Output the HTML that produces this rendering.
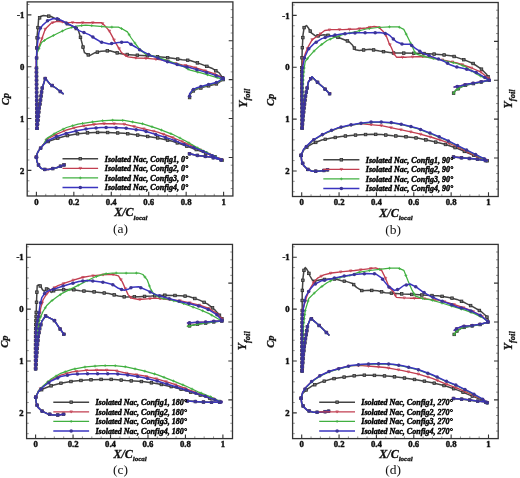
<!DOCTYPE html><html><head><meta charset="utf-8"><style>html,body{margin:0;padding:0;background:#fff}svg{display:block;filter:blur(0.35px)}</style></head><body><svg width="520" height="478" viewBox="0 0 520 478">
<style>
.tk{font-family:"Liberation Serif",serif;font-weight:bold;font-size:8.7px;fill:#111;stroke:#111;stroke-width:0.45px}
.ti{font-family:"Liberation Serif",serif;font-weight:bold;font-style:italic;fill:#111;stroke:#111;stroke-width:0.3px}
.lg{font-family:"Liberation Serif",serif;font-weight:bold;font-style:italic;font-size:8px;fill:#000;stroke:#000;stroke-width:0.42px}
.lb{font-family:"Liberation Serif",serif;font-size:13.5px;fill:#111}
</style>
<rect width="520" height="478" fill="#fff"/>
<path d="M27.2 14.85h4.2M27.2 66.7h4.2M27.2 118.55h4.2M27.2 170.4h4.2M36.4 196v-4.2M73.84 196v-4.2M111.28 196v-4.2M148.72 196v-4.2M186.16 196v-4.2M223.6 196v-4.2M232.9 40.77h-4.2M232.9 79.66h-4.2M232.9 118.55h-4.2M232.9 157.44h-4.2" stroke="#333" stroke-width="1.1" fill="none"/>
<path d="M27.2 4.48h2.2M27.2 25.22h2.2M27.2 35.59h2.2M27.2 45.96h2.2M27.2 56.33h2.2M27.2 77.07h2.2M27.2 87.44h2.2M27.2 97.81h2.2M27.2 108.18h2.2M27.2 128.92h2.2M27.2 139.29h2.2M27.2 149.66h2.2M27.2 160.03h2.2M27.2 180.77h2.2M27.2 191.14h2.2M45.76 196v-2.2M55.12 196v-2.2M64.48 196v-2.2M83.2 196v-2.2M92.56 196v-2.2M101.92 196v-2.2M120.64 196v-2.2M130 196v-2.2M139.36 196v-2.2M158.08 196v-2.2M167.44 196v-2.2M176.8 196v-2.2M195.52 196v-2.2M204.88 196v-2.2M214.24 196v-2.2M232.9 9.66h-2.2M232.9 17.44h-2.2M232.9 25.22h-2.2M232.9 33h-2.2M232.9 48.55h-2.2M232.9 56.33h-2.2M232.9 64.11h-2.2M232.9 71.89h-2.2M232.9 87.44h-2.2M232.9 95.22h-2.2M232.9 102.99h-2.2M232.9 110.77h-2.2M232.9 126.33h-2.2M232.9 134.1h-2.2M232.9 141.88h-2.2M232.9 149.66h-2.2M232.9 165.22h-2.2M232.9 172.99h-2.2M232.9 180.77h-2.2M232.9 188.55h-2.2" stroke="#888" stroke-width="0.9" fill="none"/>
<rect x="27.2" y="1.9" width="205.7" height="194.1" fill="none" stroke="#333" stroke-width="1.3"/>
<text x="24.3" y="18.05" text-anchor="end" class="tk">-1</text>
<text x="24.3" y="69.9" text-anchor="end" class="tk">0</text>
<text x="24.3" y="121.75" text-anchor="end" class="tk">1</text>
<text x="24.3" y="173.6" text-anchor="end" class="tk">2</text>
<text x="36.4" y="204.6" text-anchor="middle" class="tk">0</text>
<text x="73.84" y="204.6" text-anchor="middle" class="tk">0.2</text>
<text x="111.28" y="204.6" text-anchor="middle" class="tk">0.4</text>
<text x="148.72" y="204.6" text-anchor="middle" class="tk">0.6</text>
<text x="186.16" y="204.6" text-anchor="middle" class="tk">0.8</text>
<text x="223.6" y="204.6" text-anchor="middle" class="tk">1</text>
<text transform="translate(8.9 99.2) rotate(-90)" text-anchor="middle" class="ti" font-size="10.5">Cp</text>
<text transform="translate(246.5 98.3) rotate(-90)" text-anchor="middle" class="ti"><tspan font-size="11.5">Y</tspan><tspan font-size="8.5" dy="3.5" dx="0.3">foil</tspan></text>
<text x="130.9" y="216.3" text-anchor="middle" class="ti"><tspan font-size="12">X/C</tspan><tspan font-size="7" dy="3.4">local</tspan></text>
<text x="120.5" y="233.2" text-anchor="middle" class="lb">(a)</text>
<path d="M37 128.3L36.8 110L36.6 90L36.5 71.3L36.7 50.2L37.2 34.8L38 27.1L38.6 19.4L40.5 16.5L43.4 15.5L47.2 15.9L51.1 16.5L56.8 19.4L64.5 22.3L72.2 26.1L78 29.6L79.5 34.1L81 39.1L82.5 45.1L84.5 52.7L89.6 55.7L95.1 52.7L101.1 51.2L110.1 50.7L118.2 53.2L126 54.4L136.6 55.2L147.2 55.8L164.1 57.3L172.7 58.3L182.2 59.7L190.2 60.5L201 64.1L211.8 68.2L219.2 72.9L222.5 77.6L223.2 78.9" fill="none" stroke="#444444" stroke-width="1.5" stroke-linejoin="round" stroke-linecap="round"/>
<path d="M37 128.3L38.2 118L39 109.8L40.4 101L41.9 89.3L45.3 78.3L50 84.1L56.5 88.5L63.1 93.7" fill="none" stroke="#444444" stroke-width="1.5" stroke-linejoin="round" stroke-linecap="round"/>
<path d="M223.2 79.6L217.1 83.7L206.4 86.4L197 89.1L192.9 91.1L189.6 95.1L189.6 97.8" fill="none" stroke="#444444" stroke-width="1.5" stroke-linejoin="round" stroke-linecap="round"/>
<path d="M36.4 157.2L37.2 153.5L38.7 150.6L43 145.2L47.2 141.9L56.8 138.5L66.5 135.8L78 133.7L89.5 132.7L101.1 132.3L112.6 132.7L124.2 133.3L142.9 135.8L157.7 137.9L172.5 141.3L185.2 145.5L197.9 150.2L210.6 154.8L222.3 160.3" fill="none" stroke="#444444" stroke-width="1.5" stroke-linejoin="round" stroke-linecap="round"/>
<path d="M36.4 157.2L36.9 161.5L38.6 165.2L41 168.3L44.5 169.4L48.5 169.5L56.5 167.8L64 164.9" fill="none" stroke="#444444" stroke-width="1.5" stroke-linejoin="round" stroke-linecap="round"/>
<path d="M189.5 153.8L197.9 155.5L210.6 157L217 158.7L222.3 160.3" fill="none" stroke="#444444" stroke-width="1.5" stroke-linejoin="round" stroke-linecap="round"/>
<rect x="35.7" y="127" width="2.6" height="2.6" fill="#707070" stroke="#2a2a2a" stroke-width="0.75"/><rect x="35.66" y="122.99" width="2.6" height="2.6" fill="#707070" stroke="#2a2a2a" stroke-width="0.75"/><rect x="35.61" y="118.98" width="2.6" height="2.6" fill="#707070" stroke="#2a2a2a" stroke-width="0.75"/><rect x="35.57" y="114.97" width="2.6" height="2.6" fill="#707070" stroke="#2a2a2a" stroke-width="0.75"/><rect x="35.52" y="110.96" width="2.6" height="2.6" fill="#707070" stroke="#2a2a2a" stroke-width="0.75"/><rect x="35.48" y="106.95" width="2.6" height="2.6" fill="#707070" stroke="#2a2a2a" stroke-width="0.75"/><rect x="35.44" y="102.95" width="2.6" height="2.6" fill="#707070" stroke="#2a2a2a" stroke-width="0.75"/><rect x="35.4" y="98.95" width="2.6" height="2.6" fill="#707070" stroke="#2a2a2a" stroke-width="0.75"/><rect x="35.36" y="94.95" width="2.6" height="2.6" fill="#707070" stroke="#2a2a2a" stroke-width="0.75"/><rect x="35.32" y="90.95" width="2.6" height="2.6" fill="#707070" stroke="#2a2a2a" stroke-width="0.75"/><rect x="35.29" y="86.93" width="2.6" height="2.6" fill="#707070" stroke="#2a2a2a" stroke-width="0.75"/><rect x="35.27" y="82.89" width="2.6" height="2.6" fill="#707070" stroke="#2a2a2a" stroke-width="0.75"/><rect x="35.25" y="78.84" width="2.6" height="2.6" fill="#707070" stroke="#2a2a2a" stroke-width="0.75"/><rect x="35.23" y="74.8" width="2.6" height="2.6" fill="#707070" stroke="#2a2a2a" stroke-width="0.75"/><rect x="35.2" y="70.76" width="2.6" height="2.6" fill="#707070" stroke="#2a2a2a" stroke-width="0.75"/><rect x="35.23" y="66.73" width="2.6" height="2.6" fill="#707070" stroke="#2a2a2a" stroke-width="0.75"/><rect x="35.33" y="56.69" width="2.6" height="2.6" fill="#707070" stroke="#2a2a2a" stroke-width="0.75"/><rect x="35.47" y="46.63" width="2.6" height="2.6" fill="#707070" stroke="#2a2a2a" stroke-width="0.75"/><rect x="35.8" y="36.53" width="2.6" height="2.6" fill="#707070" stroke="#2a2a2a" stroke-width="0.75"/><rect x="36.65" y="26.31" width="2.6" height="2.6" fill="#707070" stroke="#2a2a2a" stroke-width="0.75"/><rect x="38.32" y="16.54" width="2.6" height="2.6" fill="#707070" stroke="#2a2a2a" stroke-width="0.75"/><rect x="47.46" y="14.84" width="2.6" height="2.6" fill="#707070" stroke="#2a2a2a" stroke-width="0.75"/><rect x="56.7" y="18.55" width="2.6" height="2.6" fill="#707070" stroke="#2a2a2a" stroke-width="0.75"/><rect x="66.14" y="22.45" width="2.6" height="2.6" fill="#707070" stroke="#2a2a2a" stroke-width="0.75"/><rect x="74.98" y="27.26" width="2.6" height="2.6" fill="#707070" stroke="#2a2a2a" stroke-width="0.75"/><rect x="79.17" y="36.05" width="2.6" height="2.6" fill="#707070" stroke="#2a2a2a" stroke-width="0.75"/><rect x="81.72" y="45.76" width="2.6" height="2.6" fill="#707070" stroke="#2a2a2a" stroke-width="0.75"/><rect x="86.97" y="53.62" width="2.6" height="2.6" fill="#707070" stroke="#2a2a2a" stroke-width="0.75"/><rect x="96.05" y="50.84" width="2.6" height="2.6" fill="#707070" stroke="#2a2a2a" stroke-width="0.75"/><rect x="106.05" y="49.55" width="2.6" height="2.6" fill="#707070" stroke="#2a2a2a" stroke-width="0.75"/><rect x="115.92" y="51.6" width="2.6" height="2.6" fill="#707070" stroke="#2a2a2a" stroke-width="0.75"/><rect x="125.96" y="53.2" width="2.6" height="2.6" fill="#707070" stroke="#2a2a2a" stroke-width="0.75"/><rect x="136.06" y="53.94" width="2.6" height="2.6" fill="#707070" stroke="#2a2a2a" stroke-width="0.75"/><rect x="146.15" y="54.52" width="2.6" height="2.6" fill="#707070" stroke="#2a2a2a" stroke-width="0.75"/><rect x="156.24" y="55.42" width="2.6" height="2.6" fill="#707070" stroke="#2a2a2a" stroke-width="0.75"/><rect x="166.34" y="56.41" width="2.6" height="2.6" fill="#707070" stroke="#2a2a2a" stroke-width="0.75"/><rect x="176.4" y="57.74" width="2.6" height="2.6" fill="#707070" stroke="#2a2a2a" stroke-width="0.75"/><rect x="186.4" y="58.95" width="2.6" height="2.6" fill="#707070" stroke="#2a2a2a" stroke-width="0.75"/><rect x="196.1" y="61.6" width="2.6" height="2.6" fill="#707070" stroke="#2a2a2a" stroke-width="0.75"/><rect x="205.57" y="65.03" width="2.6" height="2.6" fill="#707070" stroke="#2a2a2a" stroke-width="0.75"/><rect x="214.52" y="69.45" width="2.6" height="2.6" fill="#707070" stroke="#2a2a2a" stroke-width="0.75"/><rect x="221.34" y="76.56" width="2.6" height="2.6" fill="#707070" stroke="#2a2a2a" stroke-width="0.75"/>
<rect x="35.7" y="127" width="2.6" height="2.6" fill="#707070" stroke="#2a2a2a" stroke-width="0.75"/><rect x="36.17" y="122.98" width="2.6" height="2.6" fill="#707070" stroke="#2a2a2a" stroke-width="0.75"/><rect x="36.64" y="118.96" width="2.6" height="2.6" fill="#707070" stroke="#2a2a2a" stroke-width="0.75"/><rect x="37.08" y="114.91" width="2.6" height="2.6" fill="#707070" stroke="#2a2a2a" stroke-width="0.75"/><rect x="37.48" y="110.81" width="2.6" height="2.6" fill="#707070" stroke="#2a2a2a" stroke-width="0.75"/><rect x="37.98" y="106.74" width="2.6" height="2.6" fill="#707070" stroke="#2a2a2a" stroke-width="0.75"/><rect x="38.62" y="102.72" width="2.6" height="2.6" fill="#707070" stroke="#2a2a2a" stroke-width="0.75"/><rect x="39.23" y="98.7" width="2.6" height="2.6" fill="#707070" stroke="#2a2a2a" stroke-width="0.75"/><rect x="39.74" y="94.72" width="2.6" height="2.6" fill="#707070" stroke="#2a2a2a" stroke-width="0.75"/><rect x="40.25" y="90.74" width="2.6" height="2.6" fill="#707070" stroke="#2a2a2a" stroke-width="0.75"/><rect x="40.97" y="86.8" width="2.6" height="2.6" fill="#707070" stroke="#2a2a2a" stroke-width="0.75"/><rect x="43.93" y="77.24" width="2.6" height="2.6" fill="#707070" stroke="#2a2a2a" stroke-width="0.75"/><rect x="50.8" y="84.22" width="2.6" height="2.6" fill="#707070" stroke="#2a2a2a" stroke-width="0.75"/><rect x="59" y="90.19" width="2.6" height="2.6" fill="#707070" stroke="#2a2a2a" stroke-width="0.75"/>
<rect x="221.9" y="78.3" width="2.6" height="2.6" fill="#707070" stroke="#2a2a2a" stroke-width="0.75"/><rect x="215.07" y="82.58" width="2.6" height="2.6" fill="#707070" stroke="#2a2a2a" stroke-width="0.75"/><rect x="207.29" y="84.55" width="2.6" height="2.6" fill="#707070" stroke="#2a2a2a" stroke-width="0.75"/><rect x="199.56" y="86.69" width="2.6" height="2.6" fill="#707070" stroke="#2a2a2a" stroke-width="0.75"/><rect x="192.06" y="89.58" width="2.6" height="2.6" fill="#707070" stroke="#2a2a2a" stroke-width="0.75"/><rect x="188.3" y="96.23" width="2.6" height="2.6" fill="#707070" stroke="#2a2a2a" stroke-width="0.75"/>
<rect x="35.1" y="155.9" width="2.6" height="2.6" fill="#707070" stroke="#2a2a2a" stroke-width="0.75"/><rect x="39.31" y="146.9" width="2.6" height="2.6" fill="#707070" stroke="#2a2a2a" stroke-width="0.75"/><rect x="46.86" y="140.26" width="2.6" height="2.6" fill="#707070" stroke="#2a2a2a" stroke-width="0.75"/><rect x="56.47" y="136.93" width="2.6" height="2.6" fill="#707070" stroke="#2a2a2a" stroke-width="0.75"/><rect x="66.2" y="134.32" width="2.6" height="2.6" fill="#707070" stroke="#2a2a2a" stroke-width="0.75"/><rect x="76.2" y="132.49" width="2.6" height="2.6" fill="#707070" stroke="#2a2a2a" stroke-width="0.75"/><rect x="86.2" y="131.57" width="2.6" height="2.6" fill="#707070" stroke="#2a2a2a" stroke-width="0.75"/><rect x="96.27" y="131.12" width="2.6" height="2.6" fill="#707070" stroke="#2a2a2a" stroke-width="0.75"/><rect x="106.3" y="131.23" width="2.6" height="2.6" fill="#707070" stroke="#2a2a2a" stroke-width="0.75"/><rect x="116.34" y="131.66" width="2.6" height="2.6" fill="#707070" stroke="#2a2a2a" stroke-width="0.75"/><rect x="126.39" y="132.47" width="2.6" height="2.6" fill="#707070" stroke="#2a2a2a" stroke-width="0.75"/><rect x="136.36" y="133.8" width="2.6" height="2.6" fill="#707070" stroke="#2a2a2a" stroke-width="0.75"/><rect x="146.37" y="135.18" width="2.6" height="2.6" fill="#707070" stroke="#2a2a2a" stroke-width="0.75"/><rect x="156.4" y="136.6" width="2.6" height="2.6" fill="#707070" stroke="#2a2a2a" stroke-width="0.75"/><rect x="166.27" y="138.87" width="2.6" height="2.6" fill="#707070" stroke="#2a2a2a" stroke-width="0.75"/><rect x="175.99" y="141.58" width="2.6" height="2.6" fill="#707070" stroke="#2a2a2a" stroke-width="0.75"/><rect x="185.55" y="144.81" width="2.6" height="2.6" fill="#707070" stroke="#2a2a2a" stroke-width="0.75"/><rect x="194.95" y="148.29" width="2.6" height="2.6" fill="#707070" stroke="#2a2a2a" stroke-width="0.75"/><rect x="204.36" y="151.71" width="2.6" height="2.6" fill="#707070" stroke="#2a2a2a" stroke-width="0.75"/><rect x="213.66" y="155.55" width="2.6" height="2.6" fill="#707070" stroke="#2a2a2a" stroke-width="0.75"/><rect x="221" y="159" width="2.6" height="2.6" fill="#707070" stroke="#2a2a2a" stroke-width="0.75"/>
<rect x="35.1" y="155.9" width="2.6" height="2.6" fill="#707070" stroke="#2a2a2a" stroke-width="0.75"/><rect x="37.19" y="163.67" width="2.6" height="2.6" fill="#707070" stroke="#2a2a2a" stroke-width="0.75"/><rect x="43.45" y="168.11" width="2.6" height="2.6" fill="#707070" stroke="#2a2a2a" stroke-width="0.75"/><rect x="51.45" y="167.3" width="2.6" height="2.6" fill="#707070" stroke="#2a2a2a" stroke-width="0.75"/><rect x="59.18" y="164.96" width="2.6" height="2.6" fill="#707070" stroke="#2a2a2a" stroke-width="0.75"/><rect x="62.7" y="163.6" width="2.6" height="2.6" fill="#707070" stroke="#2a2a2a" stroke-width="0.75"/>
<rect x="188.2" y="152.5" width="2.6" height="2.6" fill="#707070" stroke="#2a2a2a" stroke-width="0.75"/><rect x="196.11" y="154.1" width="2.6" height="2.6" fill="#707070" stroke="#2a2a2a" stroke-width="0.75"/><rect x="204.07" y="155.08" width="2.6" height="2.6" fill="#707070" stroke="#2a2a2a" stroke-width="0.75"/><rect x="212.01" y="156.42" width="2.6" height="2.6" fill="#707070" stroke="#2a2a2a" stroke-width="0.75"/><rect x="219.8" y="158.64" width="2.6" height="2.6" fill="#707070" stroke="#2a2a2a" stroke-width="0.75"/>
<path d="M37 128.3L36.8 110L36.5 80L36.1 61.7L37.6 50.2L40.5 42.5L45.3 29L51.1 23.2L56.8 21.3L66.5 22.3L76.1 22.7L89.5 22.7L101.6 22.7L105.1 26.1L109.1 30.6L112.1 36.1L115.2 42.1L118.2 47.1L121.2 52.2L124.2 54.7L128 56.9L136.6 58L147.2 58.4L157.7 59.4L168.3 61.1L172.7 62.8L182.2 64.8L190.2 66.2L201 69.5L211.8 72.9L219.8 76.2L223.2 78.9" fill="none" stroke="#c23e50" stroke-width="1.35" stroke-linejoin="round" stroke-linecap="round"/>
<path d="M37 128.3L38.2 118L39 109.8L40.4 101L41.9 89.3L45.3 78.3L50 84.1L56.5 88.5L63.1 93.7" fill="none" stroke="#c23e50" stroke-width="1.35" stroke-linejoin="round" stroke-linecap="round"/>
<path d="M223.2 78.9L217.1 83L206.4 85.7L197 88.4L192.9 90.4L189.6 94.4L189.6 97.1" fill="none" stroke="#c23e50" stroke-width="1.35" stroke-linejoin="round" stroke-linecap="round"/>
<path d="M36.4 157.2L37.2 153.5L38.7 150.6L43 145.2L47.2 139L56.8 134.2L66.5 130L78 126.9L89.5 125L101.1 123.7L112.6 123.7L124.2 124.2L142.9 128.6L157.7 132.2L172.5 137.5L185.2 142.8L197.9 148.7L210.6 154.8L222.3 160.3" fill="none" stroke="#c23e50" stroke-width="1.35" stroke-linejoin="round" stroke-linecap="round"/>
<path d="M36.4 157.2L36.9 161.5L38.6 165.2L41 168.3L44.5 169.4L48.5 169.5L56.5 167.8L64 164.9" fill="none" stroke="#c23e50" stroke-width="1.35" stroke-linejoin="round" stroke-linecap="round"/>
<path d="M189.5 153.8L197.9 155.5L210.6 157L217 158.7L222.3 160.3" fill="none" stroke="#c23e50" stroke-width="1.35" stroke-linejoin="round" stroke-linecap="round"/>
<path d="M35.7 127.39H38.3L37 129.6Z" fill="none" stroke="#c23e50" stroke-width="0.7"/><path d="M35.66 123.38H38.26L36.96 125.59Z" fill="none" stroke="#c23e50" stroke-width="0.7"/><path d="M35.61 119.37H38.21L36.91 121.58Z" fill="none" stroke="#c23e50" stroke-width="0.7"/><path d="M35.57 115.36H38.17L36.87 117.57Z" fill="none" stroke="#c23e50" stroke-width="0.7"/><path d="M35.52 111.35H38.12L36.82 113.56Z" fill="none" stroke="#c23e50" stroke-width="0.7"/><path d="M35.48 107.34H38.08L36.78 109.55Z" fill="none" stroke="#c23e50" stroke-width="0.7"/><path d="M35.44 103.34H38.04L36.74 105.55Z" fill="none" stroke="#c23e50" stroke-width="0.7"/><path d="M35.4 99.34H38L36.7 101.55Z" fill="none" stroke="#c23e50" stroke-width="0.7"/><path d="M35.36 95.34H37.96L36.66 97.55Z" fill="none" stroke="#c23e50" stroke-width="0.7"/><path d="M35.32 91.34H37.92L36.62 93.55Z" fill="none" stroke="#c23e50" stroke-width="0.7"/><path d="M35.28 87.34H37.88L36.58 89.55Z" fill="none" stroke="#c23e50" stroke-width="0.7"/><path d="M35.24 83.34H37.84L36.54 85.55Z" fill="none" stroke="#c23e50" stroke-width="0.7"/><path d="M35.2 79.34H37.8L36.5 81.55Z" fill="none" stroke="#c23e50" stroke-width="0.7"/><path d="M35.12 75.33H37.72L36.42 77.54Z" fill="none" stroke="#c23e50" stroke-width="0.7"/><path d="M35.03 71.32H37.63L36.33 73.53Z" fill="none" stroke="#c23e50" stroke-width="0.7"/><path d="M34.94 67.31H37.54L36.24 69.52Z" fill="none" stroke="#c23e50" stroke-width="0.7"/><path d="M35.26 57.29H37.86L36.56 59.5Z" fill="none" stroke="#c23e50" stroke-width="0.7"/><path d="M37.03 47.37H39.62L38.33 49.58Z" fill="none" stroke="#c23e50" stroke-width="0.7"/><path d="M40.55 37.8H43.15L41.85 40.01Z" fill="none" stroke="#c23e50" stroke-width="0.7"/><path d="M43.92 28.33H46.52L45.22 30.54Z" fill="none" stroke="#c23e50" stroke-width="0.7"/><path d="M51.46 21.74H54.06L52.76 23.95Z" fill="none" stroke="#c23e50" stroke-width="0.7"/><path d="M61.22 20.98H63.82L62.52 23.19Z" fill="none" stroke="#c23e50" stroke-width="0.7"/><path d="M71.26 21.64H73.86L72.56 23.85Z" fill="none" stroke="#c23e50" stroke-width="0.7"/><path d="M81.37 21.79H83.97L82.67 24Z" fill="none" stroke="#c23e50" stroke-width="0.7"/><path d="M91.48 21.79H94.08L92.78 24Z" fill="none" stroke="#c23e50" stroke-width="0.7"/><path d="M101.22 22.68H103.82L102.52 24.89Z" fill="none" stroke="#c23e50" stroke-width="0.7"/><path d="M108.04 30.13H110.64L109.34 32.34Z" fill="none" stroke="#c23e50" stroke-width="0.7"/><path d="M112.75 38.97H115.35L114.05 41.18Z" fill="none" stroke="#c23e50" stroke-width="0.7"/><path d="M117.81 47.74H120.41L119.11 49.95Z" fill="none" stroke="#c23e50" stroke-width="0.7"/><path d="M124.69 54.83H127.29L125.99 57.04Z" fill="none" stroke="#c23e50" stroke-width="0.7"/><path d="M134.54 56.99H137.14L135.84 59.2Z" fill="none" stroke="#c23e50" stroke-width="0.7"/><path d="M144.64 57.44H147.24L145.94 59.65Z" fill="none" stroke="#c23e50" stroke-width="0.7"/><path d="M154.65 58.32H157.25L155.95 60.53Z" fill="none" stroke="#c23e50" stroke-width="0.7"/><path d="M164.73 59.83H167.33L166.03 62.04Z" fill="none" stroke="#c23e50" stroke-width="0.7"/><path d="M174.4 62.52H177L175.7 64.73Z" fill="none" stroke="#c23e50" stroke-width="0.7"/><path d="M184.4 64.5H187L185.7 66.71Z" fill="none" stroke="#c23e50" stroke-width="0.7"/><path d="M194.18 66.9H196.78L195.48 69.11Z" fill="none" stroke="#c23e50" stroke-width="0.7"/><path d="M203.78 69.87H206.38L205.08 72.08Z" fill="none" stroke="#c23e50" stroke-width="0.7"/><path d="M213.32 73.15H215.92L214.62 75.36Z" fill="none" stroke="#c23e50" stroke-width="0.7"/><path d="M221.9 77.99H224.5L223.2 80.2Z" fill="none" stroke="#c23e50" stroke-width="0.7"/>
<path d="M35.7 127.39H38.3L37 129.6Z" fill="none" stroke="#c23e50" stroke-width="0.7"/><path d="M36.17 123.37H38.77L37.47 125.58Z" fill="none" stroke="#c23e50" stroke-width="0.7"/><path d="M36.64 119.35H39.24L37.94 121.56Z" fill="none" stroke="#c23e50" stroke-width="0.7"/><path d="M37.08 115.3H39.67L38.38 117.51Z" fill="none" stroke="#c23e50" stroke-width="0.7"/><path d="M37.48 111.2H40.07L38.77 113.41Z" fill="none" stroke="#c23e50" stroke-width="0.7"/><path d="M37.98 107.13H40.58L39.28 109.34Z" fill="none" stroke="#c23e50" stroke-width="0.7"/><path d="M38.62 103.11H41.22L39.92 105.32Z" fill="none" stroke="#c23e50" stroke-width="0.7"/><path d="M39.23 99.09H41.83L40.53 101.3Z" fill="none" stroke="#c23e50" stroke-width="0.7"/><path d="M39.74 95.11H42.34L41.04 97.32Z" fill="none" stroke="#c23e50" stroke-width="0.7"/><path d="M40.25 91.13H42.85L41.55 93.34Z" fill="none" stroke="#c23e50" stroke-width="0.7"/><path d="M40.97 87.19H43.57L42.27 89.4Z" fill="none" stroke="#c23e50" stroke-width="0.7"/><path d="M43.93 77.63H46.53L45.23 79.84Z" fill="none" stroke="#c23e50" stroke-width="0.7"/><path d="M50.8 84.61H53.4L52.1 86.82Z" fill="none" stroke="#c23e50" stroke-width="0.7"/><path d="M59 90.58H61.6L60.3 92.79Z" fill="none" stroke="#c23e50" stroke-width="0.7"/>
<path d="M221.9 77.99H224.5L223.2 80.2Z" fill="none" stroke="#c23e50" stroke-width="0.7"/><path d="M215.07 82.27H217.67L216.37 84.48Z" fill="none" stroke="#c23e50" stroke-width="0.7"/><path d="M207.29 84.24H209.89L208.59 86.45Z" fill="none" stroke="#c23e50" stroke-width="0.7"/><path d="M199.56 86.38H202.16L200.86 88.59Z" fill="none" stroke="#c23e50" stroke-width="0.7"/><path d="M192.06 89.27H194.66L193.36 91.48Z" fill="none" stroke="#c23e50" stroke-width="0.7"/><path d="M188.3 95.92H190.9L189.6 98.13Z" fill="none" stroke="#c23e50" stroke-width="0.7"/>
<path d="M35.1 156.29H37.7L36.4 158.5Z" fill="none" stroke="#c23e50" stroke-width="0.7"/><path d="M39.31 147.29H41.91L40.61 149.5Z" fill="none" stroke="#c23e50" stroke-width="0.7"/><path d="M45.18 139.16H47.78L46.48 141.37Z" fill="none" stroke="#c23e50" stroke-width="0.7"/><path d="M53.9 134.09H56.5L55.2 136.3Z" fill="none" stroke="#c23e50" stroke-width="0.7"/><path d="M63.12 129.99H65.72L64.42 132.2Z" fill="none" stroke="#c23e50" stroke-width="0.7"/><path d="M72.79 127.05H75.39L74.09 129.26Z" fill="none" stroke="#c23e50" stroke-width="0.7"/><path d="M82.7 125H85.3L84 127.21Z" fill="none" stroke="#c23e50" stroke-width="0.7"/><path d="M92.74 123.58H95.34L94.04 125.79Z" fill="none" stroke="#c23e50" stroke-width="0.7"/><path d="M102.8 122.79H105.4L104.1 125Z" fill="none" stroke="#c23e50" stroke-width="0.7"/><path d="M112.81 122.86H115.41L114.11 125.07Z" fill="none" stroke="#c23e50" stroke-width="0.7"/><path d="M122.9 123.29H125.5L124.2 125.5Z" fill="none" stroke="#c23e50" stroke-width="0.7"/><path d="M132.74 125.61H135.34L134.04 127.82Z" fill="none" stroke="#c23e50" stroke-width="0.7"/><path d="M142.59 127.93H145.19L143.89 130.14Z" fill="none" stroke="#c23e50" stroke-width="0.7"/><path d="M152.45 130.33H155.05L153.75 132.54Z" fill="none" stroke="#c23e50" stroke-width="0.7"/><path d="M162.13 133.34H164.73L163.43 135.55Z" fill="none" stroke="#c23e50" stroke-width="0.7"/><path d="M171.66 136.78H174.26L172.96 138.99Z" fill="none" stroke="#c23e50" stroke-width="0.7"/><path d="M180.9 140.64H183.5L182.2 142.85Z" fill="none" stroke="#c23e50" stroke-width="0.7"/><path d="M190.02 144.73H192.62L191.32 146.94Z" fill="none" stroke="#c23e50" stroke-width="0.7"/><path d="M199.09 148.99H201.69L200.39 151.2Z" fill="none" stroke="#c23e50" stroke-width="0.7"/><path d="M208.17 153.35H210.77L209.47 155.56Z" fill="none" stroke="#c23e50" stroke-width="0.7"/><path d="M217.33 157.66H219.93L218.63 159.87Z" fill="none" stroke="#c23e50" stroke-width="0.7"/><path d="M221 159.39H223.6L222.3 161.6Z" fill="none" stroke="#c23e50" stroke-width="0.7"/>
<path d="M35.1 156.29H37.7L36.4 158.5Z" fill="none" stroke="#c23e50" stroke-width="0.7"/><path d="M37.19 164.06H39.79L38.49 166.27Z" fill="none" stroke="#c23e50" stroke-width="0.7"/><path d="M43.45 168.5H46.05L44.75 170.71Z" fill="none" stroke="#c23e50" stroke-width="0.7"/><path d="M51.45 167.69H54.05L52.75 169.9Z" fill="none" stroke="#c23e50" stroke-width="0.7"/><path d="M59.18 165.35H61.78L60.48 167.56Z" fill="none" stroke="#c23e50" stroke-width="0.7"/><path d="M62.7 163.99H65.3L64 166.2Z" fill="none" stroke="#c23e50" stroke-width="0.7"/>
<path d="M188.2 152.89H190.8L189.5 155.1Z" fill="none" stroke="#c23e50" stroke-width="0.7"/><path d="M196.11 154.49H198.71L197.41 156.7Z" fill="none" stroke="#c23e50" stroke-width="0.7"/><path d="M204.07 155.47H206.67L205.37 157.68Z" fill="none" stroke="#c23e50" stroke-width="0.7"/><path d="M212.01 156.81H214.61L213.31 159.02Z" fill="none" stroke="#c23e50" stroke-width="0.7"/><path d="M219.8 159.03H222.4L221.1 161.24Z" fill="none" stroke="#c23e50" stroke-width="0.7"/>
<path d="M37 128.3L36.8 110L36.6 80L36.7 54L41.5 42.5L47.2 38.6L56.8 33.8L66.5 29L76.1 26.1L85.7 25.2L97.2 26.1L108.8 27.1L118.4 27.1L122 28.8L127.4 31.9L131.2 38L135.6 44L139 48.4L142.5 51.8L146 54.4L152.9 55.9L164.1 59.4L174.7 63.2L183.1 66.4L190.2 70.2L201 72.9L210.4 75.6L219.8 78.3L223.2 79.6" fill="none" stroke="#40b040" stroke-width="1.25" stroke-linejoin="round" stroke-linecap="round"/>
<path d="M37 128.3L38.2 118L39 109.8L40.4 101L41.9 89.3L45.3 78.3L50 84.1L56.5 88.5L63.1 93.7" fill="none" stroke="#40b040" stroke-width="1.25" stroke-linejoin="round" stroke-linecap="round"/>
<path d="M223.2 78.9L217.1 83L206.4 85.7L197 88.4L192.9 90.4L189.6 94.4L189.6 97.1" fill="none" stroke="#40b040" stroke-width="1.25" stroke-linejoin="round" stroke-linecap="round"/>
<path d="M36.4 157.2L37.2 153.5L38.7 150.6L43 145.2L47.2 138.1L56.8 132.3L66.5 127.5L78 124.2L89.5 122.3L101.1 120.8L112.6 120.2L124.2 120.4L142.9 123.8L157.7 128.6L172.5 134.3L185.2 140.7L197.9 148.1L210.6 154.4L222.3 160.3" fill="none" stroke="#40b040" stroke-width="1.25" stroke-linejoin="round" stroke-linecap="round"/>
<path d="M36.4 157.2L36.9 161.5L38.6 165.2L41 168.3L44.5 169.4L48.5 169.5L56.5 167.8L64 164.9" fill="none" stroke="#40b040" stroke-width="1.25" stroke-linejoin="round" stroke-linecap="round"/>
<path d="M189.5 153.8L197.9 155.5L210.6 157L217 158.7L222.3 160.3" fill="none" stroke="#40b040" stroke-width="1.25" stroke-linejoin="round" stroke-linecap="round"/>
<path d="M35.6 128.3H38.4M37 126.9V129.7" stroke="#40b040" stroke-width="0.8"/><path d="M35.56 124.29H38.36M36.96 122.89V125.69" stroke="#40b040" stroke-width="0.8"/><path d="M35.51 120.28H38.31M36.91 118.88V121.68" stroke="#40b040" stroke-width="0.8"/><path d="M35.47 116.27H38.27M36.87 114.87V117.67" stroke="#40b040" stroke-width="0.8"/><path d="M35.42 112.26H38.22M36.82 110.86V113.66" stroke="#40b040" stroke-width="0.8"/><path d="M35.39 108.25H38.19M36.79 106.85V109.65" stroke="#40b040" stroke-width="0.8"/><path d="M35.36 104.25H38.16M36.76 102.85V105.65" stroke="#40b040" stroke-width="0.8"/><path d="M35.34 100.25H38.13M36.73 98.85V101.65" stroke="#40b040" stroke-width="0.8"/><path d="M35.31 96.25H38.11M36.71 94.85V97.65" stroke="#40b040" stroke-width="0.8"/><path d="M35.28 92.25H38.08M36.68 90.85V93.65" stroke="#40b040" stroke-width="0.8"/><path d="M35.26 88.25H38.05M36.66 86.85V89.65" stroke="#40b040" stroke-width="0.8"/><path d="M35.23 84.25H38.03M36.63 82.85V85.65" stroke="#40b040" stroke-width="0.8"/><path d="M35.2 80.25H38M36.6 78.85V81.65" stroke="#40b040" stroke-width="0.8"/><path d="M35.21 76.25H38.01M36.61 74.85V77.65" stroke="#40b040" stroke-width="0.8"/><path d="M35.23 72.25H38.03M36.63 70.85V73.65" stroke="#40b040" stroke-width="0.8"/><path d="M35.25 68.25H38.05M36.65 66.85V69.65" stroke="#40b040" stroke-width="0.8"/><path d="M35.28 58.25H38.08M36.68 56.85V59.65" stroke="#40b040" stroke-width="0.8"/><path d="M37.55 48.6H40.35M38.95 47.2V50" stroke="#40b040" stroke-width="0.8"/><path d="M43.06 40.48H45.86M44.46 39.08V41.88" stroke="#40b040" stroke-width="0.8"/><path d="M51.97 35.51H54.77M53.37 34.11V36.91" stroke="#40b040" stroke-width="0.8"/><path d="M61.04 31.01H63.84M62.44 29.61V32.41" stroke="#40b040" stroke-width="0.8"/><path d="M70.38 27.41H73.18M71.78 26.01V28.8" stroke="#40b040" stroke-width="0.8"/><path d="M80.26 25.58H83.06M81.66 24.18V26.98" stroke="#40b040" stroke-width="0.8"/><path d="M90.3 25.67H93.1M91.7 24.27V27.07" stroke="#40b040" stroke-width="0.8"/><path d="M100.34 26.49H103.14M101.74 25.09V27.89" stroke="#40b040" stroke-width="0.8"/><path d="M110.43 27.1H113.23M111.83 25.7V28.5" stroke="#40b040" stroke-width="0.8"/><path d="M120.12 28.57H122.92M121.52 27.17V29.97" stroke="#40b040" stroke-width="0.8"/><path d="M127.76 34.73H130.56M129.16 33.33V36.13" stroke="#40b040" stroke-width="0.8"/><path d="M133.44 42.97H136.24M134.84 41.57V44.37" stroke="#40b040" stroke-width="0.8"/><path d="M139.99 50.73H142.79M141.39 49.33V52.13" stroke="#40b040" stroke-width="0.8"/><path d="M148.79 55.31H151.59M150.19 53.91V56.71" stroke="#40b040" stroke-width="0.8"/><path d="M158.56 58.11H161.36M159.96 56.71V59.51" stroke="#40b040" stroke-width="0.8"/><path d="M168.12 61.34H170.92M169.52 59.94V62.74" stroke="#40b040" stroke-width="0.8"/><path d="M177.62 64.85H180.42M179.02 63.45V66.25" stroke="#40b040" stroke-width="0.8"/><path d="M186.8 69.13H189.6M188.2 67.73V70.53" stroke="#40b040" stroke-width="0.8"/><path d="M196.41 72.1H199.21M197.81 70.7V73.5" stroke="#40b040" stroke-width="0.8"/><path d="M206.11 74.77H208.91M207.51 73.37V76.17" stroke="#40b040" stroke-width="0.8"/><path d="M215.75 77.54H218.55M217.15 76.14V78.94" stroke="#40b040" stroke-width="0.8"/><path d="M221.8 79.6H224.6M223.2 78.2V81" stroke="#40b040" stroke-width="0.8"/>
<path d="M35.6 128.3H38.4M37 126.9V129.7" stroke="#40b040" stroke-width="0.8"/><path d="M36.07 124.28H38.87M37.47 122.88V125.68" stroke="#40b040" stroke-width="0.8"/><path d="M36.54 120.26H39.34M37.94 118.86V121.66" stroke="#40b040" stroke-width="0.8"/><path d="M36.98 116.21H39.77M38.38 114.81V117.61" stroke="#40b040" stroke-width="0.8"/><path d="M37.38 112.11H40.17M38.77 110.71V113.51" stroke="#40b040" stroke-width="0.8"/><path d="M37.88 108.04H40.68M39.28 106.64V109.44" stroke="#40b040" stroke-width="0.8"/><path d="M38.52 104.02H41.32M39.92 102.62V105.42" stroke="#40b040" stroke-width="0.8"/><path d="M39.13 100H41.93M40.53 98.6V101.4" stroke="#40b040" stroke-width="0.8"/><path d="M39.64 96.02H42.44M41.04 94.62V97.42" stroke="#40b040" stroke-width="0.8"/><path d="M40.15 92.04H42.95M41.55 90.64V93.44" stroke="#40b040" stroke-width="0.8"/><path d="M40.87 88.1H43.67M42.27 86.7V89.5" stroke="#40b040" stroke-width="0.8"/><path d="M43.83 78.54H46.63M45.23 77.14V79.94" stroke="#40b040" stroke-width="0.8"/><path d="M50.7 85.52H53.5M52.1 84.12V86.92" stroke="#40b040" stroke-width="0.8"/><path d="M58.9 91.49H61.7M60.3 90.09V92.89" stroke="#40b040" stroke-width="0.8"/>
<path d="M221.8 78.9H224.6M223.2 77.5V80.3" stroke="#40b040" stroke-width="0.8"/><path d="M214.97 83.18H217.77M216.37 81.78V84.58" stroke="#40b040" stroke-width="0.8"/><path d="M207.19 85.15H209.99M208.59 83.75V86.55" stroke="#40b040" stroke-width="0.8"/><path d="M199.46 87.29H202.26M200.86 85.89V88.69" stroke="#40b040" stroke-width="0.8"/><path d="M191.96 90.18H194.76M193.36 88.78V91.58" stroke="#40b040" stroke-width="0.8"/><path d="M188.2 96.83H191M189.6 95.43V98.23" stroke="#40b040" stroke-width="0.8"/>
<path d="M35 157.2H37.8M36.4 155.8V158.6" stroke="#40b040" stroke-width="0.8"/><path d="M39.21 148.2H42.01M40.61 146.8V149.6" stroke="#40b040" stroke-width="0.8"/><path d="M44.75 139.88H47.55M46.15 138.47V141.28" stroke="#40b040" stroke-width="0.8"/><path d="M52.78 133.88H55.58M54.18 132.48V135.28" stroke="#40b040" stroke-width="0.8"/><path d="M61.72 129.17H64.52M63.12 127.77V130.57" stroke="#40b040" stroke-width="0.8"/><path d="M71.22 125.74H74.02M72.62 124.34V127.14" stroke="#40b040" stroke-width="0.8"/><path d="M81.1 123.46H83.9M82.5 122.06V124.86" stroke="#40b040" stroke-width="0.8"/><path d="M91.13 121.91H93.93M92.53 120.51V123.31" stroke="#40b040" stroke-width="0.8"/><path d="M101.2 120.72H104M102.6 119.32V122.12" stroke="#40b040" stroke-width="0.8"/><path d="M111.2 120.2H114M112.6 118.8V121.6" stroke="#40b040" stroke-width="0.8"/><path d="M121.29 120.37H124.09M122.69 118.97V121.77" stroke="#40b040" stroke-width="0.8"/><path d="M131.17 121.92H133.97M132.57 120.52V123.32" stroke="#40b040" stroke-width="0.8"/><path d="M141.01 123.71H143.81M142.41 122.31V125.11" stroke="#40b040" stroke-width="0.8"/><path d="M150.57 126.74H153.37M151.97 125.34V128.14" stroke="#40b040" stroke-width="0.8"/><path d="M160.06 130.05H162.86M161.46 128.65V131.45" stroke="#40b040" stroke-width="0.8"/><path d="M169.46 133.67H172.26M170.86 132.27V135.07" stroke="#40b040" stroke-width="0.8"/><path d="M178.58 138.07H181.38M179.98 136.67V139.47" stroke="#40b040" stroke-width="0.8"/><path d="M187.52 142.87H190.32M188.92 141.47V144.27" stroke="#40b040" stroke-width="0.8"/><path d="M196.28 147.97H199.08M197.68 146.57V149.37" stroke="#40b040" stroke-width="0.8"/><path d="M205.34 152.49H208.14M206.74 151.09V153.89" stroke="#40b040" stroke-width="0.8"/><path d="M214.38 157.01H217.18M215.78 155.61V158.41" stroke="#40b040" stroke-width="0.8"/><path d="M220.9 160.3H223.7M222.3 158.9V161.7" stroke="#40b040" stroke-width="0.8"/>
<path d="M35 157.2H37.8M36.4 155.8V158.6" stroke="#40b040" stroke-width="0.8"/><path d="M37.09 164.97H39.89M38.49 163.57V166.37" stroke="#40b040" stroke-width="0.8"/><path d="M43.35 169.41H46.15M44.75 168.01V170.81" stroke="#40b040" stroke-width="0.8"/><path d="M51.35 168.6H54.15M52.75 167.2V170" stroke="#40b040" stroke-width="0.8"/><path d="M59.08 166.26H61.88M60.48 164.86V167.66" stroke="#40b040" stroke-width="0.8"/><path d="M62.6 164.9H65.4M64 163.5V166.3" stroke="#40b040" stroke-width="0.8"/>
<path d="M188.1 153.8H190.9M189.5 152.4V155.2" stroke="#40b040" stroke-width="0.8"/><path d="M196.01 155.4H198.81M197.41 154V156.8" stroke="#40b040" stroke-width="0.8"/><path d="M203.97 156.38H206.77M205.37 154.98V157.78" stroke="#40b040" stroke-width="0.8"/><path d="M211.91 157.72H214.71M213.31 156.32V159.12" stroke="#40b040" stroke-width="0.8"/><path d="M219.7 159.94H222.5M221.1 158.54V161.34" stroke="#40b040" stroke-width="0.8"/>
<path d="M37 128.3L36.8 110L36.5 80L36.3 59.8L37.5 44L38.9 32.6L40.5 28L42.7 25.1L47.7 20.7L52.7 18.8L57 18.6L61 20.2L66.5 23.2L75 27.1L79 30.6L89.1 34.6L95 38.5L101.1 42.1L109.1 43.9L118.4 42.5L127.4 41.9L131.2 44.5L136.4 47.5L140.8 50.5L146 53.1L151.1 55.7L156.3 57.4L164.1 60.7L172.5 63.2L181 65.8L189.5 67.5L201 70.9L210.4 73.6L219.8 76.9L223.2 78.9" fill="none" stroke="#3a34c0" stroke-width="1.5" stroke-linejoin="round" stroke-linecap="round"/>
<path d="M37 128.3L38.2 118L39 109.8L40.4 101L41.9 89.3L45.3 78.3L50 84.1L56.5 88.5L63.1 93.7" fill="none" stroke="#3a34c0" stroke-width="1.5" stroke-linejoin="round" stroke-linecap="round"/>
<path d="M223.2 78.2L217.1 82.3L206.4 85L197 87.7L192.9 89.7L189.6 93.7L189.6 96.4" fill="none" stroke="#3a34c0" stroke-width="1.5" stroke-linejoin="round" stroke-linecap="round"/>
<path d="M36.4 157.2L37.2 153.5L38.7 150.6L43 145.2L47.2 141L56.8 136.5L66.5 133.3L78 130.4L89.5 128.5L101.1 127.5L112.6 127.5L124.2 128.1L142.9 130.5L157.7 135L172.5 139.6L185.2 144.9L197.9 149.1L210.6 154.8L222.3 160.3" fill="none" stroke="#3a34c0" stroke-width="1.5" stroke-linejoin="round" stroke-linecap="round"/>
<path d="M36.4 157.2L36.9 161.5L38.6 165.2L41 168.3L44.5 169.4L48.5 169.5L56.5 167.8L64 164.9" fill="none" stroke="#3a34c0" stroke-width="1.5" stroke-linejoin="round" stroke-linecap="round"/>
<path d="M189.5 153.8L197.9 155.5L210.6 157L217 158.7L222.3 160.3" fill="none" stroke="#3a34c0" stroke-width="1.5" stroke-linejoin="round" stroke-linecap="round"/>
<circle cx="37" cy="128.3" r="1.75" fill="#3c3496"/><circle cx="36.96" cy="124.29" r="1.75" fill="#3c3496"/><circle cx="36.91" cy="120.28" r="1.75" fill="#3c3496"/><circle cx="36.87" cy="116.27" r="1.75" fill="#3c3496"/><circle cx="36.82" cy="112.26" r="1.75" fill="#3c3496"/><circle cx="36.78" cy="108.25" r="1.75" fill="#3c3496"/><circle cx="36.74" cy="104.25" r="1.75" fill="#3c3496"/><circle cx="36.7" cy="100.25" r="1.75" fill="#3c3496"/><circle cx="36.66" cy="96.25" r="1.75" fill="#3c3496"/><circle cx="36.62" cy="92.25" r="1.75" fill="#3c3496"/><circle cx="36.58" cy="88.25" r="1.75" fill="#3c3496"/><circle cx="36.54" cy="84.25" r="1.75" fill="#3c3496"/><circle cx="36.5" cy="80.25" r="1.75" fill="#3c3496"/><circle cx="36.46" cy="76.21" r="1.75" fill="#3c3496"/><circle cx="36.42" cy="72.17" r="1.75" fill="#3c3496"/><circle cx="36.38" cy="68.13" r="1.75" fill="#3c3496"/><circle cx="36.43" cy="58.04" r="1.75" fill="#3c3496"/><circle cx="37.2" cy="48.01" r="1.75" fill="#3c3496"/><circle cx="38.25" cy="37.92" r="1.75" fill="#3c3496"/><circle cx="40.5" cy="28" r="1.75" fill="#3c3496"/><circle cx="47.51" cy="20.87" r="1.75" fill="#3c3496"/><circle cx="57.24" cy="18.69" r="1.75" fill="#3c3496"/><circle cx="66.28" cy="23.08" r="1.75" fill="#3c3496"/><circle cx="75.38" cy="27.43" r="1.75" fill="#3c3496"/><circle cx="83.93" cy="32.55" r="1.75" fill="#3c3496"/><circle cx="92.89" cy="37.11" r="1.75" fill="#3c3496"/><circle cx="101.6" cy="42.21" r="1.75" fill="#3c3496"/><circle cx="111.61" cy="43.52" r="1.75" fill="#3c3496"/><circle cx="121.65" cy="42.28" r="1.75" fill="#3c3496"/><circle cx="130.99" cy="44.36" r="1.75" fill="#3c3496"/><circle cx="139.54" cy="49.64" r="1.75" fill="#3c3496"/><circle cx="148.55" cy="54.4" r="1.75" fill="#3c3496"/><circle cx="157.95" cy="58.1" r="1.75" fill="#3c3496"/><circle cx="167.46" cy="61.7" r="1.75" fill="#3c3496"/><circle cx="177.11" cy="64.61" r="1.75" fill="#3c3496"/><circle cx="187" cy="67" r="1.75" fill="#3c3496"/><circle cx="196.84" cy="69.67" r="1.75" fill="#3c3496"/><circle cx="206.54" cy="72.49" r="1.75" fill="#3c3496"/><circle cx="216.18" cy="75.63" r="1.75" fill="#3c3496"/><circle cx="223.2" cy="78.9" r="1.75" fill="#3c3496"/>
<circle cx="37" cy="128.3" r="1.75" fill="#3c3496"/><circle cx="37.47" cy="124.28" r="1.75" fill="#3c3496"/><circle cx="37.94" cy="120.26" r="1.75" fill="#3c3496"/><circle cx="38.38" cy="116.21" r="1.75" fill="#3c3496"/><circle cx="38.77" cy="112.11" r="1.75" fill="#3c3496"/><circle cx="39.28" cy="108.04" r="1.75" fill="#3c3496"/><circle cx="39.92" cy="104.02" r="1.75" fill="#3c3496"/><circle cx="40.53" cy="100" r="1.75" fill="#3c3496"/><circle cx="41.04" cy="96.02" r="1.75" fill="#3c3496"/><circle cx="41.55" cy="92.04" r="1.75" fill="#3c3496"/><circle cx="42.27" cy="88.1" r="1.75" fill="#3c3496"/><circle cx="45.23" cy="78.54" r="1.75" fill="#3c3496"/><circle cx="52.1" cy="85.52" r="1.75" fill="#3c3496"/><circle cx="60.3" cy="91.49" r="1.75" fill="#3c3496"/>
<circle cx="223.2" cy="78.2" r="1.75" fill="#3c3496"/><circle cx="216.37" cy="82.48" r="1.75" fill="#3c3496"/><circle cx="208.59" cy="84.45" r="1.75" fill="#3c3496"/><circle cx="200.86" cy="86.59" r="1.75" fill="#3c3496"/><circle cx="193.36" cy="89.48" r="1.75" fill="#3c3496"/><circle cx="189.6" cy="96.13" r="1.75" fill="#3c3496"/>
<circle cx="36.4" cy="157.2" r="1.75" fill="#3c3496"/><circle cx="40.61" cy="148.2" r="1.75" fill="#3c3496"/><circle cx="47.43" cy="140.89" r="1.75" fill="#3c3496"/><circle cx="56.57" cy="136.61" r="1.75" fill="#3c3496"/><circle cx="66.26" cy="133.38" r="1.75" fill="#3c3496"/><circle cx="76.04" cy="130.89" r="1.75" fill="#3c3496"/><circle cx="86" cy="129.08" r="1.75" fill="#3c3496"/><circle cx="96.06" cy="127.93" r="1.75" fill="#3c3496"/><circle cx="106.1" cy="127.5" r="1.75" fill="#3c3496"/><circle cx="116.13" cy="127.68" r="1.75" fill="#3c3496"/><circle cx="126.19" cy="128.36" r="1.75" fill="#3c3496"/><circle cx="136.17" cy="129.64" r="1.75" fill="#3c3496"/><circle cx="146.05" cy="131.46" r="1.75" fill="#3c3496"/><circle cx="155.76" cy="134.41" r="1.75" fill="#3c3496"/><circle cx="165.46" cy="137.41" r="1.75" fill="#3c3496"/><circle cx="175.04" cy="140.66" r="1.75" fill="#3c3496"/><circle cx="184.28" cy="144.51" r="1.75" fill="#3c3496"/><circle cx="193.83" cy="147.75" r="1.75" fill="#3c3496"/><circle cx="203.21" cy="151.48" r="1.75" fill="#3c3496"/><circle cx="212.44" cy="155.66" r="1.75" fill="#3c3496"/><circle cx="221.61" cy="159.98" r="1.75" fill="#3c3496"/>
<circle cx="36.4" cy="157.2" r="1.75" fill="#3c3496"/><circle cx="38.49" cy="164.97" r="1.75" fill="#3c3496"/><circle cx="44.75" cy="169.41" r="1.75" fill="#3c3496"/><circle cx="52.75" cy="168.6" r="1.75" fill="#3c3496"/><circle cx="60.48" cy="166.26" r="1.75" fill="#3c3496"/><circle cx="64" cy="164.9" r="1.75" fill="#3c3496"/>
<circle cx="189.5" cy="153.8" r="1.75" fill="#3c3496"/><circle cx="197.41" cy="155.4" r="1.75" fill="#3c3496"/><circle cx="205.37" cy="156.38" r="1.75" fill="#3c3496"/><circle cx="213.31" cy="157.72" r="1.75" fill="#3c3496"/><circle cx="221.1" cy="159.94" r="1.75" fill="#3c3496"/>
<path d="M62.5 158.7H98.1" stroke="#444444" stroke-width="1.5"/>
<rect x="79" y="157.4" width="2.6" height="2.6" fill="#707070" stroke="#2a2a2a" stroke-width="0.75"/>
<text x="104.8" y="161.5" class="lg">Isolated Nac, Config1, 0°</text>
<path d="M62.5 168.3H98.1" stroke="#c23e50" stroke-width="1.35"/>
<path d="M79 167.39H81.6L80.3 169.6Z" fill="none" stroke="#c23e50" stroke-width="0.7"/>
<text x="104.8" y="171.1" class="lg">Isolated Nac, Config2, 0°</text>
<path d="M62.5 177.9H98.1" stroke="#40b040" stroke-width="1.25"/>
<path d="M78.9 177.9H81.7M80.3 176.5V179.3" stroke="#40b040" stroke-width="0.8"/>
<text x="104.8" y="180.7" class="lg">Isolated Nac, Config3, 0°</text>
<path d="M62.5 187.5H98.1" stroke="#3a34c0" stroke-width="1.5"/>
<circle cx="80.3" cy="187.5" r="1.75" fill="#3c3496"/>
<text x="104.8" y="190.3" class="lg">Isolated Nac, Config4, 0°</text>
<path d="M292.5 15.4h4.2M292.5 67.25h4.2M292.5 119.1h4.2M292.5 170.95h4.2M301.7 196.5v-4.2M339.06 196.5v-4.2M376.42 196.5v-4.2M413.78 196.5v-4.2M451.14 196.5v-4.2M488.5 196.5v-4.2M498.2 41.33h-4.2M498.2 80.21h-4.2M498.2 119.1h-4.2M498.2 157.99h-4.2" stroke="#333" stroke-width="1.1" fill="none"/>
<path d="M292.5 5.03h2.2M292.5 25.77h2.2M292.5 36.14h2.2M292.5 46.51h2.2M292.5 56.88h2.2M292.5 77.62h2.2M292.5 87.99h2.2M292.5 98.36h2.2M292.5 108.73h2.2M292.5 129.47h2.2M292.5 139.84h2.2M292.5 150.21h2.2M292.5 160.58h2.2M292.5 181.32h2.2M292.5 191.69h2.2M311.04 196.5v-2.2M320.38 196.5v-2.2M329.72 196.5v-2.2M348.4 196.5v-2.2M357.74 196.5v-2.2M367.08 196.5v-2.2M385.76 196.5v-2.2M395.1 196.5v-2.2M404.44 196.5v-2.2M423.12 196.5v-2.2M432.46 196.5v-2.2M441.8 196.5v-2.2M460.48 196.5v-2.2M469.82 196.5v-2.2M479.16 196.5v-2.2M498.2 10.21h-2.2M498.2 17.99h-2.2M498.2 25.77h-2.2M498.2 33.55h-2.2M498.2 49.1h-2.2M498.2 56.88h-2.2M498.2 64.66h-2.2M498.2 72.44h-2.2M498.2 87.99h-2.2M498.2 95.77h-2.2M498.2 103.55h-2.2M498.2 111.32h-2.2M498.2 126.88h-2.2M498.2 134.66h-2.2M498.2 142.43h-2.2M498.2 150.21h-2.2M498.2 165.77h-2.2M498.2 173.54h-2.2M498.2 181.32h-2.2M498.2 189.1h-2.2" stroke="#888" stroke-width="0.9" fill="none"/>
<rect x="292.5" y="2.5" width="205.7" height="194" fill="none" stroke="#333" stroke-width="1.3"/>
<text x="289.6" y="18.6" text-anchor="end" class="tk">-1</text>
<text x="289.6" y="70.45" text-anchor="end" class="tk">0</text>
<text x="289.6" y="122.3" text-anchor="end" class="tk">1</text>
<text x="289.6" y="174.15" text-anchor="end" class="tk">2</text>
<text x="301.7" y="205.1" text-anchor="middle" class="tk">0</text>
<text x="339.06" y="205.1" text-anchor="middle" class="tk">0.2</text>
<text x="376.42" y="205.1" text-anchor="middle" class="tk">0.4</text>
<text x="413.78" y="205.1" text-anchor="middle" class="tk">0.6</text>
<text x="451.14" y="205.1" text-anchor="middle" class="tk">0.8</text>
<text x="488.5" y="205.1" text-anchor="middle" class="tk">1</text>
<text transform="translate(274.2 99.8) rotate(-90)" text-anchor="middle" class="ti" font-size="10.5">Cp</text>
<text transform="translate(511.8 98.9) rotate(-90)" text-anchor="middle" class="ti"><tspan font-size="11.5">Y</tspan><tspan font-size="8.5" dy="3.5" dx="0.3">foil</tspan></text>
<text x="396" y="216.8" text-anchor="middle" class="ti"><tspan font-size="12">X/C</tspan><tspan font-size="7" dy="3.4">local</tspan></text>
<text x="393.2" y="233.7" text-anchor="middle" class="lb">(b)</text>
<path d="M302.1 128L302 110L301.8 90L301.7 69.4L302.2 50.2L303 34.8L304.2 27.1L306.5 25.5L308.4 28L311.3 32.8L316.1 36.3L323.8 34.8L331.5 35.7L339.2 37.7L348.8 41.5L352.6 45.3L355.5 49.8L359.3 50.5L369.9 49.2L379.5 51.1L393 53L402.7 53.1L415.4 53.3L429.1 53.7L442.1 54.7L452.9 56.1L465 60.1L473.1 63.5L481.1 68.8L486.5 74.2L489.2 78.9" fill="none" stroke="#444444" stroke-width="1.5" stroke-linejoin="round" stroke-linecap="round"/>
<path d="M302.1 128L304 108.3L305.4 96.6L306.9 89.3L308.4 82L312 76.8L317.9 82.7L323.7 87.8L329.6 93.7" fill="none" stroke="#444444" stroke-width="1.5" stroke-linejoin="round" stroke-linecap="round"/>
<path d="M489.2 80.3L482.5 81.8L474.4 83.4L466.3 85L461 87L455.6 90.4L453.6 93.1" fill="none" stroke="#444444" stroke-width="1.5" stroke-linejoin="round" stroke-linecap="round"/>
<path d="M301.1 155.4L303.6 150.2L307.4 146.7L312.2 143.8L321.8 140L331.5 138.1L341.1 136.5L350.7 135.4L360.3 134.8L371.8 134.2L381.5 134.6L393 135.8L402.7 136.4L417.5 138.1L432.3 141.3L445 144.3L457.7 148.5L470.4 154L487.3 160.8" fill="none" stroke="#444444" stroke-width="1.5" stroke-linejoin="round" stroke-linecap="round"/>
<path d="M301.1 155.4L301.7 161.2L303.6 165.4L307.4 169.2L312.2 171.2L318 171.2L324.7 170.4L327.5 169.8" fill="none" stroke="#444444" stroke-width="1.5" stroke-linejoin="round" stroke-linecap="round"/>
<path d="M453.5 157L466.2 158.2L476.7 159.1L483.1 160.3L487.3 160.8" fill="none" stroke="#444444" stroke-width="1.5" stroke-linejoin="round" stroke-linecap="round"/>
<rect x="300.8" y="126.7" width="2.6" height="2.6" fill="#707070" stroke="#2a2a2a" stroke-width="0.75"/><rect x="300.78" y="122.7" width="2.6" height="2.6" fill="#707070" stroke="#2a2a2a" stroke-width="0.75"/><rect x="300.76" y="118.7" width="2.6" height="2.6" fill="#707070" stroke="#2a2a2a" stroke-width="0.75"/><rect x="300.73" y="114.7" width="2.6" height="2.6" fill="#707070" stroke="#2a2a2a" stroke-width="0.75"/><rect x="300.71" y="110.7" width="2.6" height="2.6" fill="#707070" stroke="#2a2a2a" stroke-width="0.75"/><rect x="300.68" y="106.7" width="2.6" height="2.6" fill="#707070" stroke="#2a2a2a" stroke-width="0.75"/><rect x="300.64" y="102.7" width="2.6" height="2.6" fill="#707070" stroke="#2a2a2a" stroke-width="0.75"/><rect x="300.6" y="98.7" width="2.6" height="2.6" fill="#707070" stroke="#2a2a2a" stroke-width="0.75"/><rect x="300.56" y="94.7" width="2.6" height="2.6" fill="#707070" stroke="#2a2a2a" stroke-width="0.75"/><rect x="300.52" y="90.7" width="2.6" height="2.6" fill="#707070" stroke="#2a2a2a" stroke-width="0.75"/><rect x="300.49" y="86.69" width="2.6" height="2.6" fill="#707070" stroke="#2a2a2a" stroke-width="0.75"/><rect x="300.47" y="82.67" width="2.6" height="2.6" fill="#707070" stroke="#2a2a2a" stroke-width="0.75"/><rect x="300.45" y="78.65" width="2.6" height="2.6" fill="#707070" stroke="#2a2a2a" stroke-width="0.75"/><rect x="300.43" y="74.63" width="2.6" height="2.6" fill="#707070" stroke="#2a2a2a" stroke-width="0.75"/><rect x="300.41" y="70.61" width="2.6" height="2.6" fill="#707070" stroke="#2a2a2a" stroke-width="0.75"/><rect x="300.44" y="66.58" width="2.6" height="2.6" fill="#707070" stroke="#2a2a2a" stroke-width="0.75"/><rect x="300.7" y="56.48" width="2.6" height="2.6" fill="#707070" stroke="#2a2a2a" stroke-width="0.75"/><rect x="301.03" y="46.38" width="2.6" height="2.6" fill="#707070" stroke="#2a2a2a" stroke-width="0.75"/><rect x="301.56" y="36.28" width="2.6" height="2.6" fill="#707070" stroke="#2a2a2a" stroke-width="0.75"/><rect x="302.82" y="26.3" width="2.6" height="2.6" fill="#707070" stroke="#2a2a2a" stroke-width="0.75"/><rect x="308.95" y="29.75" width="2.6" height="2.6" fill="#707070" stroke="#2a2a2a" stroke-width="0.75"/><rect x="316.79" y="34.61" width="2.6" height="2.6" fill="#707070" stroke="#2a2a2a" stroke-width="0.75"/><rect x="326.72" y="33.99" width="2.6" height="2.6" fill="#707070" stroke="#2a2a2a" stroke-width="0.75"/><rect x="336.66" y="36.08" width="2.6" height="2.6" fill="#707070" stroke="#2a2a2a" stroke-width="0.75"/><rect x="346.1" y="39.64" width="2.6" height="2.6" fill="#707070" stroke="#2a2a2a" stroke-width="0.75"/><rect x="353.1" y="46.79" width="2.6" height="2.6" fill="#707070" stroke="#2a2a2a" stroke-width="0.75"/><rect x="362.29" y="48.67" width="2.6" height="2.6" fill="#707070" stroke="#2a2a2a" stroke-width="0.75"/><rect x="372.29" y="48.63" width="2.6" height="2.6" fill="#707070" stroke="#2a2a2a" stroke-width="0.75"/><rect x="382.2" y="50.36" width="2.6" height="2.6" fill="#707070" stroke="#2a2a2a" stroke-width="0.75"/><rect x="392.21" y="51.71" width="2.6" height="2.6" fill="#707070" stroke="#2a2a2a" stroke-width="0.75"/><rect x="402.42" y="51.82" width="2.6" height="2.6" fill="#707070" stroke="#2a2a2a" stroke-width="0.75"/><rect x="412.58" y="51.98" width="2.6" height="2.6" fill="#707070" stroke="#2a2a2a" stroke-width="0.75"/><rect x="422.73" y="52.25" width="2.6" height="2.6" fill="#707070" stroke="#2a2a2a" stroke-width="0.75"/><rect x="432.8" y="52.78" width="2.6" height="2.6" fill="#707070" stroke="#2a2a2a" stroke-width="0.75"/><rect x="442.81" y="53.66" width="2.6" height="2.6" fill="#707070" stroke="#2a2a2a" stroke-width="0.75"/><rect x="452.81" y="55.2" width="2.6" height="2.6" fill="#707070" stroke="#2a2a2a" stroke-width="0.75"/><rect x="462.49" y="58.4" width="2.6" height="2.6" fill="#707070" stroke="#2a2a2a" stroke-width="0.75"/><rect x="471.8" y="62.2" width="2.6" height="2.6" fill="#707070" stroke="#2a2a2a" stroke-width="0.75"/><rect x="480.16" y="67.86" width="2.6" height="2.6" fill="#707070" stroke="#2a2a2a" stroke-width="0.75"/><rect x="486.74" y="75.59" width="2.6" height="2.6" fill="#707070" stroke="#2a2a2a" stroke-width="0.75"/>
<rect x="300.8" y="126.7" width="2.6" height="2.6" fill="#707070" stroke="#2a2a2a" stroke-width="0.75"/><rect x="301.18" y="122.71" width="2.6" height="2.6" fill="#707070" stroke="#2a2a2a" stroke-width="0.75"/><rect x="301.57" y="118.72" width="2.6" height="2.6" fill="#707070" stroke="#2a2a2a" stroke-width="0.75"/><rect x="301.95" y="114.73" width="2.6" height="2.6" fill="#707070" stroke="#2a2a2a" stroke-width="0.75"/><rect x="302.34" y="110.74" width="2.6" height="2.6" fill="#707070" stroke="#2a2a2a" stroke-width="0.75"/><rect x="302.73" y="106.75" width="2.6" height="2.6" fill="#707070" stroke="#2a2a2a" stroke-width="0.75"/><rect x="303.21" y="102.77" width="2.6" height="2.6" fill="#707070" stroke="#2a2a2a" stroke-width="0.75"/><rect x="303.68" y="98.79" width="2.6" height="2.6" fill="#707070" stroke="#2a2a2a" stroke-width="0.75"/><rect x="304.2" y="94.8" width="2.6" height="2.6" fill="#707070" stroke="#2a2a2a" stroke-width="0.75"/><rect x="305.03" y="90.77" width="2.6" height="2.6" fill="#707070" stroke="#2a2a2a" stroke-width="0.75"/><rect x="305.86" y="86.74" width="2.6" height="2.6" fill="#707070" stroke="#2a2a2a" stroke-width="0.75"/><rect x="309.4" y="77.37" width="2.6" height="2.6" fill="#707070" stroke="#2a2a2a" stroke-width="0.75"/><rect x="316.24" y="81.04" width="2.6" height="2.6" fill="#707070" stroke="#2a2a2a" stroke-width="0.75"/><rect x="323.83" y="87.93" width="2.6" height="2.6" fill="#707070" stroke="#2a2a2a" stroke-width="0.75"/><rect x="328.3" y="92.4" width="2.6" height="2.6" fill="#707070" stroke="#2a2a2a" stroke-width="0.75"/>
<rect x="487.9" y="79" width="2.6" height="2.6" fill="#707070" stroke="#2a2a2a" stroke-width="0.75"/><rect x="479.97" y="80.74" width="2.6" height="2.6" fill="#707070" stroke="#2a2a2a" stroke-width="0.75"/><rect x="472.12" y="82.29" width="2.6" height="2.6" fill="#707070" stroke="#2a2a2a" stroke-width="0.75"/><rect x="464.28" y="83.97" width="2.6" height="2.6" fill="#707070" stroke="#2a2a2a" stroke-width="0.75"/><rect x="456.89" y="87.47" width="2.6" height="2.6" fill="#707070" stroke="#2a2a2a" stroke-width="0.75"/><rect x="452.3" y="91.8" width="2.6" height="2.6" fill="#707070" stroke="#2a2a2a" stroke-width="0.75"/>
<rect x="299.8" y="154.1" width="2.6" height="2.6" fill="#707070" stroke="#2a2a2a" stroke-width="0.75"/><rect x="305.53" y="145.92" width="2.6" height="2.6" fill="#707070" stroke="#2a2a2a" stroke-width="0.75"/><rect x="314.41" y="141.11" width="2.6" height="2.6" fill="#707070" stroke="#2a2a2a" stroke-width="0.75"/><rect x="323.98" y="138.02" width="2.6" height="2.6" fill="#707070" stroke="#2a2a2a" stroke-width="0.75"/><rect x="333.99" y="136.17" width="2.6" height="2.6" fill="#707070" stroke="#2a2a2a" stroke-width="0.75"/><rect x="344.09" y="134.71" width="2.6" height="2.6" fill="#707070" stroke="#2a2a2a" stroke-width="0.75"/><rect x="354.2" y="133.8" width="2.6" height="2.6" fill="#707070" stroke="#2a2a2a" stroke-width="0.75"/><rect x="364.25" y="133.23" width="2.6" height="2.6" fill="#707070" stroke="#2a2a2a" stroke-width="0.75"/><rect x="374.33" y="133.06" width="2.6" height="2.6" fill="#707070" stroke="#2a2a2a" stroke-width="0.75"/><rect x="384.45" y="133.74" width="2.6" height="2.6" fill="#707070" stroke="#2a2a2a" stroke-width="0.75"/><rect x="394.51" y="134.67" width="2.6" height="2.6" fill="#707070" stroke="#2a2a2a" stroke-width="0.75"/><rect x="404.66" y="135.47" width="2.6" height="2.6" fill="#707070" stroke="#2a2a2a" stroke-width="0.75"/><rect x="414.69" y="136.63" width="2.6" height="2.6" fill="#707070" stroke="#2a2a2a" stroke-width="0.75"/><rect x="424.59" y="138.61" width="2.6" height="2.6" fill="#707070" stroke="#2a2a2a" stroke-width="0.75"/><rect x="434.42" y="140.81" width="2.6" height="2.6" fill="#707070" stroke="#2a2a2a" stroke-width="0.75"/><rect x="444.18" y="143.16" width="2.6" height="2.6" fill="#707070" stroke="#2a2a2a" stroke-width="0.75"/><rect x="453.76" y="146.33" width="2.6" height="2.6" fill="#707070" stroke="#2a2a2a" stroke-width="0.75"/><rect x="463.1" y="150.1" width="2.6" height="2.6" fill="#707070" stroke="#2a2a2a" stroke-width="0.75"/><rect x="472.39" y="154.02" width="2.6" height="2.6" fill="#707070" stroke="#2a2a2a" stroke-width="0.75"/><rect x="481.77" y="157.8" width="2.6" height="2.6" fill="#707070" stroke="#2a2a2a" stroke-width="0.75"/><rect x="486" y="159.5" width="2.6" height="2.6" fill="#707070" stroke="#2a2a2a" stroke-width="0.75"/>
<rect x="299.8" y="154.1" width="2.6" height="2.6" fill="#707070" stroke="#2a2a2a" stroke-width="0.75"/><rect x="301.35" y="162" width="2.6" height="2.6" fill="#707070" stroke="#2a2a2a" stroke-width="0.75"/><rect x="306.58" y="168.1" width="2.6" height="2.6" fill="#707070" stroke="#2a2a2a" stroke-width="0.75"/><rect x="314.43" y="169.9" width="2.6" height="2.6" fill="#707070" stroke="#2a2a2a" stroke-width="0.75"/><rect x="322.63" y="169.19" width="2.6" height="2.6" fill="#707070" stroke="#2a2a2a" stroke-width="0.75"/><rect x="326.2" y="168.5" width="2.6" height="2.6" fill="#707070" stroke="#2a2a2a" stroke-width="0.75"/>
<rect x="452.2" y="155.7" width="2.6" height="2.6" fill="#707070" stroke="#2a2a2a" stroke-width="0.75"/><rect x="460.17" y="156.45" width="2.6" height="2.6" fill="#707070" stroke="#2a2a2a" stroke-width="0.75"/><rect x="468.15" y="157.18" width="2.6" height="2.6" fill="#707070" stroke="#2a2a2a" stroke-width="0.75"/><rect x="476.14" y="157.94" width="2.6" height="2.6" fill="#707070" stroke="#2a2a2a" stroke-width="0.75"/><rect x="484.16" y="159.28" width="2.6" height="2.6" fill="#707070" stroke="#2a2a2a" stroke-width="0.75"/>
<path d="M302.1 128L302 110L302 85L302.6 61.7L305.5 53L308.4 46.3L312.2 39.6L318 35.7L324.7 30.5L331.5 29.6L343 29.6L356.5 29L366.1 28L374.2 26.5L378.8 27.2L383.5 31.8L386.5 36.5L388.8 42.6L391.2 47.2L394.2 54.2L396.5 57.2L406.5 57.2L421.7 56.5L430 57.4L443.5 60.1L456.9 62.8L470.4 67.5L481.1 72.2L489.2 78.9" fill="none" stroke="#c23e50" stroke-width="1.35" stroke-linejoin="round" stroke-linecap="round"/>
<path d="M302.1 128L304 108.3L305.4 96.6L306.9 89.3L308.4 82L312 76.8L317.9 82.7L323.7 87.8L329.6 93.7" fill="none" stroke="#c23e50" stroke-width="1.35" stroke-linejoin="round" stroke-linecap="round"/>
<path d="M489.2 80.3L482.5 81.6L474.4 83L466.3 84.3L461 85.7L454.2 87" fill="none" stroke="#c23e50" stroke-width="1.35" stroke-linejoin="round" stroke-linecap="round"/>
<path d="M301.1 155.4L303.6 149.6L307.4 145.8L312.2 141L319.9 136.2L327.6 132.3L337.2 128.5L348.8 125.6L360.3 123.7L369.9 124.6L381.5 125.6L393 128.1L402.7 130.1L417.5 133.3L432.3 137.5L445 141.7L457.7 147L470.4 153.4L487.3 160.8" fill="none" stroke="#c23e50" stroke-width="1.35" stroke-linejoin="round" stroke-linecap="round"/>
<path d="M301.1 155.4L301.7 161.2L303.6 165.4L307.4 169.2L312.2 171.2L318 171.2L324.7 170.4L327.5 169.8" fill="none" stroke="#c23e50" stroke-width="1.35" stroke-linejoin="round" stroke-linecap="round"/>
<path d="M453.5 157L466.2 158.2L476.7 159.1L483.1 160.3L487.3 160.8" fill="none" stroke="#c23e50" stroke-width="1.35" stroke-linejoin="round" stroke-linecap="round"/>
<path d="M300.8 127.09H303.4L302.1 129.3Z" fill="none" stroke="#c23e50" stroke-width="0.7"/><path d="M300.78 123.09H303.38L302.08 125.3Z" fill="none" stroke="#c23e50" stroke-width="0.7"/><path d="M300.76 119.09H303.36L302.06 121.3Z" fill="none" stroke="#c23e50" stroke-width="0.7"/><path d="M300.73 115.09H303.33L302.03 117.3Z" fill="none" stroke="#c23e50" stroke-width="0.7"/><path d="M300.71 111.09H303.31L302.01 113.3Z" fill="none" stroke="#c23e50" stroke-width="0.7"/><path d="M300.7 107.09H303.3L302 109.3Z" fill="none" stroke="#c23e50" stroke-width="0.7"/><path d="M300.7 103.09H303.3L302 105.3Z" fill="none" stroke="#c23e50" stroke-width="0.7"/><path d="M300.7 99.09H303.3L302 101.3Z" fill="none" stroke="#c23e50" stroke-width="0.7"/><path d="M300.7 95.09H303.3L302 97.3Z" fill="none" stroke="#c23e50" stroke-width="0.7"/><path d="M300.7 91.09H303.3L302 93.3Z" fill="none" stroke="#c23e50" stroke-width="0.7"/><path d="M300.7 87.09H303.3L302 89.3Z" fill="none" stroke="#c23e50" stroke-width="0.7"/><path d="M300.73 83.09H303.33L302.03 85.3Z" fill="none" stroke="#c23e50" stroke-width="0.7"/><path d="M300.83 79.08H303.43L302.13 81.29Z" fill="none" stroke="#c23e50" stroke-width="0.7"/><path d="M300.93 75.07H303.53L302.23 77.28Z" fill="none" stroke="#c23e50" stroke-width="0.7"/><path d="M301.04 71.06H303.64L302.34 73.27Z" fill="none" stroke="#c23e50" stroke-width="0.7"/><path d="M301.14 67.05H303.74L302.44 69.26Z" fill="none" stroke="#c23e50" stroke-width="0.7"/><path d="M302.51 57.17H305.11L303.81 59.38Z" fill="none" stroke="#c23e50" stroke-width="0.7"/><path d="M306.1 47.7H308.7L307.4 49.91Z" fill="none" stroke="#c23e50" stroke-width="0.7"/><path d="M310.9 38.69H313.5L312.2 40.9Z" fill="none" stroke="#c23e50" stroke-width="0.7"/><path d="M319.14 32.9H321.74L320.44 35.11Z" fill="none" stroke="#c23e50" stroke-width="0.7"/><path d="M328.19 28.96H330.79L329.49 31.17Z" fill="none" stroke="#c23e50" stroke-width="0.7"/><path d="M338.2 28.69H340.8L339.5 30.9Z" fill="none" stroke="#c23e50" stroke-width="0.7"/><path d="M348.2 28.4H350.8L349.5 30.61Z" fill="none" stroke="#c23e50" stroke-width="0.7"/><path d="M358.23 27.77H360.83L359.53 29.98Z" fill="none" stroke="#c23e50" stroke-width="0.7"/><path d="M368.34 26.43H370.94L369.64 28.64Z" fill="none" stroke="#c23e50" stroke-width="0.7"/><path d="M378.04 26.82H380.64L379.34 29.03Z" fill="none" stroke="#c23e50" stroke-width="0.7"/><path d="M384.52 34.52H387.12L385.82 36.73Z" fill="none" stroke="#c23e50" stroke-width="0.7"/><path d="M388.58 43.76H391.18L389.88 45.97Z" fill="none" stroke="#c23e50" stroke-width="0.7"/><path d="M392.8 53.06H395.4L394.1 55.27Z" fill="none" stroke="#c23e50" stroke-width="0.7"/><path d="M401.2 56.29H403.8L402.5 58.5Z" fill="none" stroke="#c23e50" stroke-width="0.7"/><path d="M411.28 56.01H413.88L412.58 58.22Z" fill="none" stroke="#c23e50" stroke-width="0.7"/><path d="M421.41 55.7H424.01L422.71 57.91Z" fill="none" stroke="#c23e50" stroke-width="0.7"/><path d="M431.4 57.03H434L432.7 59.24Z" fill="none" stroke="#c23e50" stroke-width="0.7"/><path d="M441.22 58.99H443.82L442.52 61.2Z" fill="none" stroke="#c23e50" stroke-width="0.7"/><path d="M451.13 60.99H453.73L452.43 63.2Z" fill="none" stroke="#c23e50" stroke-width="0.7"/><path d="M460.81 63.7H463.41L462.11 65.91Z" fill="none" stroke="#c23e50" stroke-width="0.7"/><path d="M470.26 67.1H472.86L471.56 69.31Z" fill="none" stroke="#c23e50" stroke-width="0.7"/><path d="M479.57 71.19H482.17L480.87 73.4Z" fill="none" stroke="#c23e50" stroke-width="0.7"/><path d="M487.32 77.51H489.92L488.62 79.72Z" fill="none" stroke="#c23e50" stroke-width="0.7"/>
<path d="M300.8 127.09H303.4L302.1 129.3Z" fill="none" stroke="#c23e50" stroke-width="0.7"/><path d="M301.18 123.1H303.78L302.48 125.31Z" fill="none" stroke="#c23e50" stroke-width="0.7"/><path d="M301.57 119.11H304.17L302.87 121.32Z" fill="none" stroke="#c23e50" stroke-width="0.7"/><path d="M301.95 115.12H304.55L303.25 117.33Z" fill="none" stroke="#c23e50" stroke-width="0.7"/><path d="M302.34 111.13H304.94L303.64 113.34Z" fill="none" stroke="#c23e50" stroke-width="0.7"/><path d="M302.73 107.14H305.33L304.03 109.35Z" fill="none" stroke="#c23e50" stroke-width="0.7"/><path d="M303.21 103.16H305.81L304.51 105.37Z" fill="none" stroke="#c23e50" stroke-width="0.7"/><path d="M303.68 99.18H306.28L304.98 101.39Z" fill="none" stroke="#c23e50" stroke-width="0.7"/><path d="M304.2 95.19H306.8L305.5 97.4Z" fill="none" stroke="#c23e50" stroke-width="0.7"/><path d="M305.03 91.16H307.63L306.33 93.37Z" fill="none" stroke="#c23e50" stroke-width="0.7"/><path d="M305.86 87.13H308.46L307.16 89.34Z" fill="none" stroke="#c23e50" stroke-width="0.7"/><path d="M309.4 77.76H312L310.7 79.97Z" fill="none" stroke="#c23e50" stroke-width="0.7"/><path d="M316.24 81.43H318.84L317.54 83.64Z" fill="none" stroke="#c23e50" stroke-width="0.7"/><path d="M323.83 88.32H326.43L325.13 90.53Z" fill="none" stroke="#c23e50" stroke-width="0.7"/><path d="M328.3 92.79H330.9L329.6 95Z" fill="none" stroke="#c23e50" stroke-width="0.7"/>
<path d="M487.9 79.39H490.5L489.2 81.6Z" fill="none" stroke="#c23e50" stroke-width="0.7"/><path d="M479.93 80.91H482.53L481.23 83.12Z" fill="none" stroke="#c23e50" stroke-width="0.7"/><path d="M471.83 82.29H474.43L473.13 84.5Z" fill="none" stroke="#c23e50" stroke-width="0.7"/><path d="M463.74 83.72H466.34L465.04 85.93Z" fill="none" stroke="#c23e50" stroke-width="0.7"/><path d="M455.92 85.51H458.52L457.22 87.72Z" fill="none" stroke="#c23e50" stroke-width="0.7"/>
<path d="M299.8 154.49H302.4L301.1 156.7Z" fill="none" stroke="#c23e50" stroke-width="0.7"/><path d="M305.01 145.98H307.61L306.31 148.19Z" fill="none" stroke="#c23e50" stroke-width="0.7"/><path d="M312.4 139.16H315L313.7 141.37Z" fill="none" stroke="#c23e50" stroke-width="0.7"/><path d="M321.09 134.03H323.69L322.39 136.24Z" fill="none" stroke="#c23e50" stroke-width="0.7"/><path d="M330.28 129.81H332.88L331.58 132.02Z" fill="none" stroke="#c23e50" stroke-width="0.7"/><path d="M339.85 126.6H342.45L341.15 128.81Z" fill="none" stroke="#c23e50" stroke-width="0.7"/><path d="M349.75 124.32H352.35L351.05 126.53Z" fill="none" stroke="#c23e50" stroke-width="0.7"/><path d="M359.76 122.86H362.36L361.06 125.07Z" fill="none" stroke="#c23e50" stroke-width="0.7"/><path d="M369.86 123.8H372.46L371.16 126.01Z" fill="none" stroke="#c23e50" stroke-width="0.7"/><path d="M379.95 124.67H382.55L381.25 126.88Z" fill="none" stroke="#c23e50" stroke-width="0.7"/><path d="M389.74 126.76H392.34L391.04 128.97Z" fill="none" stroke="#c23e50" stroke-width="0.7"/><path d="M399.66 128.83H402.26L400.96 131.04Z" fill="none" stroke="#c23e50" stroke-width="0.7"/><path d="M409.54 130.95H412.14L410.84 133.16Z" fill="none" stroke="#c23e50" stroke-width="0.7"/><path d="M419.35 133.29H421.95L420.65 135.5Z" fill="none" stroke="#c23e50" stroke-width="0.7"/><path d="M429.06 136.04H431.66L430.36 138.25Z" fill="none" stroke="#c23e50" stroke-width="0.7"/><path d="M438.67 139.13H441.27L439.97 141.34Z" fill="none" stroke="#c23e50" stroke-width="0.7"/><path d="M448.09 142.62H450.69L449.39 144.83Z" fill="none" stroke="#c23e50" stroke-width="0.7"/><path d="M457.31 146.55H459.91L458.61 148.76Z" fill="none" stroke="#c23e50" stroke-width="0.7"/><path d="M466.38 151.12H468.98L467.68 153.33Z" fill="none" stroke="#c23e50" stroke-width="0.7"/><path d="M475.58 155.33H478.18L476.88 157.54Z" fill="none" stroke="#c23e50" stroke-width="0.7"/><path d="M484.84 159.38H487.44L486.14 161.59Z" fill="none" stroke="#c23e50" stroke-width="0.7"/>
<path d="M299.8 154.49H302.4L301.1 156.7Z" fill="none" stroke="#c23e50" stroke-width="0.7"/><path d="M301.35 162.39H303.95L302.65 164.6Z" fill="none" stroke="#c23e50" stroke-width="0.7"/><path d="M306.58 168.49H309.18L307.88 170.7Z" fill="none" stroke="#c23e50" stroke-width="0.7"/><path d="M314.43 170.29H317.03L315.73 172.5Z" fill="none" stroke="#c23e50" stroke-width="0.7"/><path d="M322.63 169.58H325.23L323.93 171.79Z" fill="none" stroke="#c23e50" stroke-width="0.7"/><path d="M326.2 168.89H328.8L327.5 171.1Z" fill="none" stroke="#c23e50" stroke-width="0.7"/>
<path d="M452.2 156.09H454.8L453.5 158.3Z" fill="none" stroke="#c23e50" stroke-width="0.7"/><path d="M460.17 156.84H462.77L461.47 159.05Z" fill="none" stroke="#c23e50" stroke-width="0.7"/><path d="M468.15 157.57H470.75L469.45 159.78Z" fill="none" stroke="#c23e50" stroke-width="0.7"/><path d="M476.14 158.33H478.74L477.44 160.54Z" fill="none" stroke="#c23e50" stroke-width="0.7"/><path d="M484.16 159.67H486.76L485.46 161.88Z" fill="none" stroke="#c23e50" stroke-width="0.7"/>
<path d="M302.1 128L302.2 110L302.8 85L303.9 70L305.2 61.7L308.8 56.9L313.7 51.4L319.7 45.9L327 40.5L334.3 37.4L341.6 35L348.9 33.2L356.5 31.5L366.1 29L377.6 27.5L390 26.8L398.5 26.8L403.8 29.4L408 37.8L412.2 46.3L415.4 53.7L421.7 55.8L430 57.8L443.5 60.5L456.9 63.5L465 66.5L475.8 73.6L483.8 77.6L489.2 80.3" fill="none" stroke="#40b040" stroke-width="1.25" stroke-linejoin="round" stroke-linecap="round"/>
<path d="M302.1 128L304 108.3L305.4 96.6L306.9 89.3L308.4 82L312 76.8L317.9 82.7L323.7 87.8L329.6 93.7" fill="none" stroke="#40b040" stroke-width="1.25" stroke-linejoin="round" stroke-linecap="round"/>
<path d="M489.2 80.3L482.5 81.8L474.4 83.4L466.3 85L461 87L455.6 90.4L453.6 93.1" fill="none" stroke="#40b040" stroke-width="1.25" stroke-linejoin="round" stroke-linecap="round"/>
<path d="M301.1 155.4L303.6 149.6L307.4 145.8L312.2 141L319.9 136.2L327.6 132.3L337.2 128.5L348.8 125.6L360.3 123.7L371.8 122.3L381.5 122.3L393 123.1L402.7 124.8L417.5 128.6L432.3 134.3L445 139.6L457.7 146L470.4 152.3L481 157.6L487.3 160.8" fill="none" stroke="#40b040" stroke-width="1.25" stroke-linejoin="round" stroke-linecap="round"/>
<path d="M301.1 155.4L301.7 161.2L303.6 165.4L307.4 169.2L312.2 171.2L318 171.2L324.7 170.4L327.5 169.8" fill="none" stroke="#40b040" stroke-width="1.25" stroke-linejoin="round" stroke-linecap="round"/>
<path d="M453.5 157L466.2 158.2L476.7 159.1L483.1 160.3L487.3 160.8" fill="none" stroke="#40b040" stroke-width="1.25" stroke-linejoin="round" stroke-linecap="round"/>
<path d="M300.7 128H303.5M302.1 126.6V129.4" stroke="#40b040" stroke-width="0.8"/><path d="M300.72 124H303.52M302.12 122.6V125.4" stroke="#40b040" stroke-width="0.8"/><path d="M300.74 120H303.54M302.14 118.6V121.4" stroke="#40b040" stroke-width="0.8"/><path d="M300.77 116H303.57M302.17 114.6V117.4" stroke="#40b040" stroke-width="0.8"/><path d="M300.79 112H303.59M302.19 110.6V113.4" stroke="#40b040" stroke-width="0.8"/><path d="M300.85 108H303.65M302.25 106.6V109.4" stroke="#40b040" stroke-width="0.8"/><path d="M300.94 104H303.74M302.34 102.6V105.4" stroke="#40b040" stroke-width="0.8"/><path d="M301.04 100H303.84M302.44 98.6V101.4" stroke="#40b040" stroke-width="0.8"/><path d="M301.14 96H303.94M302.54 94.6V97.4" stroke="#40b040" stroke-width="0.8"/><path d="M301.23 92H304.03M302.63 90.6V93.4" stroke="#40b040" stroke-width="0.8"/><path d="M301.33 88H304.13M302.73 86.6V89.4" stroke="#40b040" stroke-width="0.8"/><path d="M301.47 84H304.27M302.87 82.6V85.4" stroke="#40b040" stroke-width="0.8"/><path d="M301.77 80H304.57M303.17 78.6V81.4" stroke="#40b040" stroke-width="0.8"/><path d="M302.06 76H304.86M303.46 74.6V77.4" stroke="#40b040" stroke-width="0.8"/><path d="M302.35 72H305.15M303.75 70.6V73.4" stroke="#40b040" stroke-width="0.8"/><path d="M302.82 67.99H305.62M304.22 66.59V69.39" stroke="#40b040" stroke-width="0.8"/><path d="M306.05 58.7H308.85M307.45 57.3V60.1" stroke="#40b040" stroke-width="0.8"/><path d="M312.68 51.06H315.47M314.07 49.66V52.46" stroke="#40b040" stroke-width="0.8"/><path d="M320.33 44.4H323.13M321.73 43V45.8" stroke="#40b040" stroke-width="0.8"/><path d="M328.9 39.1H331.7M330.3 37.7V40.5" stroke="#40b040" stroke-width="0.8"/><path d="M338.5 35.56H341.3M339.9 34.16V36.96" stroke="#40b040" stroke-width="0.8"/><path d="M348.24 33.04H351.04M349.64 31.64V34.44" stroke="#40b040" stroke-width="0.8"/><path d="M358.05 30.73H360.85M359.45 29.33V32.13" stroke="#40b040" stroke-width="0.8"/><path d="M367.95 28.58H370.75M369.35 27.18V29.98" stroke="#40b040" stroke-width="0.8"/><path d="M377.97 27.4H380.77M379.37 26V28.8" stroke="#40b040" stroke-width="0.8"/><path d="M388.09 26.83H390.89M389.49 25.43V28.23" stroke="#40b040" stroke-width="0.8"/><path d="M398.02 27.25H400.82M399.42 25.85V28.65" stroke="#40b040" stroke-width="0.8"/><path d="M404.78 34.17H407.58M406.18 32.77V35.57" stroke="#40b040" stroke-width="0.8"/><path d="M409.32 43.31H412.12M410.72 41.91V44.71" stroke="#40b040" stroke-width="0.8"/><path d="M413.5 52.54H416.3M414.9 51.14V53.94" stroke="#40b040" stroke-width="0.8"/><path d="M422.5 56.33H425.3M423.9 54.93V57.73" stroke="#40b040" stroke-width="0.8"/><path d="M432.28 58.54H435.08M433.68 57.14V59.94" stroke="#40b040" stroke-width="0.8"/><path d="M442.1 60.5H444.9M443.5 59.1V61.9" stroke="#40b040" stroke-width="0.8"/><path d="M452.03 62.72H454.83M453.43 61.32V64.12" stroke="#40b040" stroke-width="0.8"/><path d="M461.69 65.79H464.49M463.09 64.39V67.19" stroke="#40b040" stroke-width="0.8"/><path d="M470.38 70.95H473.18M471.78 69.55V72.35" stroke="#40b040" stroke-width="0.8"/><path d="M479.2 76H482M480.6 74.6V77.4" stroke="#40b040" stroke-width="0.8"/><path d="M487.8 80.3H490.6M489.2 78.9V81.7" stroke="#40b040" stroke-width="0.8"/>
<path d="M300.7 128H303.5M302.1 126.6V129.4" stroke="#40b040" stroke-width="0.8"/><path d="M301.08 124.01H303.88M302.48 122.61V125.41" stroke="#40b040" stroke-width="0.8"/><path d="M301.47 120.02H304.27M302.87 118.62V121.42" stroke="#40b040" stroke-width="0.8"/><path d="M301.85 116.03H304.65M303.25 114.63V117.43" stroke="#40b040" stroke-width="0.8"/><path d="M302.24 112.04H305.04M303.64 110.64V113.44" stroke="#40b040" stroke-width="0.8"/><path d="M302.63 108.05H305.43M304.03 106.65V109.45" stroke="#40b040" stroke-width="0.8"/><path d="M303.11 104.07H305.91M304.51 102.67V105.47" stroke="#40b040" stroke-width="0.8"/><path d="M303.58 100.09H306.38M304.98 98.69V101.49" stroke="#40b040" stroke-width="0.8"/><path d="M304.1 96.1H306.9M305.5 94.7V97.5" stroke="#40b040" stroke-width="0.8"/><path d="M304.93 92.07H307.73M306.33 90.67V93.47" stroke="#40b040" stroke-width="0.8"/><path d="M305.76 88.04H308.56M307.16 86.64V89.44" stroke="#40b040" stroke-width="0.8"/><path d="M309.3 78.67H312.1M310.7 77.27V80.07" stroke="#40b040" stroke-width="0.8"/><path d="M316.14 82.34H318.94M317.54 80.94V83.74" stroke="#40b040" stroke-width="0.8"/><path d="M323.73 89.23H326.53M325.13 87.83V90.63" stroke="#40b040" stroke-width="0.8"/><path d="M328.2 93.7H331M329.6 92.3V95.1" stroke="#40b040" stroke-width="0.8"/>
<path d="M487.8 80.3H490.6M489.2 78.9V81.7" stroke="#40b040" stroke-width="0.8"/><path d="M479.87 82.04H482.67M481.27 80.64V83.44" stroke="#40b040" stroke-width="0.8"/><path d="M472.02 83.59H474.82M473.42 82.19V84.99" stroke="#40b040" stroke-width="0.8"/><path d="M464.18 85.27H466.98M465.58 83.87V86.67" stroke="#40b040" stroke-width="0.8"/><path d="M456.79 88.77H459.59M458.19 87.37V90.17" stroke="#40b040" stroke-width="0.8"/><path d="M452.2 93.1H455M453.6 91.7V94.5" stroke="#40b040" stroke-width="0.8"/>
<path d="M299.7 155.4H302.5M301.1 154V156.8" stroke="#40b040" stroke-width="0.8"/><path d="M304.91 146.89H307.71M306.31 145.49V148.29" stroke="#40b040" stroke-width="0.8"/><path d="M312.3 140.07H315.1M313.7 138.67V141.47" stroke="#40b040" stroke-width="0.8"/><path d="M320.99 134.94H323.79M322.39 133.54V136.34" stroke="#40b040" stroke-width="0.8"/><path d="M330.18 130.72H332.98M331.58 129.32V132.12" stroke="#40b040" stroke-width="0.8"/><path d="M339.75 127.51H342.55M341.15 126.11V128.91" stroke="#40b040" stroke-width="0.8"/><path d="M349.65 125.23H352.45M351.05 123.83V126.63" stroke="#40b040" stroke-width="0.8"/><path d="M359.65 123.61H362.45M361.05 122.21V125.01" stroke="#40b040" stroke-width="0.8"/><path d="M369.65 122.39H372.45M371.05 120.99V123.79" stroke="#40b040" stroke-width="0.8"/><path d="M379.84 122.3H382.64M381.24 120.9V123.7" stroke="#40b040" stroke-width="0.8"/><path d="M389.85 122.98H392.65M391.25 121.58V124.38" stroke="#40b040" stroke-width="0.8"/><path d="M399.81 124.54H402.61M401.21 123.14V125.94" stroke="#40b040" stroke-width="0.8"/><path d="M409.55 126.92H412.35M410.95 125.52V128.32" stroke="#40b040" stroke-width="0.8"/><path d="M419.15 129.78H421.95M420.55 128.38V131.18" stroke="#40b040" stroke-width="0.8"/><path d="M428.55 133.4H431.35M429.95 132V134.8" stroke="#40b040" stroke-width="0.8"/><path d="M437.83 137.19H440.63M439.23 135.79V138.59" stroke="#40b040" stroke-width="0.8"/><path d="M447 141.31H449.8M448.4 139.91V142.71" stroke="#40b040" stroke-width="0.8"/><path d="M456.07 145.89H458.87M457.47 144.49V147.29" stroke="#40b040" stroke-width="0.8"/><path d="M465.14 150.39H467.94M466.54 148.99V151.79" stroke="#40b040" stroke-width="0.8"/><path d="M474.19 154.89H476.99M475.59 153.49V156.29" stroke="#40b040" stroke-width="0.8"/><path d="M483.2 159.43H486M484.6 158.03V160.83" stroke="#40b040" stroke-width="0.8"/>
<path d="M299.7 155.4H302.5M301.1 154V156.8" stroke="#40b040" stroke-width="0.8"/><path d="M301.25 163.3H304.05M302.65 161.9V164.7" stroke="#40b040" stroke-width="0.8"/><path d="M306.48 169.4H309.28M307.88 168V170.8" stroke="#40b040" stroke-width="0.8"/><path d="M314.33 171.2H317.13M315.73 169.8V172.6" stroke="#40b040" stroke-width="0.8"/><path d="M322.53 170.49H325.33M323.93 169.09V171.89" stroke="#40b040" stroke-width="0.8"/><path d="M326.1 169.8H328.9M327.5 168.4V171.2" stroke="#40b040" stroke-width="0.8"/>
<path d="M452.1 157H454.9M453.5 155.6V158.4" stroke="#40b040" stroke-width="0.8"/><path d="M460.07 157.75H462.87M461.47 156.35V159.15" stroke="#40b040" stroke-width="0.8"/><path d="M468.05 158.48H470.85M469.45 157.08V159.88" stroke="#40b040" stroke-width="0.8"/><path d="M476.04 159.24H478.84M477.44 157.84V160.64" stroke="#40b040" stroke-width="0.8"/><path d="M484.06 160.58H486.86M485.46 159.18V161.98" stroke="#40b040" stroke-width="0.8"/>
<path d="M302.1 128L302 110L302 85L302.2 69.4L304.5 57.8L308.4 49.2L314.2 43.4L321.8 38.6L331.5 35.7L343 33.8L356.5 32.8L369.9 32.8L379.5 32.5L387.2 33.8L390 35.7L396.3 41.7L402.7 44.2L410.1 44.2L415.4 48.4L422.8 53.1L432.3 56.9L442.9 60.7L450.2 64.8L455.6 66.8L465 68.8L475.8 72.2L483.8 76.9L489.2 80.3" fill="none" stroke="#3a34c0" stroke-width="1.5" stroke-linejoin="round" stroke-linecap="round"/>
<path d="M302.1 128L304 108.3L305.4 96.6L306.9 89.3L308.4 82L312 76.8L317.9 82.7L323.7 87.8L329.6 93.7" fill="none" stroke="#3a34c0" stroke-width="1.5" stroke-linejoin="round" stroke-linecap="round"/>
<path d="M489.2 80.3L482.5 81.6L474.4 83L466.3 84.3L461 85.7L454.2 87" fill="none" stroke="#3a34c0" stroke-width="1.5" stroke-linejoin="round" stroke-linecap="round"/>
<path d="M301.1 155L303.6 149.2L307.4 145.4L312.2 140.6L319.9 135.8L327.6 131.9L337.2 128.1L348.8 125.2L360.3 123.3L371.8 121.9L381.5 121.9L393 122.7L402.7 124.4L417.5 128.2L432.3 133.9L445 139.2L457.7 145.6L470.4 151.9L481 157.2L487.3 160.4" fill="none" stroke="#3a34c0" stroke-width="1.5" stroke-linejoin="round" stroke-linecap="round"/>
<path d="M301.1 155.4L301.7 161.2L303.6 165.4L307.4 169.2L312.2 171.2L318 171.2L324.7 170.4L327.5 169.8" fill="none" stroke="#3a34c0" stroke-width="1.5" stroke-linejoin="round" stroke-linecap="round"/>
<path d="M453.5 157L466.2 158.2L476.7 159.1L483.1 160.3L487.3 160.8" fill="none" stroke="#3a34c0" stroke-width="1.5" stroke-linejoin="round" stroke-linecap="round"/>
<circle cx="302.1" cy="128" r="1.75" fill="#3c3496"/><circle cx="302.08" cy="124" r="1.75" fill="#3c3496"/><circle cx="302.06" cy="120" r="1.75" fill="#3c3496"/><circle cx="302.03" cy="116" r="1.75" fill="#3c3496"/><circle cx="302.01" cy="112" r="1.75" fill="#3c3496"/><circle cx="302" cy="108" r="1.75" fill="#3c3496"/><circle cx="302" cy="104" r="1.75" fill="#3c3496"/><circle cx="302" cy="100" r="1.75" fill="#3c3496"/><circle cx="302" cy="96" r="1.75" fill="#3c3496"/><circle cx="302" cy="92" r="1.75" fill="#3c3496"/><circle cx="302" cy="88" r="1.75" fill="#3c3496"/><circle cx="302.01" cy="83.99" r="1.75" fill="#3c3496"/><circle cx="302.06" cy="79.97" r="1.75" fill="#3c3496"/><circle cx="302.12" cy="75.94" r="1.75" fill="#3c3496"/><circle cx="302.17" cy="71.92" r="1.75" fill="#3c3496"/><circle cx="302.49" cy="67.92" r="1.75" fill="#3c3496"/><circle cx="304.45" cy="58.05" r="1.75" fill="#3c3496"/><circle cx="308.76" cy="48.84" r="1.75" fill="#3c3496"/><circle cx="316.15" cy="42.17" r="1.75" fill="#3c3496"/><circle cx="325.19" cy="37.59" r="1.75" fill="#3c3496"/><circle cx="335" cy="35.12" r="1.75" fill="#3c3496"/><circle cx="345" cy="33.65" r="1.75" fill="#3c3496"/><circle cx="355" cy="32.91" r="1.75" fill="#3c3496"/><circle cx="365.1" cy="32.8" r="1.75" fill="#3c3496"/><circle cx="375.21" cy="32.63" r="1.75" fill="#3c3496"/><circle cx="385.21" cy="33.46" r="1.75" fill="#3c3496"/><circle cx="393.34" cy="38.88" r="1.75" fill="#3c3496"/><circle cx="401.99" cy="43.92" r="1.75" fill="#3c3496"/><circle cx="411.67" cy="45.44" r="1.75" fill="#3c3496"/><circle cx="419.84" cy="51.22" r="1.75" fill="#3c3496"/><circle cx="428.98" cy="55.57" r="1.75" fill="#3c3496"/><circle cx="438.42" cy="59.1" r="1.75" fill="#3c3496"/><circle cx="447.55" cy="63.31" r="1.75" fill="#3c3496"/><circle cx="456.84" cy="67.06" r="1.75" fill="#3c3496"/><circle cx="466.68" cy="69.33" r="1.75" fill="#3c3496"/><circle cx="476.23" cy="72.45" r="1.75" fill="#3c3496"/><circle cx="484.88" cy="77.58" r="1.75" fill="#3c3496"/><circle cx="489.2" cy="80.3" r="1.75" fill="#3c3496"/>
<circle cx="302.1" cy="128" r="1.75" fill="#3c3496"/><circle cx="302.48" cy="124.01" r="1.75" fill="#3c3496"/><circle cx="302.87" cy="120.02" r="1.75" fill="#3c3496"/><circle cx="303.25" cy="116.03" r="1.75" fill="#3c3496"/><circle cx="303.64" cy="112.04" r="1.75" fill="#3c3496"/><circle cx="304.03" cy="108.05" r="1.75" fill="#3c3496"/><circle cx="304.51" cy="104.07" r="1.75" fill="#3c3496"/><circle cx="304.98" cy="100.09" r="1.75" fill="#3c3496"/><circle cx="305.5" cy="96.1" r="1.75" fill="#3c3496"/><circle cx="306.33" cy="92.07" r="1.75" fill="#3c3496"/><circle cx="307.16" cy="88.04" r="1.75" fill="#3c3496"/><circle cx="310.7" cy="78.67" r="1.75" fill="#3c3496"/><circle cx="317.54" cy="82.34" r="1.75" fill="#3c3496"/><circle cx="325.13" cy="89.23" r="1.75" fill="#3c3496"/><circle cx="329.6" cy="93.7" r="1.75" fill="#3c3496"/>
<circle cx="489.2" cy="80.3" r="1.75" fill="#3c3496"/><circle cx="481.23" cy="81.82" r="1.75" fill="#3c3496"/><circle cx="473.13" cy="83.2" r="1.75" fill="#3c3496"/><circle cx="465.04" cy="84.63" r="1.75" fill="#3c3496"/><circle cx="457.22" cy="86.42" r="1.75" fill="#3c3496"/>
<circle cx="301.1" cy="155" r="1.75" fill="#3c3496"/><circle cx="306.31" cy="146.49" r="1.75" fill="#3c3496"/><circle cx="313.7" cy="139.67" r="1.75" fill="#3c3496"/><circle cx="322.39" cy="134.54" r="1.75" fill="#3c3496"/><circle cx="331.58" cy="130.32" r="1.75" fill="#3c3496"/><circle cx="341.15" cy="127.11" r="1.75" fill="#3c3496"/><circle cx="351.05" cy="124.83" r="1.75" fill="#3c3496"/><circle cx="361.05" cy="123.21" r="1.75" fill="#3c3496"/><circle cx="371.05" cy="121.99" r="1.75" fill="#3c3496"/><circle cx="381.24" cy="121.9" r="1.75" fill="#3c3496"/><circle cx="391.25" cy="122.58" r="1.75" fill="#3c3496"/><circle cx="401.21" cy="124.14" r="1.75" fill="#3c3496"/><circle cx="410.95" cy="126.52" r="1.75" fill="#3c3496"/><circle cx="420.55" cy="129.38" r="1.75" fill="#3c3496"/><circle cx="429.95" cy="133" r="1.75" fill="#3c3496"/><circle cx="439.23" cy="136.79" r="1.75" fill="#3c3496"/><circle cx="448.4" cy="140.91" r="1.75" fill="#3c3496"/><circle cx="457.47" cy="145.49" r="1.75" fill="#3c3496"/><circle cx="466.54" cy="149.99" r="1.75" fill="#3c3496"/><circle cx="475.59" cy="154.49" r="1.75" fill="#3c3496"/><circle cx="484.6" cy="159.03" r="1.75" fill="#3c3496"/>
<circle cx="301.1" cy="155.4" r="1.75" fill="#3c3496"/><circle cx="302.65" cy="163.3" r="1.75" fill="#3c3496"/><circle cx="307.88" cy="169.4" r="1.75" fill="#3c3496"/><circle cx="315.73" cy="171.2" r="1.75" fill="#3c3496"/><circle cx="323.93" cy="170.49" r="1.75" fill="#3c3496"/><circle cx="327.5" cy="169.8" r="1.75" fill="#3c3496"/>
<circle cx="453.5" cy="157" r="1.75" fill="#3c3496"/><circle cx="461.47" cy="157.75" r="1.75" fill="#3c3496"/><circle cx="469.45" cy="158.48" r="1.75" fill="#3c3496"/><circle cx="477.44" cy="159.24" r="1.75" fill="#3c3496"/><circle cx="485.46" cy="160.58" r="1.75" fill="#3c3496"/>
<path d="M323.3 159.8H359.4" stroke="#444444" stroke-width="1.5"/>
<rect x="340.05" y="158.5" width="2.6" height="2.6" fill="#707070" stroke="#2a2a2a" stroke-width="0.75"/>
<text x="365.8" y="162.6" class="lg">Isolated Nac, Config1, 90°</text>
<path d="M323.3 169.35H359.4" stroke="#c23e50" stroke-width="1.35"/>
<path d="M340.05 168.44H342.65L341.35 170.65Z" fill="none" stroke="#c23e50" stroke-width="0.7"/>
<text x="365.8" y="172.15" class="lg">Isolated Nac, Config2, 90°</text>
<path d="M323.3 178.9H359.4" stroke="#40b040" stroke-width="1.25"/>
<path d="M339.95 178.9H342.75M341.35 177.5V180.3" stroke="#40b040" stroke-width="0.8"/>
<text x="365.8" y="181.7" class="lg">Isolated Nac, Config3, 90°</text>
<path d="M323.3 188.45H359.4" stroke="#3a34c0" stroke-width="1.5"/>
<circle cx="341.35" cy="188.45" r="1.75" fill="#3c3496"/>
<text x="365.8" y="191.25" class="lg">Isolated Nac, Config4, 90°</text>
<path d="M26.6 257.2h4.2M26.6 309.1h4.2M26.6 361h4.2M26.6 412.9h4.2M35.6 438.6v-4.2M73.06 438.6v-4.2M110.52 438.6v-4.2M147.98 438.6v-4.2M185.44 438.6v-4.2M222.9 438.6v-4.2M232.5 283.15h-4.2M232.5 322.07h-4.2M232.5 361h-4.2M232.5 399.92h-4.2" stroke="#333" stroke-width="1.1" fill="none"/>
<path d="M26.6 246.82h2.2M26.6 267.58h2.2M26.6 277.96h2.2M26.6 288.34h2.2M26.6 298.72h2.2M26.6 319.48h2.2M26.6 329.86h2.2M26.6 340.24h2.2M26.6 350.62h2.2M26.6 371.38h2.2M26.6 381.76h2.2M26.6 392.14h2.2M26.6 402.52h2.2M26.6 423.28h2.2M26.6 433.66h2.2M44.97 438.6v-2.2M54.33 438.6v-2.2M63.7 438.6v-2.2M82.43 438.6v-2.2M91.79 438.6v-2.2M101.16 438.6v-2.2M119.89 438.6v-2.2M129.25 438.6v-2.2M138.62 438.6v-2.2M157.34 438.6v-2.2M166.71 438.6v-2.2M176.08 438.6v-2.2M194.81 438.6v-2.2M204.17 438.6v-2.2M213.54 438.6v-2.2M232.5 252.01h-2.2M232.5 259.8h-2.2M232.5 267.58h-2.2M232.5 275.37h-2.2M232.5 290.94h-2.2M232.5 298.72h-2.2M232.5 306.5h-2.2M232.5 314.29h-2.2M232.5 329.86h-2.2M232.5 337.64h-2.2M232.5 345.43h-2.2M232.5 353.21h-2.2M232.5 368.78h-2.2M232.5 376.57h-2.2M232.5 384.36h-2.2M232.5 392.14h-2.2M232.5 407.71h-2.2M232.5 415.5h-2.2M232.5 423.28h-2.2M232.5 431.06h-2.2" stroke="#888" stroke-width="0.9" fill="none"/>
<rect x="26.6" y="244.4" width="205.9" height="194.2" fill="none" stroke="#333" stroke-width="1.3"/>
<text x="23.7" y="260.4" text-anchor="end" class="tk">-1</text>
<text x="23.7" y="312.3" text-anchor="end" class="tk">0</text>
<text x="23.7" y="364.2" text-anchor="end" class="tk">1</text>
<text x="23.7" y="416.1" text-anchor="end" class="tk">2</text>
<text x="35.6" y="447.2" text-anchor="middle" class="tk">0</text>
<text x="73.06" y="447.2" text-anchor="middle" class="tk">0.2</text>
<text x="110.52" y="447.2" text-anchor="middle" class="tk">0.4</text>
<text x="147.98" y="447.2" text-anchor="middle" class="tk">0.6</text>
<text x="185.44" y="447.2" text-anchor="middle" class="tk">0.8</text>
<text x="222.9" y="447.2" text-anchor="middle" class="tk">1</text>
<text transform="translate(8.3 341.7) rotate(-90)" text-anchor="middle" class="ti" font-size="10.5">Cp</text>
<text transform="translate(246.1 340.8) rotate(-90)" text-anchor="middle" class="ti"><tspan font-size="11.5">Y</tspan><tspan font-size="8.5" dy="3.5" dx="0.3">foil</tspan></text>
<text x="130.15" y="458" text-anchor="middle" class="ti"><tspan font-size="12">X/C</tspan><tspan font-size="7" dy="3.4">local</tspan></text>
<text x="120.4" y="474.2" text-anchor="middle" class="lb">(c)</text>
<path d="M35.6 368.7L35.5 350L35.6 330L36.1 316.2L36.7 297L37.2 285.6L38.4 285L40.7 286.2L42.4 289.6L44.2 291.3L46.5 289L48.8 288.5L51.1 292.5L54.5 290.2L62.6 289.8L71.8 289.4L79.9 290.8L88 291.3L97.2 292.2L108.8 293.5L118.4 296L126 297.1L138.7 296.7L151.4 296.1L164.1 295.2L172.7 295.4L180.8 295.7L188.9 296.5L199.6 300.1L207.7 304.1L214.5 309.5L219.8 315.6L221.9 318.9" fill="none" stroke="#444444" stroke-width="1.5" stroke-linejoin="round" stroke-linecap="round"/>
<path d="M35.6 368.7L37.1 348.9L38.2 337.2L39.7 328.4L41.9 321.1L45.6 316L50 318.2L54.3 320.4L58.7 327L63.9 334.3" fill="none" stroke="#444444" stroke-width="1.5" stroke-linejoin="round" stroke-linecap="round"/>
<path d="M221.9 321L214.5 321.8L206.4 323L197 324.3L187.5 326.3" fill="none" stroke="#444444" stroke-width="1.5" stroke-linejoin="round" stroke-linecap="round"/>
<path d="M35.7 397.3L38.6 391.5L43.4 388.7L51.1 385.8L60.7 383.3L72.2 381.3L85.7 380L101.1 379.4L114.5 379.4L126 380.6L142.9 381.6L157.7 383.7L172.5 386.9L185.2 390.5L197.9 394.3L210.6 398.5L221.2 402.1" fill="none" stroke="#444444" stroke-width="1.5" stroke-linejoin="round" stroke-linecap="round"/>
<path d="M35.7 397.3L36.1 402.1L37.6 406.9L41.5 410.8L47.2 413.7L53 415L58.8 415L63.6 414.2" fill="none" stroke="#444444" stroke-width="1.5" stroke-linejoin="round" stroke-linecap="round"/>
<path d="M187.3 401.1L197.9 401.7L208.5 402.3L217 402.3L221.2 402.1" fill="none" stroke="#444444" stroke-width="1.5" stroke-linejoin="round" stroke-linecap="round"/>
<rect x="34.3" y="367.4" width="2.6" height="2.6" fill="#707070" stroke="#2a2a2a" stroke-width="0.75"/><rect x="34.28" y="363.36" width="2.6" height="2.6" fill="#707070" stroke="#2a2a2a" stroke-width="0.75"/><rect x="34.26" y="359.31" width="2.6" height="2.6" fill="#707070" stroke="#2a2a2a" stroke-width="0.75"/><rect x="34.24" y="355.27" width="2.6" height="2.6" fill="#707070" stroke="#2a2a2a" stroke-width="0.75"/><rect x="34.21" y="351.23" width="2.6" height="2.6" fill="#707070" stroke="#2a2a2a" stroke-width="0.75"/><rect x="34.21" y="347.2" width="2.6" height="2.6" fill="#707070" stroke="#2a2a2a" stroke-width="0.75"/><rect x="34.23" y="343.2" width="2.6" height="2.6" fill="#707070" stroke="#2a2a2a" stroke-width="0.75"/><rect x="34.25" y="339.2" width="2.6" height="2.6" fill="#707070" stroke="#2a2a2a" stroke-width="0.75"/><rect x="34.27" y="335.2" width="2.6" height="2.6" fill="#707070" stroke="#2a2a2a" stroke-width="0.75"/><rect x="34.29" y="331.2" width="2.6" height="2.6" fill="#707070" stroke="#2a2a2a" stroke-width="0.75"/><rect x="34.35" y="327.19" width="2.6" height="2.6" fill="#707070" stroke="#2a2a2a" stroke-width="0.75"/><rect x="34.5" y="323.18" width="2.6" height="2.6" fill="#707070" stroke="#2a2a2a" stroke-width="0.75"/><rect x="34.65" y="319.17" width="2.6" height="2.6" fill="#707070" stroke="#2a2a2a" stroke-width="0.75"/><rect x="34.79" y="315.15" width="2.6" height="2.6" fill="#707070" stroke="#2a2a2a" stroke-width="0.75"/><rect x="34.92" y="311.11" width="2.6" height="2.6" fill="#707070" stroke="#2a2a2a" stroke-width="0.75"/><rect x="35.23" y="301.01" width="2.6" height="2.6" fill="#707070" stroke="#2a2a2a" stroke-width="0.75"/><rect x="35.61" y="290.89" width="2.6" height="2.6" fill="#707070" stroke="#2a2a2a" stroke-width="0.75"/><rect x="38.94" y="284.66" width="2.6" height="2.6" fill="#707070" stroke="#2a2a2a" stroke-width="0.75"/><rect x="45.2" y="287.7" width="2.6" height="2.6" fill="#707070" stroke="#2a2a2a" stroke-width="0.75"/><rect x="52.35" y="289.47" width="2.6" height="2.6" fill="#707070" stroke="#2a2a2a" stroke-width="0.75"/><rect x="62.32" y="288.46" width="2.6" height="2.6" fill="#707070" stroke="#2a2a2a" stroke-width="0.75"/><rect x="72.53" y="288.45" width="2.6" height="2.6" fill="#707070" stroke="#2a2a2a" stroke-width="0.75"/><rect x="82.65" y="289.75" width="2.6" height="2.6" fill="#707070" stroke="#2a2a2a" stroke-width="0.75"/><rect x="92.83" y="290.6" width="2.6" height="2.6" fill="#707070" stroke="#2a2a2a" stroke-width="0.75"/><rect x="102.96" y="291.69" width="2.6" height="2.6" fill="#707070" stroke="#2a2a2a" stroke-width="0.75"/><rect x="112.92" y="293.61" width="2.6" height="2.6" fill="#707070" stroke="#2a2a2a" stroke-width="0.75"/><rect x="122.93" y="295.54" width="2.6" height="2.6" fill="#707070" stroke="#2a2a2a" stroke-width="0.75"/><rect x="133.08" y="295.54" width="2.6" height="2.6" fill="#707070" stroke="#2a2a2a" stroke-width="0.75"/><rect x="143.24" y="295.12" width="2.6" height="2.6" fill="#707070" stroke="#2a2a2a" stroke-width="0.75"/><rect x="153.4" y="294.57" width="2.6" height="2.6" fill="#707070" stroke="#2a2a2a" stroke-width="0.75"/><rect x="163.56" y="293.92" width="2.6" height="2.6" fill="#707070" stroke="#2a2a2a" stroke-width="0.75"/><rect x="173.68" y="294.18" width="2.6" height="2.6" fill="#707070" stroke="#2a2a2a" stroke-width="0.75"/><rect x="183.8" y="294.82" width="2.6" height="2.6" fill="#707070" stroke="#2a2a2a" stroke-width="0.75"/><rect x="193.54" y="297.2" width="2.6" height="2.6" fill="#707070" stroke="#2a2a2a" stroke-width="0.75"/><rect x="202.8" y="301.02" width="2.6" height="2.6" fill="#707070" stroke="#2a2a2a" stroke-width="0.75"/><rect x="211.2" y="306.61" width="2.6" height="2.6" fill="#707070" stroke="#2a2a2a" stroke-width="0.75"/><rect x="218.17" y="313.92" width="2.6" height="2.6" fill="#707070" stroke="#2a2a2a" stroke-width="0.75"/><rect x="220.6" y="317.6" width="2.6" height="2.6" fill="#707070" stroke="#2a2a2a" stroke-width="0.75"/>
<rect x="34.3" y="367.4" width="2.6" height="2.6" fill="#707070" stroke="#2a2a2a" stroke-width="0.75"/><rect x="34.6" y="363.39" width="2.6" height="2.6" fill="#707070" stroke="#2a2a2a" stroke-width="0.75"/><rect x="34.91" y="359.38" width="2.6" height="2.6" fill="#707070" stroke="#2a2a2a" stroke-width="0.75"/><rect x="35.21" y="355.37" width="2.6" height="2.6" fill="#707070" stroke="#2a2a2a" stroke-width="0.75"/><rect x="35.52" y="351.36" width="2.6" height="2.6" fill="#707070" stroke="#2a2a2a" stroke-width="0.75"/><rect x="35.82" y="347.35" width="2.6" height="2.6" fill="#707070" stroke="#2a2a2a" stroke-width="0.75"/><rect x="36.2" y="343.37" width="2.6" height="2.6" fill="#707070" stroke="#2a2a2a" stroke-width="0.75"/><rect x="36.57" y="339.39" width="2.6" height="2.6" fill="#707070" stroke="#2a2a2a" stroke-width="0.75"/><rect x="36.99" y="335.4" width="2.6" height="2.6" fill="#707070" stroke="#2a2a2a" stroke-width="0.75"/><rect x="37.67" y="331.37" width="2.6" height="2.6" fill="#707070" stroke="#2a2a2a" stroke-width="0.75"/><rect x="38.36" y="327.35" width="2.6" height="2.6" fill="#707070" stroke="#2a2a2a" stroke-width="0.75"/><rect x="39.5" y="323.45" width="2.6" height="2.6" fill="#707070" stroke="#2a2a2a" stroke-width="0.75"/><rect x="44.3" y="314.7" width="2.6" height="2.6" fill="#707070" stroke="#2a2a2a" stroke-width="0.75"/><rect x="53.14" y="319.31" width="2.6" height="2.6" fill="#707070" stroke="#2a2a2a" stroke-width="0.75"/><rect x="58.89" y="327.79" width="2.6" height="2.6" fill="#707070" stroke="#2a2a2a" stroke-width="0.75"/><rect x="62.6" y="333" width="2.6" height="2.6" fill="#707070" stroke="#2a2a2a" stroke-width="0.75"/>
<rect x="220.6" y="319.7" width="2.6" height="2.6" fill="#707070" stroke="#2a2a2a" stroke-width="0.75"/><rect x="212.44" y="320.61" width="2.6" height="2.6" fill="#707070" stroke="#2a2a2a" stroke-width="0.75"/><rect x="204.34" y="321.81" width="2.6" height="2.6" fill="#707070" stroke="#2a2a2a" stroke-width="0.75"/><rect x="196.21" y="322.93" width="2.6" height="2.6" fill="#707070" stroke="#2a2a2a" stroke-width="0.75"/><rect x="188.2" y="324.58" width="2.6" height="2.6" fill="#707070" stroke="#2a2a2a" stroke-width="0.75"/>
<rect x="34.4" y="396" width="2.6" height="2.6" fill="#707070" stroke="#2a2a2a" stroke-width="0.75"/><rect x="40.35" y="388.42" width="2.6" height="2.6" fill="#707070" stroke="#2a2a2a" stroke-width="0.75"/><rect x="49.8" y="384.5" width="2.6" height="2.6" fill="#707070" stroke="#2a2a2a" stroke-width="0.75"/><rect x="59.65" y="381.96" width="2.6" height="2.6" fill="#707070" stroke="#2a2a2a" stroke-width="0.75"/><rect x="69.65" y="380.22" width="2.6" height="2.6" fill="#707070" stroke="#2a2a2a" stroke-width="0.75"/><rect x="79.65" y="379.16" width="2.6" height="2.6" fill="#707070" stroke="#2a2a2a" stroke-width="0.75"/><rect x="89.7" y="378.49" width="2.6" height="2.6" fill="#707070" stroke="#2a2a2a" stroke-width="0.75"/><rect x="99.8" y="378.1" width="2.6" height="2.6" fill="#707070" stroke="#2a2a2a" stroke-width="0.75"/><rect x="109.91" y="378.1" width="2.6" height="2.6" fill="#707070" stroke="#2a2a2a" stroke-width="0.75"/><rect x="119.95" y="378.8" width="2.6" height="2.6" fill="#707070" stroke="#2a2a2a" stroke-width="0.75"/><rect x="130" y="379.61" width="2.6" height="2.6" fill="#707070" stroke="#2a2a2a" stroke-width="0.75"/><rect x="140.09" y="380.21" width="2.6" height="2.6" fill="#707070" stroke="#2a2a2a" stroke-width="0.75"/><rect x="150.13" y="381.51" width="2.6" height="2.6" fill="#707070" stroke="#2a2a2a" stroke-width="0.75"/><rect x="160.1" y="383.2" width="2.6" height="2.6" fill="#707070" stroke="#2a2a2a" stroke-width="0.75"/><rect x="169.97" y="385.33" width="2.6" height="2.6" fill="#707070" stroke="#2a2a2a" stroke-width="0.75"/><rect x="179.75" y="388.02" width="2.6" height="2.6" fill="#707070" stroke="#2a2a2a" stroke-width="0.75"/><rect x="189.41" y="390.85" width="2.6" height="2.6" fill="#707070" stroke="#2a2a2a" stroke-width="0.75"/><rect x="199" y="393.79" width="2.6" height="2.6" fill="#707070" stroke="#2a2a2a" stroke-width="0.75"/><rect x="208.58" y="396.96" width="2.6" height="2.6" fill="#707070" stroke="#2a2a2a" stroke-width="0.75"/><rect x="218.21" y="400.23" width="2.6" height="2.6" fill="#707070" stroke="#2a2a2a" stroke-width="0.75"/>
<rect x="34.4" y="396" width="2.6" height="2.6" fill="#707070" stroke="#2a2a2a" stroke-width="0.75"/><rect x="35.78" y="403.92" width="2.6" height="2.6" fill="#707070" stroke="#2a2a2a" stroke-width="0.75"/><rect x="40.88" y="409.85" width="2.6" height="2.6" fill="#707070" stroke="#2a2a2a" stroke-width="0.75"/><rect x="48.42" y="412.97" width="2.6" height="2.6" fill="#707070" stroke="#2a2a2a" stroke-width="0.75"/><rect x="56.49" y="413.7" width="2.6" height="2.6" fill="#707070" stroke="#2a2a2a" stroke-width="0.75"/><rect x="62.3" y="412.9" width="2.6" height="2.6" fill="#707070" stroke="#2a2a2a" stroke-width="0.75"/>
<rect x="186" y="399.8" width="2.6" height="2.6" fill="#707070" stroke="#2a2a2a" stroke-width="0.75"/><rect x="194.08" y="400.26" width="2.6" height="2.6" fill="#707070" stroke="#2a2a2a" stroke-width="0.75"/><rect x="202.15" y="400.71" width="2.6" height="2.6" fill="#707070" stroke="#2a2a2a" stroke-width="0.75"/><rect x="210.2" y="401" width="2.6" height="2.6" fill="#707070" stroke="#2a2a2a" stroke-width="0.75"/><rect x="218.32" y="400.88" width="2.6" height="2.6" fill="#707070" stroke="#2a2a2a" stroke-width="0.75"/>
<path d="M35.6 368.7L35.6 350L36.3 330L39 318.5L40.7 308.1L43 300L46.5 294.2L51.1 289.6L58 285.6L66.1 282.7L74.2 279.8L82.2 277.5L89.5 276.2L101.1 274.9L112.6 274.3L118.4 275.8L122.2 281.6L126.1 290.3L128.1 294.6L131.3 298.2L138.7 299.5L147.2 298.8L155.6 298.2L168.3 299.5L179.5 300.6L188.9 302.6L199.6 305.2L209.1 308.5L217.1 313.6L221.9 318.9" fill="none" stroke="#c23e50" stroke-width="1.35" stroke-linejoin="round" stroke-linecap="round"/>
<path d="M35.6 368.7L37.1 348.9L38.2 337.2L39.7 328.4L41.9 321.1L45.6 316L50 318.2L54.3 320.4L58.7 327L63.9 334.3" fill="none" stroke="#c23e50" stroke-width="1.35" stroke-linejoin="round" stroke-linecap="round"/>
<path d="M221.9 321L214.5 321.2L206.4 321.9L197 322.3L187.5 323" fill="none" stroke="#c23e50" stroke-width="1.35" stroke-linejoin="round" stroke-linecap="round"/>
<path d="M35.7 397.3L38.6 390.6L43.4 386L51.1 380L60.7 375.2L72.2 371.9L85.7 370.4L101.1 370L114.5 370.4L126 373.2L142.9 375.7L157.7 379.1L172.5 383.7L185.2 388.4L197.9 393.3L210.6 397.5L221.2 402.1" fill="none" stroke="#c23e50" stroke-width="1.35" stroke-linejoin="round" stroke-linecap="round"/>
<path d="M35.7 397.3L36.1 402.1L37.6 406.9L41.5 410.8L47.2 413.7L53 415L58.8 415L63.6 414.2" fill="none" stroke="#c23e50" stroke-width="1.35" stroke-linejoin="round" stroke-linecap="round"/>
<path d="M187.3 401.1L197.9 401.7L208.5 402.3L217 402.3L221.2 402.1" fill="none" stroke="#c23e50" stroke-width="1.35" stroke-linejoin="round" stroke-linecap="round"/>
<path d="M34.3 367.79H36.9L35.6 370Z" fill="none" stroke="#c23e50" stroke-width="0.7"/><path d="M34.3 363.75H36.9L35.6 365.96Z" fill="none" stroke="#c23e50" stroke-width="0.7"/><path d="M34.3 359.7H36.9L35.6 361.91Z" fill="none" stroke="#c23e50" stroke-width="0.7"/><path d="M34.3 355.66H36.9L35.6 357.87Z" fill="none" stroke="#c23e50" stroke-width="0.7"/><path d="M34.3 351.62H36.9L35.6 353.83Z" fill="none" stroke="#c23e50" stroke-width="0.7"/><path d="M34.35 347.59H36.95L35.65 349.8Z" fill="none" stroke="#c23e50" stroke-width="0.7"/><path d="M34.49 343.59H37.09L35.79 345.8Z" fill="none" stroke="#c23e50" stroke-width="0.7"/><path d="M34.63 339.59H37.23L35.93 341.8Z" fill="none" stroke="#c23e50" stroke-width="0.7"/><path d="M34.77 335.59H37.37L36.07 337.8Z" fill="none" stroke="#c23e50" stroke-width="0.7"/><path d="M34.91 331.59H37.51L36.21 333.8Z" fill="none" stroke="#c23e50" stroke-width="0.7"/><path d="M35.34 327.62H37.94L36.64 329.83Z" fill="none" stroke="#c23e50" stroke-width="0.7"/><path d="M36.26 323.71H38.86L37.56 325.92Z" fill="none" stroke="#c23e50" stroke-width="0.7"/><path d="M37.18 319.79H39.78L38.48 322Z" fill="none" stroke="#c23e50" stroke-width="0.7"/><path d="M37.98 315.86H40.58L39.28 318.07Z" fill="none" stroke="#c23e50" stroke-width="0.7"/><path d="M38.63 311.89H41.23L39.93 314.1Z" fill="none" stroke="#c23e50" stroke-width="0.7"/><path d="M40.86 302.04H43.46L42.16 304.25Z" fill="none" stroke="#c23e50" stroke-width="0.7"/><path d="M45.38 293.11H47.98L46.68 295.32Z" fill="none" stroke="#c23e50" stroke-width="0.7"/><path d="M53.14 286.75H55.74L54.44 288.96Z" fill="none" stroke="#c23e50" stroke-width="0.7"/><path d="M62.42 282.64H65.02L63.72 284.85Z" fill="none" stroke="#c23e50" stroke-width="0.7"/><path d="M71.95 279.23H74.55L73.25 281.44Z" fill="none" stroke="#c23e50" stroke-width="0.7"/><path d="M81.66 276.46H84.26L82.96 278.67Z" fill="none" stroke="#c23e50" stroke-width="0.7"/><path d="M91.73 274.89H94.33L93.03 277.1Z" fill="none" stroke="#c23e50" stroke-width="0.7"/><path d="M101.8 273.89H104.4L103.1 276.1Z" fill="none" stroke="#c23e50" stroke-width="0.7"/><path d="M111.8 273.52H114.4L113.1 275.73Z" fill="none" stroke="#c23e50" stroke-width="0.7"/><path d="M119.63 278.76H122.23L120.93 280.97Z" fill="none" stroke="#c23e50" stroke-width="0.7"/><path d="M124.08 287.79H126.68L125.38 290Z" fill="none" stroke="#c23e50" stroke-width="0.7"/><path d="M129.16 296.34H131.76L130.46 298.55Z" fill="none" stroke="#c23e50" stroke-width="0.7"/><path d="M138.65 298.49H141.25L139.95 300.7Z" fill="none" stroke="#c23e50" stroke-width="0.7"/><path d="M148.7 297.69H151.3L150 299.9Z" fill="none" stroke="#c23e50" stroke-width="0.7"/><path d="M158.78 297.75H161.38L160.08 299.96Z" fill="none" stroke="#c23e50" stroke-width="0.7"/><path d="M168.74 298.76H171.34L170.04 300.97Z" fill="none" stroke="#c23e50" stroke-width="0.7"/><path d="M178.69 299.8H181.29L179.99 302.01Z" fill="none" stroke="#c23e50" stroke-width="0.7"/><path d="M188.57 301.93H191.17L189.87 304.14Z" fill="none" stroke="#c23e50" stroke-width="0.7"/><path d="M198.3 304.29H200.9L199.6 306.5Z" fill="none" stroke="#c23e50" stroke-width="0.7"/><path d="M207.8 307.59H210.4L209.1 309.8Z" fill="none" stroke="#c23e50" stroke-width="0.7"/><path d="M216.31 313.26H218.91L217.61 315.47Z" fill="none" stroke="#c23e50" stroke-width="0.7"/><path d="M220.6 317.99H223.2L221.9 320.2Z" fill="none" stroke="#c23e50" stroke-width="0.7"/>
<path d="M34.3 367.79H36.9L35.6 370Z" fill="none" stroke="#c23e50" stroke-width="0.7"/><path d="M34.6 363.78H37.2L35.9 365.99Z" fill="none" stroke="#c23e50" stroke-width="0.7"/><path d="M34.91 359.77H37.51L36.21 361.98Z" fill="none" stroke="#c23e50" stroke-width="0.7"/><path d="M35.21 355.76H37.81L36.51 357.97Z" fill="none" stroke="#c23e50" stroke-width="0.7"/><path d="M35.52 351.75H38.12L36.82 353.96Z" fill="none" stroke="#c23e50" stroke-width="0.7"/><path d="M35.82 347.74H38.42L37.12 349.95Z" fill="none" stroke="#c23e50" stroke-width="0.7"/><path d="M36.2 343.76H38.8L37.5 345.97Z" fill="none" stroke="#c23e50" stroke-width="0.7"/><path d="M36.57 339.78H39.17L37.87 341.99Z" fill="none" stroke="#c23e50" stroke-width="0.7"/><path d="M36.99 335.79H39.59L38.29 338Z" fill="none" stroke="#c23e50" stroke-width="0.7"/><path d="M37.67 331.76H40.27L38.97 333.97Z" fill="none" stroke="#c23e50" stroke-width="0.7"/><path d="M38.36 327.74H40.96L39.66 329.95Z" fill="none" stroke="#c23e50" stroke-width="0.7"/><path d="M39.5 323.84H42.1L40.8 326.05Z" fill="none" stroke="#c23e50" stroke-width="0.7"/><path d="M44.3 315.09H46.9L45.6 317.3Z" fill="none" stroke="#c23e50" stroke-width="0.7"/><path d="M53.14 319.7H55.74L54.44 321.91Z" fill="none" stroke="#c23e50" stroke-width="0.7"/><path d="M58.89 328.18H61.49L60.19 330.39Z" fill="none" stroke="#c23e50" stroke-width="0.7"/><path d="M62.6 333.39H65.2L63.9 335.6Z" fill="none" stroke="#c23e50" stroke-width="0.7"/>
<path d="M220.6 320.09H223.2L221.9 322.3Z" fill="none" stroke="#c23e50" stroke-width="0.7"/><path d="M212.44 320.36H215.04L213.74 322.57Z" fill="none" stroke="#c23e50" stroke-width="0.7"/><path d="M204.34 321.02H206.94L205.64 323.23Z" fill="none" stroke="#c23e50" stroke-width="0.7"/><path d="M196.21 321.37H198.81L197.51 323.58Z" fill="none" stroke="#c23e50" stroke-width="0.7"/><path d="M188.2 321.94H190.8L189.5 324.15Z" fill="none" stroke="#c23e50" stroke-width="0.7"/>
<path d="M34.4 396.39H37L35.7 398.6Z" fill="none" stroke="#c23e50" stroke-width="0.7"/><path d="M39.33 387.74H41.93L40.63 389.95Z" fill="none" stroke="#c23e50" stroke-width="0.7"/><path d="M47.04 381.24H49.64L48.34 383.45Z" fill="none" stroke="#c23e50" stroke-width="0.7"/><path d="M55.74 376.12H58.34L57.04 378.33Z" fill="none" stroke="#c23e50" stroke-width="0.7"/><path d="M65.27 372.6H67.87L66.57 374.81Z" fill="none" stroke="#c23e50" stroke-width="0.7"/><path d="M75.15 370.52H77.75L76.45 372.73Z" fill="none" stroke="#c23e50" stroke-width="0.7"/><path d="M85.16 369.47H87.76L86.46 371.68Z" fill="none" stroke="#c23e50" stroke-width="0.7"/><path d="M95.26 369.21H97.86L96.56 371.42Z" fill="none" stroke="#c23e50" stroke-width="0.7"/><path d="M105.36 369.26H107.96L106.66 371.47Z" fill="none" stroke="#c23e50" stroke-width="0.7"/><path d="M115.4 370.03H118L116.7 372.24Z" fill="none" stroke="#c23e50" stroke-width="0.7"/><path d="M125.2 372.36H127.8L126.5 374.57Z" fill="none" stroke="#c23e50" stroke-width="0.7"/><path d="M135.14 373.83H137.74L136.44 376.04Z" fill="none" stroke="#c23e50" stroke-width="0.7"/><path d="M145.05 375.58H147.65L146.35 377.79Z" fill="none" stroke="#c23e50" stroke-width="0.7"/><path d="M154.92 377.85H157.52L156.22 380.06Z" fill="none" stroke="#c23e50" stroke-width="0.7"/><path d="M164.65 380.75H167.25L165.95 382.96Z" fill="none" stroke="#c23e50" stroke-width="0.7"/><path d="M174.26 383.92H176.86L175.56 386.13Z" fill="none" stroke="#c23e50" stroke-width="0.7"/><path d="M183.66 387.4H186.26L184.96 389.61Z" fill="none" stroke="#c23e50" stroke-width="0.7"/><path d="M193.07 391.03H195.67L194.37 393.24Z" fill="none" stroke="#c23e50" stroke-width="0.7"/><path d="M202.59 394.37H205.19L203.89 396.58Z" fill="none" stroke="#c23e50" stroke-width="0.7"/><path d="M212.07 397.79H214.67L213.37 400Z" fill="none" stroke="#c23e50" stroke-width="0.7"/><path d="M219.9 401.19H222.5L221.2 403.4Z" fill="none" stroke="#c23e50" stroke-width="0.7"/>
<path d="M34.4 396.39H37L35.7 398.6Z" fill="none" stroke="#c23e50" stroke-width="0.7"/><path d="M35.78 404.31H38.38L37.08 406.52Z" fill="none" stroke="#c23e50" stroke-width="0.7"/><path d="M40.88 410.24H43.48L42.18 412.45Z" fill="none" stroke="#c23e50" stroke-width="0.7"/><path d="M48.42 413.36H51.02L49.72 415.57Z" fill="none" stroke="#c23e50" stroke-width="0.7"/><path d="M56.49 414.09H59.09L57.79 416.3Z" fill="none" stroke="#c23e50" stroke-width="0.7"/><path d="M62.3 413.29H64.9L63.6 415.5Z" fill="none" stroke="#c23e50" stroke-width="0.7"/>
<path d="M186 400.19H188.6L187.3 402.4Z" fill="none" stroke="#c23e50" stroke-width="0.7"/><path d="M194.08 400.65H196.68L195.38 402.86Z" fill="none" stroke="#c23e50" stroke-width="0.7"/><path d="M202.15 401.1H204.75L203.45 403.31Z" fill="none" stroke="#c23e50" stroke-width="0.7"/><path d="M210.2 401.39H212.8L211.5 403.6Z" fill="none" stroke="#c23e50" stroke-width="0.7"/><path d="M218.32 401.26H220.93L219.62 403.48Z" fill="none" stroke="#c23e50" stroke-width="0.7"/>
<path d="M35.6 368.7L36.2 350L37.8 330L39.5 319.6L43 311.5L46.5 305.8L51.1 301.2L56.8 297.1L62.6 293.1L69.5 289.6L77.6 285.6L85.7 281.5L95.3 276.8L104.9 273.9L112.6 273L120.3 273L128 273.2L138.7 273L142.9 274.5L147.2 279.8L150.3 288.3L153.5 293.5L159.8 297.8L168.3 299.5L179.5 302.1L188.9 305.5L199.6 309.5L209.1 313.6L217.1 318.3L221.9 321" fill="none" stroke="#40b040" stroke-width="1.25" stroke-linejoin="round" stroke-linecap="round"/>
<path d="M35.6 368.7L37.1 348.9L38.2 337.2L39.7 328.4L41.9 321.1L45.6 316L50 318.2L54.3 320.4L58.7 327L63.9 334.3" fill="none" stroke="#40b040" stroke-width="1.25" stroke-linejoin="round" stroke-linecap="round"/>
<path d="M221.9 321L214.5 321.8L206.4 323L197 324.3L187.5 326.3" fill="none" stroke="#40b040" stroke-width="1.25" stroke-linejoin="round" stroke-linecap="round"/>
<path d="M35.7 397.3L38.6 390.6L43.4 385.8L51.1 379L60.7 373.3L72.2 369.4L85.7 366.9L101.1 365.6L114.5 365.6L126 366.8L142.9 370.6L157.7 374.8L172.5 380.6L185.2 385.8L197.9 391.8L210.6 396.8L221.2 402.1" fill="none" stroke="#40b040" stroke-width="1.25" stroke-linejoin="round" stroke-linecap="round"/>
<path d="M35.7 397.3L36.1 402.1L37.6 406.9L41.5 410.8L47.2 413.7L53 415L58.8 415L63.6 414.2" fill="none" stroke="#40b040" stroke-width="1.25" stroke-linejoin="round" stroke-linecap="round"/>
<path d="M187.3 401.1L197.9 401.7L208.5 402.3L217 402.3L221.2 402.1" fill="none" stroke="#40b040" stroke-width="1.25" stroke-linejoin="round" stroke-linecap="round"/>
<path d="M34.2 368.7H37M35.6 367.3V370.1" stroke="#40b040" stroke-width="0.8"/><path d="M34.33 364.66H37.13M35.73 363.26V366.06" stroke="#40b040" stroke-width="0.8"/><path d="M34.46 360.61H37.26M35.86 359.21V362.01" stroke="#40b040" stroke-width="0.8"/><path d="M34.59 356.57H37.39M35.99 355.17V357.97" stroke="#40b040" stroke-width="0.8"/><path d="M34.72 352.53H37.52M36.12 351.13V353.93" stroke="#40b040" stroke-width="0.8"/><path d="M34.92 348.5H37.72M36.32 347.1V349.9" stroke="#40b040" stroke-width="0.8"/><path d="M35.24 344.5H38.04M36.64 343.1V345.9" stroke="#40b040" stroke-width="0.8"/><path d="M35.56 340.5H38.36M36.96 339.1V341.9" stroke="#40b040" stroke-width="0.8"/><path d="M35.88 336.5H38.68M37.28 335.1V337.9" stroke="#40b040" stroke-width="0.8"/><path d="M36.2 332.5H39M37.6 331.1V333.9" stroke="#40b040" stroke-width="0.8"/><path d="M36.64 328.51H39.44M38.04 327.11V329.91" stroke="#40b040" stroke-width="0.8"/><path d="M37.29 324.55H40.09M38.69 323.15V325.95" stroke="#40b040" stroke-width="0.8"/><path d="M37.94 320.59H40.74M39.34 319.19V321.99" stroke="#40b040" stroke-width="0.8"/><path d="M39.3 316.82H42.1M40.7 315.42V318.22" stroke="#40b040" stroke-width="0.8"/><path d="M43.89 307.77H46.69M45.29 306.37V309.17" stroke="#40b040" stroke-width="0.8"/><path d="M50.72 300.47H53.52M52.12 299.07V301.87" stroke="#40b040" stroke-width="0.8"/><path d="M58.92 294.67H61.72M60.32 293.27V296.07" stroke="#40b040" stroke-width="0.8"/><path d="M67.87 289.72H70.67M69.27 288.32V291.12" stroke="#40b040" stroke-width="0.8"/><path d="M76.87 285.26H79.67M78.27 283.86V286.66" stroke="#40b040" stroke-width="0.8"/><path d="M85.9 280.72H88.7M87.3 279.32V282.12" stroke="#40b040" stroke-width="0.8"/><path d="M95.1 276.44H97.9M96.5 275.04V277.84" stroke="#40b040" stroke-width="0.8"/><path d="M104.74 273.75H107.54M106.14 272.35V275.15" stroke="#40b040" stroke-width="0.8"/><path d="M114.79 273H117.59M116.19 271.6V274.4" stroke="#40b040" stroke-width="0.8"/><path d="M124.8 273.15H127.6M126.2 271.75V274.55" stroke="#40b040" stroke-width="0.8"/><path d="M135.01 273.04H137.81M136.41 271.64V274.44" stroke="#40b040" stroke-width="0.8"/><path d="M143.57 277.05H146.37M144.97 275.65V278.45" stroke="#40b040" stroke-width="0.8"/><path d="M148.04 285.94H150.84M149.44 284.54V287.34" stroke="#40b040" stroke-width="0.8"/><path d="M153.36 294.36H156.16M154.76 292.96V295.76" stroke="#40b040" stroke-width="0.8"/><path d="M162.4 298.6H165.2M163.8 297.2V300" stroke="#40b040" stroke-width="0.8"/><path d="M172.38 300.77H175.18M173.78 299.37V302.17" stroke="#40b040" stroke-width="0.8"/><path d="M182.2 303.58H185M183.6 302.18V304.98" stroke="#40b040" stroke-width="0.8"/><path d="M191.78 307.1H194.58M193.18 305.7V308.5" stroke="#40b040" stroke-width="0.8"/><path d="M201.21 310.8H204.01M202.61 309.4V312.2" stroke="#40b040" stroke-width="0.8"/><path d="M210.29 315.12H213.09M211.69 313.72V316.52" stroke="#40b040" stroke-width="0.8"/><path d="M218.97 320.14H221.77M220.37 318.74V321.54" stroke="#40b040" stroke-width="0.8"/>
<path d="M34.2 368.7H37M35.6 367.3V370.1" stroke="#40b040" stroke-width="0.8"/><path d="M34.5 364.69H37.3M35.9 363.29V366.09" stroke="#40b040" stroke-width="0.8"/><path d="M34.81 360.68H37.61M36.21 359.28V362.08" stroke="#40b040" stroke-width="0.8"/><path d="M35.11 356.67H37.91M36.51 355.27V358.07" stroke="#40b040" stroke-width="0.8"/><path d="M35.42 352.66H38.22M36.82 351.26V354.06" stroke="#40b040" stroke-width="0.8"/><path d="M35.72 348.65H38.52M37.12 347.25V350.05" stroke="#40b040" stroke-width="0.8"/><path d="M36.1 344.67H38.9M37.5 343.27V346.07" stroke="#40b040" stroke-width="0.8"/><path d="M36.47 340.69H39.27M37.87 339.29V342.09" stroke="#40b040" stroke-width="0.8"/><path d="M36.89 336.7H39.69M38.29 335.3V338.1" stroke="#40b040" stroke-width="0.8"/><path d="M37.57 332.67H40.37M38.97 331.27V334.07" stroke="#40b040" stroke-width="0.8"/><path d="M38.26 328.65H41.06M39.66 327.25V330.05" stroke="#40b040" stroke-width="0.8"/><path d="M39.4 324.75H42.2M40.8 323.35V326.15" stroke="#40b040" stroke-width="0.8"/><path d="M44.2 316H47M45.6 314.6V317.4" stroke="#40b040" stroke-width="0.8"/><path d="M53.04 320.61H55.84M54.44 319.21V322.01" stroke="#40b040" stroke-width="0.8"/><path d="M58.79 329.09H61.59M60.19 327.69V330.49" stroke="#40b040" stroke-width="0.8"/><path d="M62.5 334.3H65.3M63.9 332.9V335.7" stroke="#40b040" stroke-width="0.8"/>
<path d="M220.5 321H223.3M221.9 319.6V322.4" stroke="#40b040" stroke-width="0.8"/><path d="M212.34 321.91H215.14M213.74 320.51V323.31" stroke="#40b040" stroke-width="0.8"/><path d="M204.24 323.11H207.04M205.64 321.71V324.51" stroke="#40b040" stroke-width="0.8"/><path d="M196.11 324.23H198.91M197.51 322.83V325.63" stroke="#40b040" stroke-width="0.8"/><path d="M188.1 325.88H190.9M189.5 324.48V327.28" stroke="#40b040" stroke-width="0.8"/>
<path d="M34.3 397.3H37.1M35.7 395.9V398.7" stroke="#40b040" stroke-width="0.8"/><path d="M39.16 388.64H41.96M40.56 387.24V390.04" stroke="#40b040" stroke-width="0.8"/><path d="M46.51 381.82H49.31M47.91 380.42V383.22" stroke="#40b040" stroke-width="0.8"/><path d="M54.72 376.02H57.52M56.12 374.62V377.42" stroke="#40b040" stroke-width="0.8"/><path d="M63.85 371.76H66.65M65.25 370.36V373.16" stroke="#40b040" stroke-width="0.8"/><path d="M73.55 368.89H76.35M74.95 367.49V370.29" stroke="#40b040" stroke-width="0.8"/><path d="M83.55 367.04H86.35M84.95 365.64V368.44" stroke="#40b040" stroke-width="0.8"/><path d="M93.64 366.11H96.44M95.04 364.71V367.51" stroke="#40b040" stroke-width="0.8"/><path d="M103.75 365.6H106.55M105.15 364.2V367" stroke="#40b040" stroke-width="0.8"/><path d="M113.85 365.68H116.65M115.25 364.28V367.08" stroke="#40b040" stroke-width="0.8"/><path d="M123.85 366.72H126.65M125.25 365.32V368.12" stroke="#40b040" stroke-width="0.8"/><path d="M133.66 368.84H136.46M135.06 367.44V370.24" stroke="#40b040" stroke-width="0.8"/><path d="M143.44 371.15H146.24M144.84 369.75V372.55" stroke="#40b040" stroke-width="0.8"/><path d="M153.15 373.9H155.95M154.55 372.5V375.3" stroke="#40b040" stroke-width="0.8"/><path d="M162.64 377.29H165.44M164.04 375.89V378.69" stroke="#40b040" stroke-width="0.8"/><path d="M172.04 380.99H174.84M173.44 379.59V382.39" stroke="#40b040" stroke-width="0.8"/><path d="M181.45 384.84H184.25M182.85 383.44V386.24" stroke="#40b040" stroke-width="0.8"/><path d="M190.6 389.01H193.4M192 387.61V390.41" stroke="#40b040" stroke-width="0.8"/><path d="M199.79 393.1H202.59M201.19 391.7V394.5" stroke="#40b040" stroke-width="0.8"/><path d="M209.2 396.8H212M210.6 395.4V398.2" stroke="#40b040" stroke-width="0.8"/><path d="M218.22 401.31H221.02M219.62 399.91V402.71" stroke="#40b040" stroke-width="0.8"/>
<path d="M34.3 397.3H37.1M35.7 395.9V398.7" stroke="#40b040" stroke-width="0.8"/><path d="M35.68 405.22H38.48M37.08 403.82V406.62" stroke="#40b040" stroke-width="0.8"/><path d="M40.78 411.15H43.58M42.18 409.75V412.55" stroke="#40b040" stroke-width="0.8"/><path d="M48.32 414.27H51.12M49.72 412.87V415.67" stroke="#40b040" stroke-width="0.8"/><path d="M56.39 415H59.19M57.79 413.6V416.4" stroke="#40b040" stroke-width="0.8"/><path d="M62.2 414.2H65M63.6 412.8V415.6" stroke="#40b040" stroke-width="0.8"/>
<path d="M185.9 401.1H188.7M187.3 399.7V402.5" stroke="#40b040" stroke-width="0.8"/><path d="M193.98 401.56H196.78M195.38 400.16V402.96" stroke="#40b040" stroke-width="0.8"/><path d="M202.05 402.01H204.85M203.45 400.61V403.41" stroke="#40b040" stroke-width="0.8"/><path d="M210.1 402.3H212.9M211.5 400.9V403.7" stroke="#40b040" stroke-width="0.8"/><path d="M218.22 402.18H221.03M219.62 400.78V403.57" stroke="#40b040" stroke-width="0.8"/>
<path d="M35.6 368.7L35.6 350L36 330L38.4 316.2L40.1 304.6L41.8 297.7L45.3 292.5L49.9 290.2L55.7 288.5L62.6 286.2L70.7 283.8L78.8 281.5L86.8 280.4L95.3 281.2L104.9 282.6L112.6 284.5L118.4 288.3L124.2 290.3L128 289.3L132.3 287.2L138.7 286.8L147.2 290.4L155.6 294.6L164.1 297.3L172.5 299.5L179.5 301.4L188.9 303.5L199.6 306.2L209.1 309.9L217.1 314.9L221.9 320.3" fill="none" stroke="#3a34c0" stroke-width="1.5" stroke-linejoin="round" stroke-linecap="round"/>
<path d="M35.6 368.7L37.1 348.9L38.2 337.2L39.7 328.4L41.9 321.1L45.6 316L50 318.2L54.3 320.4L58.7 327L63.9 334.3" fill="none" stroke="#3a34c0" stroke-width="1.5" stroke-linejoin="round" stroke-linecap="round"/>
<path d="M221.9 321L214.5 321.2L206.4 321.9L197 322.3L187.5 323" fill="none" stroke="#3a34c0" stroke-width="1.5" stroke-linejoin="round" stroke-linecap="round"/>
<path d="M35.7 397.3L38.6 391.2L43.4 386.7L51.1 381L60.7 376.5L72.2 374.2L85.7 373.7L101.1 373.7L114.5 373.8L126 374.8L142.9 377.4L157.7 381.2L172.5 385.8L185.2 389.7L197.9 393.9L210.6 398.1L221.2 402.1" fill="none" stroke="#3a34c0" stroke-width="1.5" stroke-linejoin="round" stroke-linecap="round"/>
<path d="M35.7 397.3L36.1 402.1L37.6 406.9L41.5 410.8L47.2 413.7L53 415L58.8 415L63.6 414.2" fill="none" stroke="#3a34c0" stroke-width="1.5" stroke-linejoin="round" stroke-linecap="round"/>
<path d="M187.3 401.1L197.9 401.7L208.5 402.3L217 402.3L221.2 402.1" fill="none" stroke="#3a34c0" stroke-width="1.5" stroke-linejoin="round" stroke-linecap="round"/>
<circle cx="35.6" cy="368.7" r="1.75" fill="#3c3496"/><circle cx="35.6" cy="364.66" r="1.75" fill="#3c3496"/><circle cx="35.6" cy="360.61" r="1.75" fill="#3c3496"/><circle cx="35.6" cy="356.57" r="1.75" fill="#3c3496"/><circle cx="35.6" cy="352.53" r="1.75" fill="#3c3496"/><circle cx="35.63" cy="348.5" r="1.75" fill="#3c3496"/><circle cx="35.71" cy="344.5" r="1.75" fill="#3c3496"/><circle cx="35.79" cy="340.5" r="1.75" fill="#3c3496"/><circle cx="35.87" cy="336.5" r="1.75" fill="#3c3496"/><circle cx="35.95" cy="332.5" r="1.75" fill="#3c3496"/><circle cx="36.26" cy="328.52" r="1.75" fill="#3c3496"/><circle cx="36.94" cy="324.58" r="1.75" fill="#3c3496"/><circle cx="37.63" cy="320.64" r="1.75" fill="#3c3496"/><circle cx="38.31" cy="316.69" r="1.75" fill="#3c3496"/><circle cx="38.92" cy="312.67" r="1.75" fill="#3c3496"/><circle cx="40.59" cy="302.63" r="1.75" fill="#3c3496"/><circle cx="44.6" cy="293.54" r="1.75" fill="#3c3496"/><circle cx="53.52" cy="289.14" r="1.75" fill="#3c3496"/><circle cx="63.09" cy="286.05" r="1.75" fill="#3c3496"/><circle cx="72.91" cy="283.17" r="1.75" fill="#3c3496"/><circle cx="82.8" cy="280.95" r="1.75" fill="#3c3496"/><circle cx="92.8" cy="280.96" r="1.75" fill="#3c3496"/><circle cx="102.88" cy="282.31" r="1.75" fill="#3c3496"/><circle cx="112.81" cy="284.64" r="1.75" fill="#3c3496"/><circle cx="121.54" cy="289.38" r="1.75" fill="#3c3496"/><circle cx="130.94" cy="287.86" r="1.75" fill="#3c3496"/><circle cx="140.82" cy="287.7" r="1.75" fill="#3c3496"/><circle cx="150.15" cy="291.88" r="1.75" fill="#3c3496"/><circle cx="159.49" cy="295.83" r="1.75" fill="#3c3496"/><circle cx="169.29" cy="298.66" r="1.75" fill="#3c3496"/><circle cx="179.02" cy="301.27" r="1.75" fill="#3c3496"/><circle cx="188.9" cy="303.5" r="1.75" fill="#3c3496"/><circle cx="198.63" cy="305.95" r="1.75" fill="#3c3496"/><circle cx="208.15" cy="309.53" r="1.75" fill="#3c3496"/><circle cx="216.88" cy="314.76" r="1.75" fill="#3c3496"/><circle cx="221.9" cy="320.3" r="1.75" fill="#3c3496"/>
<circle cx="35.6" cy="368.7" r="1.75" fill="#3c3496"/><circle cx="35.9" cy="364.69" r="1.75" fill="#3c3496"/><circle cx="36.21" cy="360.68" r="1.75" fill="#3c3496"/><circle cx="36.51" cy="356.67" r="1.75" fill="#3c3496"/><circle cx="36.82" cy="352.66" r="1.75" fill="#3c3496"/><circle cx="37.12" cy="348.65" r="1.75" fill="#3c3496"/><circle cx="37.5" cy="344.67" r="1.75" fill="#3c3496"/><circle cx="37.87" cy="340.69" r="1.75" fill="#3c3496"/><circle cx="38.29" cy="336.7" r="1.75" fill="#3c3496"/><circle cx="38.97" cy="332.67" r="1.75" fill="#3c3496"/><circle cx="39.66" cy="328.65" r="1.75" fill="#3c3496"/><circle cx="40.8" cy="324.75" r="1.75" fill="#3c3496"/><circle cx="45.6" cy="316" r="1.75" fill="#3c3496"/><circle cx="54.44" cy="320.61" r="1.75" fill="#3c3496"/><circle cx="60.19" cy="329.09" r="1.75" fill="#3c3496"/><circle cx="63.9" cy="334.3" r="1.75" fill="#3c3496"/>
<circle cx="221.9" cy="321" r="1.75" fill="#3c3496"/><circle cx="213.74" cy="321.27" r="1.75" fill="#3c3496"/><circle cx="205.64" cy="321.93" r="1.75" fill="#3c3496"/><circle cx="197.51" cy="322.28" r="1.75" fill="#3c3496"/><circle cx="189.5" cy="322.85" r="1.75" fill="#3c3496"/>
<circle cx="35.7" cy="397.3" r="1.75" fill="#3c3496"/><circle cx="41" cy="388.95" r="1.75" fill="#3c3496"/><circle cx="48.87" cy="382.65" r="1.75" fill="#3c3496"/><circle cx="57.73" cy="377.89" r="1.75" fill="#3c3496"/><circle cx="67.45" cy="375.15" r="1.75" fill="#3c3496"/><circle cx="77.45" cy="374.01" r="1.75" fill="#3c3496"/><circle cx="87.47" cy="373.7" r="1.75" fill="#3c3496"/><circle cx="97.57" cy="373.7" r="1.75" fill="#3c3496"/><circle cx="107.67" cy="373.75" r="1.75" fill="#3c3496"/><circle cx="117.75" cy="374.08" r="1.75" fill="#3c3496"/><circle cx="127.74" cy="375.07" r="1.75" fill="#3c3496"/><circle cx="137.68" cy="376.6" r="1.75" fill="#3c3496"/><circle cx="147.51" cy="378.58" r="1.75" fill="#3c3496"/><circle cx="157.21" cy="381.08" r="1.75" fill="#3c3496"/><circle cx="166.92" cy="384.07" r="1.75" fill="#3c3496"/><circle cx="176.57" cy="387.05" r="1.75" fill="#3c3496"/><circle cx="186.16" cy="390.02" r="1.75" fill="#3c3496"/><circle cx="195.74" cy="393.19" r="1.75" fill="#3c3496"/><circle cx="205.33" cy="396.36" r="1.75" fill="#3c3496"/><circle cx="214.84" cy="399.7" r="1.75" fill="#3c3496"/><circle cx="221.2" cy="402.1" r="1.75" fill="#3c3496"/>
<circle cx="35.7" cy="397.3" r="1.75" fill="#3c3496"/><circle cx="37.08" cy="405.22" r="1.75" fill="#3c3496"/><circle cx="42.18" cy="411.15" r="1.75" fill="#3c3496"/><circle cx="49.72" cy="414.27" r="1.75" fill="#3c3496"/><circle cx="57.79" cy="415" r="1.75" fill="#3c3496"/><circle cx="63.6" cy="414.2" r="1.75" fill="#3c3496"/>
<circle cx="187.3" cy="401.1" r="1.75" fill="#3c3496"/><circle cx="195.38" cy="401.56" r="1.75" fill="#3c3496"/><circle cx="203.45" cy="402.01" r="1.75" fill="#3c3496"/><circle cx="211.5" cy="402.3" r="1.75" fill="#3c3496"/><circle cx="219.62" cy="402.18" r="1.75" fill="#3c3496"/>
<path d="M53.3 402.2H89.1" stroke="#444444" stroke-width="1.5"/>
<rect x="69.9" y="400.9" width="2.6" height="2.6" fill="#707070" stroke="#2a2a2a" stroke-width="0.75"/>
<text x="95.5" y="405" class="lg">Isolated Nac, Config1, 180°</text>
<path d="M53.3 411.8H89.1" stroke="#c23e50" stroke-width="1.35"/>
<path d="M69.9 410.89H72.5L71.2 413.1Z" fill="none" stroke="#c23e50" stroke-width="0.7"/>
<text x="95.5" y="414.6" class="lg">Isolated Nac, Config2, 180°</text>
<path d="M53.3 421.4H89.1" stroke="#40b040" stroke-width="1.25"/>
<path d="M69.8 421.4H72.6M71.2 420V422.8" stroke="#40b040" stroke-width="0.8"/>
<text x="95.5" y="424.2" class="lg">Isolated Nac, Config3, 180°</text>
<path d="M53.3 431H89.1" stroke="#3a34c0" stroke-width="1.5"/>
<circle cx="71.2" cy="431" r="1.75" fill="#3c3496"/>
<text x="95.5" y="433.8" class="lg">Isolated Nac, Config4, 180°</text>
<path d="M292.6 257.2h4.2M292.6 309.1h4.2M292.6 361h4.2M292.6 412.9h4.2M301.7 438.6v-4.2M339.06 438.6v-4.2M376.42 438.6v-4.2M413.78 438.6v-4.2M451.14 438.6v-4.2M488.5 438.6v-4.2M498.2 283.15h-4.2M498.2 322.07h-4.2M498.2 361h-4.2M498.2 399.92h-4.2" stroke="#333" stroke-width="1.1" fill="none"/>
<path d="M292.6 246.82h2.2M292.6 267.58h2.2M292.6 277.96h2.2M292.6 288.34h2.2M292.6 298.72h2.2M292.6 319.48h2.2M292.6 329.86h2.2M292.6 340.24h2.2M292.6 350.62h2.2M292.6 371.38h2.2M292.6 381.76h2.2M292.6 392.14h2.2M292.6 402.52h2.2M292.6 423.28h2.2M292.6 433.66h2.2M311.04 438.6v-2.2M320.38 438.6v-2.2M329.72 438.6v-2.2M348.4 438.6v-2.2M357.74 438.6v-2.2M367.08 438.6v-2.2M385.76 438.6v-2.2M395.1 438.6v-2.2M404.44 438.6v-2.2M423.12 438.6v-2.2M432.46 438.6v-2.2M441.8 438.6v-2.2M460.48 438.6v-2.2M469.82 438.6v-2.2M479.16 438.6v-2.2M498.2 252.01h-2.2M498.2 259.8h-2.2M498.2 267.58h-2.2M498.2 275.37h-2.2M498.2 290.94h-2.2M498.2 298.72h-2.2M498.2 306.5h-2.2M498.2 314.29h-2.2M498.2 329.86h-2.2M498.2 337.64h-2.2M498.2 345.43h-2.2M498.2 353.21h-2.2M498.2 368.78h-2.2M498.2 376.57h-2.2M498.2 384.36h-2.2M498.2 392.14h-2.2M498.2 407.71h-2.2M498.2 415.5h-2.2M498.2 423.28h-2.2M498.2 431.06h-2.2" stroke="#888" stroke-width="0.9" fill="none"/>
<rect x="292.6" y="244.4" width="205.6" height="194.2" fill="none" stroke="#333" stroke-width="1.3"/>
<text x="289.7" y="260.4" text-anchor="end" class="tk">-1</text>
<text x="289.7" y="312.3" text-anchor="end" class="tk">0</text>
<text x="289.7" y="364.2" text-anchor="end" class="tk">1</text>
<text x="289.7" y="416.1" text-anchor="end" class="tk">2</text>
<text x="301.7" y="447.2" text-anchor="middle" class="tk">0</text>
<text x="339.06" y="447.2" text-anchor="middle" class="tk">0.2</text>
<text x="376.42" y="447.2" text-anchor="middle" class="tk">0.4</text>
<text x="413.78" y="447.2" text-anchor="middle" class="tk">0.6</text>
<text x="451.14" y="447.2" text-anchor="middle" class="tk">0.8</text>
<text x="488.5" y="447.2" text-anchor="middle" class="tk">1</text>
<text transform="translate(274.3 341.7) rotate(-90)" text-anchor="middle" class="ti" font-size="10.5">Cp</text>
<text transform="translate(511.8 340.8) rotate(-90)" text-anchor="middle" class="ti"><tspan font-size="11.5">Y</tspan><tspan font-size="8.5" dy="3.5" dx="0.3">foil</tspan></text>
<text x="396" y="458" text-anchor="middle" class="ti"><tspan font-size="12">X/C</tspan><tspan font-size="7" dy="3.4">local</tspan></text>
<text x="393.2" y="474.4" text-anchor="middle" class="lb">(d)</text>
<path d="M302.1 370.9L302 350L302.1 330L302.2 314.3L302.2 293.2L303 277.8L304 270.1L305.2 267.5L306.5 268.8L308.2 271.7L310 276L312.4 280.2L314.3 281.4L317 280.6L322.2 279.6L329.5 279L335.5 279L341.6 280.8L346.8 281.6L352.6 283.5L356.5 287.4L362.2 290.8L369.9 290.3L377.6 290.8L385.3 292.8L393 293.2L402.7 294L415.4 294.6L430.2 295.5L438.1 295.7L448.8 297.4L456.9 299.4L465 302.8L473.1 306.8L481.1 311.5L486.5 316.2L488.5 320.3" fill="none" stroke="#444444" stroke-width="1.5" stroke-linejoin="round" stroke-linecap="round"/>
<path d="M302.1 370.9L303.5 353.3L305 341.6L306.5 332.8L307.6 325.5L310.6 318.2L315 321.8L320.8 327L328.9 335" fill="none" stroke="#444444" stroke-width="1.5" stroke-linejoin="round" stroke-linecap="round"/>
<path d="M487.9 322.3L479.8 324.6L470.4 326.2L462.3 327.7L456.9 331L454.2 334.4" fill="none" stroke="#444444" stroke-width="1.5" stroke-linejoin="round" stroke-linecap="round"/>
<path d="M301.1 398.3L302.6 393.5L306.5 389.6L312.2 385.8L321.8 381.9L331.5 379L341.1 377.5L350.7 376.2L360.3 375.2L369.9 375.2L379.5 375.6L390 376.3L402.7 377.8L417.5 379.9L432.3 382.7L445 385.8L457.7 390.1L470.4 395.4L481 399.6L487.3 402.8" fill="none" stroke="#444444" stroke-width="1.5" stroke-linejoin="round" stroke-linecap="round"/>
<path d="M301.1 398.3L301.7 403.1L303.6 406.9L307.4 410.4L313.2 412.3L319.9 412.3L328.6 411.2" fill="none" stroke="#444444" stroke-width="1.5" stroke-linejoin="round" stroke-linecap="round"/>
<path d="M453.5 398.5L466.2 399.6L476.7 401.1L484.1 401.7L487.3 402.8" fill="none" stroke="#444444" stroke-width="1.5" stroke-linejoin="round" stroke-linecap="round"/>
<rect x="300.8" y="369.6" width="2.6" height="2.6" fill="#707070" stroke="#2a2a2a" stroke-width="0.75"/><rect x="300.78" y="365.57" width="2.6" height="2.6" fill="#707070" stroke="#2a2a2a" stroke-width="0.75"/><rect x="300.76" y="361.54" width="2.6" height="2.6" fill="#707070" stroke="#2a2a2a" stroke-width="0.75"/><rect x="300.74" y="357.51" width="2.6" height="2.6" fill="#707070" stroke="#2a2a2a" stroke-width="0.75"/><rect x="300.72" y="353.48" width="2.6" height="2.6" fill="#707070" stroke="#2a2a2a" stroke-width="0.75"/><rect x="300.7" y="349.46" width="2.6" height="2.6" fill="#707070" stroke="#2a2a2a" stroke-width="0.75"/><rect x="300.72" y="345.45" width="2.6" height="2.6" fill="#707070" stroke="#2a2a2a" stroke-width="0.75"/><rect x="300.74" y="341.45" width="2.6" height="2.6" fill="#707070" stroke="#2a2a2a" stroke-width="0.75"/><rect x="300.76" y="337.45" width="2.6" height="2.6" fill="#707070" stroke="#2a2a2a" stroke-width="0.75"/><rect x="300.78" y="333.45" width="2.6" height="2.6" fill="#707070" stroke="#2a2a2a" stroke-width="0.75"/><rect x="300.8" y="329.45" width="2.6" height="2.6" fill="#707070" stroke="#2a2a2a" stroke-width="0.75"/><rect x="300.82" y="325.41" width="2.6" height="2.6" fill="#707070" stroke="#2a2a2a" stroke-width="0.75"/><rect x="300.85" y="321.36" width="2.6" height="2.6" fill="#707070" stroke="#2a2a2a" stroke-width="0.75"/><rect x="300.87" y="317.3" width="2.6" height="2.6" fill="#707070" stroke="#2a2a2a" stroke-width="0.75"/><rect x="300.9" y="313.25" width="2.6" height="2.6" fill="#707070" stroke="#2a2a2a" stroke-width="0.75"/><rect x="300.9" y="309.23" width="2.6" height="2.6" fill="#707070" stroke="#2a2a2a" stroke-width="0.75"/><rect x="300.9" y="299.18" width="2.6" height="2.6" fill="#707070" stroke="#2a2a2a" stroke-width="0.75"/><rect x="301.04" y="289.12" width="2.6" height="2.6" fill="#707070" stroke="#2a2a2a" stroke-width="0.75"/><rect x="301.57" y="279.02" width="2.6" height="2.6" fill="#707070" stroke="#2a2a2a" stroke-width="0.75"/><rect x="302.67" y="269.05" width="2.6" height="2.6" fill="#707070" stroke="#2a2a2a" stroke-width="0.75"/><rect x="307.6" y="272.07" width="2.6" height="2.6" fill="#707070" stroke="#2a2a2a" stroke-width="0.75"/><rect x="313.25" y="280.03" width="2.6" height="2.6" fill="#707070" stroke="#2a2a2a" stroke-width="0.75"/><rect x="323.17" y="278.11" width="2.6" height="2.6" fill="#707070" stroke="#2a2a2a" stroke-width="0.75"/><rect x="333.2" y="277.7" width="2.6" height="2.6" fill="#707070" stroke="#2a2a2a" stroke-width="0.75"/><rect x="343.02" y="279.92" width="2.6" height="2.6" fill="#707070" stroke="#2a2a2a" stroke-width="0.75"/><rect x="352.36" y="283.26" width="2.6" height="2.6" fill="#707070" stroke="#2a2a2a" stroke-width="0.75"/><rect x="360.46" y="289.24" width="2.6" height="2.6" fill="#707070" stroke="#2a2a2a" stroke-width="0.75"/><rect x="370.4" y="289.12" width="2.6" height="2.6" fill="#707070" stroke="#2a2a2a" stroke-width="0.75"/><rect x="380.27" y="290.53" width="2.6" height="2.6" fill="#707070" stroke="#2a2a2a" stroke-width="0.75"/><rect x="390.16" y="291.82" width="2.6" height="2.6" fill="#707070" stroke="#2a2a2a" stroke-width="0.75"/><rect x="400.38" y="292.62" width="2.6" height="2.6" fill="#707070" stroke="#2a2a2a" stroke-width="0.75"/><rect x="410.54" y="293.13" width="2.6" height="2.6" fill="#707070" stroke="#2a2a2a" stroke-width="0.75"/><rect x="420.62" y="293.7" width="2.6" height="2.6" fill="#707070" stroke="#2a2a2a" stroke-width="0.75"/><rect x="430.68" y="294.25" width="2.6" height="2.6" fill="#707070" stroke="#2a2a2a" stroke-width="0.75"/><rect x="440.78" y="295.03" width="2.6" height="2.6" fill="#707070" stroke="#2a2a2a" stroke-width="0.75"/><rect x="450.69" y="296.89" width="2.6" height="2.6" fill="#707070" stroke="#2a2a2a" stroke-width="0.75"/><rect x="460.23" y="300.04" width="2.6" height="2.6" fill="#707070" stroke="#2a2a2a" stroke-width="0.75"/><rect x="469.32" y="304.28" width="2.6" height="2.6" fill="#707070" stroke="#2a2a2a" stroke-width="0.75"/><rect x="478.07" y="309.18" width="2.6" height="2.6" fill="#707070" stroke="#2a2a2a" stroke-width="0.75"/><rect x="485.64" y="315.81" width="2.6" height="2.6" fill="#707070" stroke="#2a2a2a" stroke-width="0.75"/>
<rect x="300.8" y="369.6" width="2.6" height="2.6" fill="#707070" stroke="#2a2a2a" stroke-width="0.75"/><rect x="301.12" y="365.58" width="2.6" height="2.6" fill="#707070" stroke="#2a2a2a" stroke-width="0.75"/><rect x="301.44" y="361.55" width="2.6" height="2.6" fill="#707070" stroke="#2a2a2a" stroke-width="0.75"/><rect x="301.76" y="357.53" width="2.6" height="2.6" fill="#707070" stroke="#2a2a2a" stroke-width="0.75"/><rect x="302.08" y="353.51" width="2.6" height="2.6" fill="#707070" stroke="#2a2a2a" stroke-width="0.75"/><rect x="302.52" y="349.51" width="2.6" height="2.6" fill="#707070" stroke="#2a2a2a" stroke-width="0.75"/><rect x="303.03" y="345.53" width="2.6" height="2.6" fill="#707070" stroke="#2a2a2a" stroke-width="0.75"/><rect x="303.54" y="341.54" width="2.6" height="2.6" fill="#707070" stroke="#2a2a2a" stroke-width="0.75"/><rect x="304.17" y="337.53" width="2.6" height="2.6" fill="#707070" stroke="#2a2a2a" stroke-width="0.75"/><rect x="304.86" y="333.51" width="2.6" height="2.6" fill="#707070" stroke="#2a2a2a" stroke-width="0.75"/><rect x="305.5" y="329.49" width="2.6" height="2.6" fill="#707070" stroke="#2a2a2a" stroke-width="0.75"/><rect x="306.11" y="325.46" width="2.6" height="2.6" fill="#707070" stroke="#2a2a2a" stroke-width="0.75"/><rect x="310.1" y="317.55" width="2.6" height="2.6" fill="#707070" stroke="#2a2a2a" stroke-width="0.75"/><rect x="317.82" y="324.19" width="2.6" height="2.6" fill="#707070" stroke="#2a2a2a" stroke-width="0.75"/><rect x="325.08" y="331.21" width="2.6" height="2.6" fill="#707070" stroke="#2a2a2a" stroke-width="0.75"/>
<rect x="486.6" y="321" width="2.6" height="2.6" fill="#707070" stroke="#2a2a2a" stroke-width="0.75"/><rect x="478.75" y="323.23" width="2.6" height="2.6" fill="#707070" stroke="#2a2a2a" stroke-width="0.75"/><rect x="470.83" y="324.61" width="2.6" height="2.6" fill="#707070" stroke="#2a2a2a" stroke-width="0.75"/><rect x="462.77" y="326.07" width="2.6" height="2.6" fill="#707070" stroke="#2a2a2a" stroke-width="0.75"/><rect x="455.6" y="329.7" width="2.6" height="2.6" fill="#707070" stroke="#2a2a2a" stroke-width="0.75"/><rect x="452.9" y="333.1" width="2.6" height="2.6" fill="#707070" stroke="#2a2a2a" stroke-width="0.75"/>
<rect x="299.8" y="397" width="2.6" height="2.6" fill="#707070" stroke="#2a2a2a" stroke-width="0.75"/><rect x="304.85" y="388.65" width="2.6" height="2.6" fill="#707070" stroke="#2a2a2a" stroke-width="0.75"/><rect x="313.48" y="383.45" width="2.6" height="2.6" fill="#707070" stroke="#2a2a2a" stroke-width="0.75"/><rect x="322.93" y="379.87" width="2.6" height="2.6" fill="#707070" stroke="#2a2a2a" stroke-width="0.75"/><rect x="332.73" y="377.31" width="2.6" height="2.6" fill="#707070" stroke="#2a2a2a" stroke-width="0.75"/><rect x="342.83" y="375.79" width="2.6" height="2.6" fill="#707070" stroke="#2a2a2a" stroke-width="0.75"/><rect x="352.94" y="374.53" width="2.6" height="2.6" fill="#707070" stroke="#2a2a2a" stroke-width="0.75"/><rect x="363.04" y="373.9" width="2.6" height="2.6" fill="#707070" stroke="#2a2a2a" stroke-width="0.75"/><rect x="373.15" y="374.09" width="2.6" height="2.6" fill="#707070" stroke="#2a2a2a" stroke-width="0.75"/><rect x="383.2" y="374.63" width="2.6" height="2.6" fill="#707070" stroke="#2a2a2a" stroke-width="0.75"/><rect x="393.18" y="375.53" width="2.6" height="2.6" fill="#707070" stroke="#2a2a2a" stroke-width="0.75"/><rect x="403.16" y="376.75" width="2.6" height="2.6" fill="#707070" stroke="#2a2a2a" stroke-width="0.75"/><rect x="413.19" y="378.17" width="2.6" height="2.6" fill="#707070" stroke="#2a2a2a" stroke-width="0.75"/><rect x="423.11" y="379.91" width="2.6" height="2.6" fill="#707070" stroke="#2a2a2a" stroke-width="0.75"/><rect x="432.95" y="381.88" width="2.6" height="2.6" fill="#707070" stroke="#2a2a2a" stroke-width="0.75"/><rect x="442.72" y="384.26" width="2.6" height="2.6" fill="#707070" stroke="#2a2a2a" stroke-width="0.75"/><rect x="452.33" y="387.42" width="2.6" height="2.6" fill="#707070" stroke="#2a2a2a" stroke-width="0.75"/><rect x="461.71" y="391.02" width="2.6" height="2.6" fill="#707070" stroke="#2a2a2a" stroke-width="0.75"/><rect x="470.98" y="394.85" width="2.6" height="2.6" fill="#707070" stroke="#2a2a2a" stroke-width="0.75"/><rect x="480.38" y="398.64" width="2.6" height="2.6" fill="#707070" stroke="#2a2a2a" stroke-width="0.75"/><rect x="486" y="401.5" width="2.6" height="2.6" fill="#707070" stroke="#2a2a2a" stroke-width="0.75"/>
<rect x="299.8" y="397" width="2.6" height="2.6" fill="#707070" stroke="#2a2a2a" stroke-width="0.75"/><rect x="301.82" y="404.65" width="2.6" height="2.6" fill="#707070" stroke="#2a2a2a" stroke-width="0.75"/><rect x="307.79" y="409.65" width="2.6" height="2.6" fill="#707070" stroke="#2a2a2a" stroke-width="0.75"/><rect x="315.77" y="411" width="2.6" height="2.6" fill="#707070" stroke="#2a2a2a" stroke-width="0.75"/><rect x="323.82" y="410.34" width="2.6" height="2.6" fill="#707070" stroke="#2a2a2a" stroke-width="0.75"/><rect x="327.3" y="409.9" width="2.6" height="2.6" fill="#707070" stroke="#2a2a2a" stroke-width="0.75"/>
<rect x="452.2" y="397.2" width="2.6" height="2.6" fill="#707070" stroke="#2a2a2a" stroke-width="0.75"/><rect x="460.33" y="397.9" width="2.6" height="2.6" fill="#707070" stroke="#2a2a2a" stroke-width="0.75"/><rect x="468.4" y="398.8" width="2.6" height="2.6" fill="#707070" stroke="#2a2a2a" stroke-width="0.75"/><rect x="476.42" y="399.88" width="2.6" height="2.6" fill="#707070" stroke="#2a2a2a" stroke-width="0.75"/><rect x="484.52" y="400.99" width="2.6" height="2.6" fill="#707070" stroke="#2a2a2a" stroke-width="0.75"/>
<path d="M302.1 370.9L302.1 350L302.2 325L302.6 310.5L306.5 297L310.3 288.3L314.2 281.6L318 277.8L323.8 274.9L331.5 273L343 271.6L354.5 270.5L366.1 269.1L375.7 267.8L381.5 270.1L385.3 277.8L389.2 287.4L393.2 291.4L396.3 297.3L402.7 297.8L410.1 298.2L421.7 298.2L432.3 299.9L438.1 300L448.8 302.8L456.9 305.5L465 308.2L473.1 311.5L481.1 315.6L487.9 321.6" fill="none" stroke="#c23e50" stroke-width="1.35" stroke-linejoin="round" stroke-linecap="round"/>
<path d="M302.1 370.9L303.5 353.3L305 341.6L306.5 332.8L307.6 325.5L310.6 318.2L315 321.8L320.8 327L328.9 335" fill="none" stroke="#c23e50" stroke-width="1.35" stroke-linejoin="round" stroke-linecap="round"/>
<path d="M487.9 322.3L479.8 324.3L470.4 325.7L462.3 326.3L456.9 328.4L454.2 330.4" fill="none" stroke="#c23e50" stroke-width="1.35" stroke-linejoin="round" stroke-linecap="round"/>
<path d="M301.1 398.3L302.6 392.5L306.5 386.7L312.2 381L319.9 375.8L329.5 371.3L339.2 368.5L350.7 365.6L362.2 365.6L373.8 366.5L385.3 367.5L393 368.8L402.7 370.6L417.5 373.8L432.3 378.4L445 383.7L457.7 388.4L470.4 393.9L481 399L487.3 402.8" fill="none" stroke="#c23e50" stroke-width="1.35" stroke-linejoin="round" stroke-linecap="round"/>
<path d="M301.1 398.3L301.7 403.1L303.6 406.9L307.4 410.4L313.2 412.3L319.9 412.3L328.6 411.2" fill="none" stroke="#c23e50" stroke-width="1.35" stroke-linejoin="round" stroke-linecap="round"/>
<path d="M453.5 398.5L466.2 399.6L476.7 401.1L484.1 401.7L487.3 402.8" fill="none" stroke="#c23e50" stroke-width="1.35" stroke-linejoin="round" stroke-linecap="round"/>
<path d="M300.8 369.99H303.4L302.1 372.2Z" fill="none" stroke="#c23e50" stroke-width="0.7"/><path d="M300.8 365.96H303.4L302.1 368.17Z" fill="none" stroke="#c23e50" stroke-width="0.7"/><path d="M300.8 361.93H303.4L302.1 364.14Z" fill="none" stroke="#c23e50" stroke-width="0.7"/><path d="M300.8 357.9H303.4L302.1 360.11Z" fill="none" stroke="#c23e50" stroke-width="0.7"/><path d="M300.8 353.87H303.4L302.1 356.08Z" fill="none" stroke="#c23e50" stroke-width="0.7"/><path d="M300.8 349.85H303.4L302.1 352.06Z" fill="none" stroke="#c23e50" stroke-width="0.7"/><path d="M300.81 345.84H303.41L302.11 348.05Z" fill="none" stroke="#c23e50" stroke-width="0.7"/><path d="M300.83 341.84H303.43L302.13 344.05Z" fill="none" stroke="#c23e50" stroke-width="0.7"/><path d="M300.84 337.84H303.44L302.14 340.05Z" fill="none" stroke="#c23e50" stroke-width="0.7"/><path d="M300.86 333.84H303.46L302.16 336.05Z" fill="none" stroke="#c23e50" stroke-width="0.7"/><path d="M300.88 329.84H303.48L302.18 332.05Z" fill="none" stroke="#c23e50" stroke-width="0.7"/><path d="M300.89 325.84H303.49L302.19 328.05Z" fill="none" stroke="#c23e50" stroke-width="0.7"/><path d="M300.96 321.84H303.56L302.26 324.05Z" fill="none" stroke="#c23e50" stroke-width="0.7"/><path d="M301.07 317.84H303.67L302.37 320.05Z" fill="none" stroke="#c23e50" stroke-width="0.7"/><path d="M301.18 313.84H303.78L302.48 316.05Z" fill="none" stroke="#c23e50" stroke-width="0.7"/><path d="M301.29 309.84H303.89L302.59 312.05Z" fill="none" stroke="#c23e50" stroke-width="0.7"/><path d="M304.02 300.19H306.62L305.32 302.4Z" fill="none" stroke="#c23e50" stroke-width="0.7"/><path d="M307.56 290.68H310.16L308.86 292.89Z" fill="none" stroke="#c23e50" stroke-width="0.7"/><path d="M312.27 281.77H314.87L313.57 283.98Z" fill="none" stroke="#c23e50" stroke-width="0.7"/><path d="M319.95 275.27H322.55L321.25 277.48Z" fill="none" stroke="#c23e50" stroke-width="0.7"/><path d="M329.45 272.27H332.05L330.75 274.48Z" fill="none" stroke="#c23e50" stroke-width="0.7"/><path d="M339.45 270.96H342.05L340.75 273.17Z" fill="none" stroke="#c23e50" stroke-width="0.7"/><path d="M349.45 269.95H352.05L350.75 272.16Z" fill="none" stroke="#c23e50" stroke-width="0.7"/><path d="M359.5 268.83H362.1L360.8 271.04Z" fill="none" stroke="#c23e50" stroke-width="0.7"/><path d="M369.6 267.54H372.2L370.9 269.75Z" fill="none" stroke="#c23e50" stroke-width="0.7"/><path d="M379.23 268.81H381.83L380.53 271.02Z" fill="none" stroke="#c23e50" stroke-width="0.7"/><path d="M384.19 277.36H386.79L385.49 279.57Z" fill="none" stroke="#c23e50" stroke-width="0.7"/><path d="M388.08 286.67H390.68L389.38 288.88Z" fill="none" stroke="#c23e50" stroke-width="0.7"/><path d="M394.05 294.57H396.65L395.35 296.78Z" fill="none" stroke="#c23e50" stroke-width="0.7"/><path d="M402.93 296.97H405.53L404.23 299.18Z" fill="none" stroke="#c23e50" stroke-width="0.7"/><path d="M413.09 297.29H415.69L414.39 299.5Z" fill="none" stroke="#c23e50" stroke-width="0.7"/><path d="M423.18 297.74H425.78L424.48 299.95Z" fill="none" stroke="#c23e50" stroke-width="0.7"/><path d="M433.27 299.03H435.87L434.57 301.24Z" fill="none" stroke="#c23e50" stroke-width="0.7"/><path d="M443.12 300.74H445.72L444.42 302.95Z" fill="none" stroke="#c23e50" stroke-width="0.7"/><path d="M452.74 303.64H455.34L454.04 305.85Z" fill="none" stroke="#c23e50" stroke-width="0.7"/><path d="M462.27 306.81H464.87L463.57 309.02Z" fill="none" stroke="#c23e50" stroke-width="0.7"/><path d="M471.8 310.59H474.4L473.1 312.8Z" fill="none" stroke="#c23e50" stroke-width="0.7"/><path d="M480.74 315.52H483.34L482.04 317.73Z" fill="none" stroke="#c23e50" stroke-width="0.7"/><path d="M486.6 320.69H489.2L487.9 322.9Z" fill="none" stroke="#c23e50" stroke-width="0.7"/>
<path d="M300.8 369.99H303.4L302.1 372.2Z" fill="none" stroke="#c23e50" stroke-width="0.7"/><path d="M301.12 365.97H303.72L302.42 368.18Z" fill="none" stroke="#c23e50" stroke-width="0.7"/><path d="M301.44 361.94H304.04L302.74 364.15Z" fill="none" stroke="#c23e50" stroke-width="0.7"/><path d="M301.76 357.92H304.36L303.06 360.13Z" fill="none" stroke="#c23e50" stroke-width="0.7"/><path d="M302.08 353.9H304.68L303.38 356.11Z" fill="none" stroke="#c23e50" stroke-width="0.7"/><path d="M302.52 349.9H305.12L303.82 352.11Z" fill="none" stroke="#c23e50" stroke-width="0.7"/><path d="M303.03 345.92H305.63L304.33 348.13Z" fill="none" stroke="#c23e50" stroke-width="0.7"/><path d="M303.54 341.93H306.14L304.84 344.14Z" fill="none" stroke="#c23e50" stroke-width="0.7"/><path d="M304.17 337.92H306.77L305.47 340.13Z" fill="none" stroke="#c23e50" stroke-width="0.7"/><path d="M304.86 333.9H307.46L306.16 336.11Z" fill="none" stroke="#c23e50" stroke-width="0.7"/><path d="M305.5 329.88H308.1L306.8 332.09Z" fill="none" stroke="#c23e50" stroke-width="0.7"/><path d="M306.11 325.85H308.71L307.41 328.06Z" fill="none" stroke="#c23e50" stroke-width="0.7"/><path d="M310.1 317.94H312.7L311.4 320.15Z" fill="none" stroke="#c23e50" stroke-width="0.7"/><path d="M317.82 324.58H320.42L319.12 326.79Z" fill="none" stroke="#c23e50" stroke-width="0.7"/><path d="M325.08 331.6H327.68L326.38 333.81Z" fill="none" stroke="#c23e50" stroke-width="0.7"/>
<path d="M486.6 321.39H489.2L487.9 323.6Z" fill="none" stroke="#c23e50" stroke-width="0.7"/><path d="M478.75 323.33H481.35L480.05 325.54Z" fill="none" stroke="#c23e50" stroke-width="0.7"/><path d="M470.83 324.53H473.43L472.13 326.74Z" fill="none" stroke="#c23e50" stroke-width="0.7"/><path d="M462.77 325.26H465.37L464.07 327.47Z" fill="none" stroke="#c23e50" stroke-width="0.7"/><path d="M455.18 327.8H457.78L456.48 330.01Z" fill="none" stroke="#c23e50" stroke-width="0.7"/>
<path d="M299.8 397.39H302.4L301.1 399.6Z" fill="none" stroke="#c23e50" stroke-width="0.7"/><path d="M303.61 388.15H306.21L304.91 390.36Z" fill="none" stroke="#c23e50" stroke-width="0.7"/><path d="M310.37 380.62H312.97L311.67 382.83Z" fill="none" stroke="#c23e50" stroke-width="0.7"/><path d="M318.6 374.89H321.2L319.9 377.1Z" fill="none" stroke="#c23e50" stroke-width="0.7"/><path d="M327.74 370.6H330.34L329.04 372.81Z" fill="none" stroke="#c23e50" stroke-width="0.7"/><path d="M337.41 367.73H340.01L338.71 369.94Z" fill="none" stroke="#c23e50" stroke-width="0.7"/><path d="M347.2 365.25H349.8L348.5 367.46Z" fill="none" stroke="#c23e50" stroke-width="0.7"/><path d="M357.15 364.69H359.75L358.45 366.9Z" fill="none" stroke="#c23e50" stroke-width="0.7"/><path d="M367.2 365.18H369.8L368.5 367.39Z" fill="none" stroke="#c23e50" stroke-width="0.7"/><path d="M377.25 366H379.85L378.55 368.21Z" fill="none" stroke="#c23e50" stroke-width="0.7"/><path d="M387.23 367.14H389.83L388.53 369.35Z" fill="none" stroke="#c23e50" stroke-width="0.7"/><path d="M397.17 368.91H399.77L398.47 371.12Z" fill="none" stroke="#c23e50" stroke-width="0.7"/><path d="M407.07 370.92H409.67L408.37 373.13Z" fill="none" stroke="#c23e50" stroke-width="0.7"/><path d="M416.93 373.12H419.53L418.23 375.33Z" fill="none" stroke="#c23e50" stroke-width="0.7"/><path d="M426.63 376.13H429.23L427.93 378.34Z" fill="none" stroke="#c23e50" stroke-width="0.7"/><path d="M436.08 379.61H438.68L437.38 381.82Z" fill="none" stroke="#c23e50" stroke-width="0.7"/><path d="M445.35 383.4H447.95L446.65 385.61Z" fill="none" stroke="#c23e50" stroke-width="0.7"/><path d="M454.75 386.88H457.35L456.05 389.09Z" fill="none" stroke="#c23e50" stroke-width="0.7"/><path d="M464.02 390.79H466.62L465.32 393Z" fill="none" stroke="#c23e50" stroke-width="0.7"/><path d="M473.16 394.94H475.76L474.46 397.15Z" fill="none" stroke="#c23e50" stroke-width="0.7"/><path d="M482.09 399.53H484.69L483.39 401.74Z" fill="none" stroke="#c23e50" stroke-width="0.7"/><path d="M486 401.89H488.6L487.3 404.1Z" fill="none" stroke="#c23e50" stroke-width="0.7"/>
<path d="M299.8 397.39H302.4L301.1 399.6Z" fill="none" stroke="#c23e50" stroke-width="0.7"/><path d="M301.82 405.04H304.43L303.12 407.25Z" fill="none" stroke="#c23e50" stroke-width="0.7"/><path d="M307.79 410.04H310.39L309.09 412.25Z" fill="none" stroke="#c23e50" stroke-width="0.7"/><path d="M315.77 411.39H318.37L317.07 413.6Z" fill="none" stroke="#c23e50" stroke-width="0.7"/><path d="M323.82 410.73H326.42L325.12 412.94Z" fill="none" stroke="#c23e50" stroke-width="0.7"/><path d="M327.3 410.29H329.9L328.6 412.5Z" fill="none" stroke="#c23e50" stroke-width="0.7"/>
<path d="M452.2 397.59H454.8L453.5 399.8Z" fill="none" stroke="#c23e50" stroke-width="0.7"/><path d="M460.33 398.29H462.93L461.63 400.5Z" fill="none" stroke="#c23e50" stroke-width="0.7"/><path d="M468.4 399.19H471L469.7 401.4Z" fill="none" stroke="#c23e50" stroke-width="0.7"/><path d="M476.42 400.27H479.02L477.72 402.48Z" fill="none" stroke="#c23e50" stroke-width="0.7"/><path d="M484.52 401.38H487.12L485.82 403.59Z" fill="none" stroke="#c23e50" stroke-width="0.7"/>
<path d="M302.1 370.9L302.4 350L303.5 325L305.2 310.6L308.8 298.5L313.7 293.6L319.7 288.1L327 282.7L334.3 279L341.6 277.2L350.1 275.4L358.4 272.4L369.9 270.5L381.5 269.1L390 268.2L398.5 268.2L403.8 270.3L408 280.8L412.2 290.4L415.4 296.1L423.8 298.8L430 299.6L443.5 303.5L454.2 306.8L465 310.2L474.4 313.6L482.5 317.6L487.9 321.6" fill="none" stroke="#40b040" stroke-width="1.25" stroke-linejoin="round" stroke-linecap="round"/>
<path d="M302.1 370.9L303.5 353.3L305 341.6L306.5 332.8L307.6 325.5L310.6 318.2L315 321.8L320.8 327L328.9 335" fill="none" stroke="#40b040" stroke-width="1.25" stroke-linejoin="round" stroke-linecap="round"/>
<path d="M487.9 322.3L479.8 324.6L470.4 326.2L462.3 327.7L456.9 331L454.2 334.4" fill="none" stroke="#40b040" stroke-width="1.25" stroke-linejoin="round" stroke-linecap="round"/>
<path d="M301.1 398.7L302.6 392.9L306.5 387.1L312.2 381.4L319.9 376.2L329.5 371.7L339.2 368.9L350.7 366L362.2 364.6L373.8 364.1L385.3 364.1L393 364.6L402.7 366.2L417.5 369.7L432.3 375.2L445 381L457.7 386.2L470.4 392.6L481 398.5L487.3 403.2" fill="none" stroke="#40b040" stroke-width="1.25" stroke-linejoin="round" stroke-linecap="round"/>
<path d="M301.1 398.3L301.7 403.1L303.6 406.9L307.4 410.4L313.2 412.3L319.9 412.3L328.6 411.2" fill="none" stroke="#40b040" stroke-width="1.25" stroke-linejoin="round" stroke-linecap="round"/>
<path d="M453.5 398.5L466.2 399.6L476.7 401.1L484.1 401.7L487.3 402.8" fill="none" stroke="#40b040" stroke-width="1.25" stroke-linejoin="round" stroke-linecap="round"/>
<path d="M300.7 370.9H303.5M302.1 369.5V372.3" stroke="#40b040" stroke-width="0.8"/><path d="M300.76 366.87H303.56M302.16 365.47V368.27" stroke="#40b040" stroke-width="0.8"/><path d="M300.82 362.84H303.62M302.22 361.44V364.24" stroke="#40b040" stroke-width="0.8"/><path d="M300.87 358.81H303.67M302.27 357.41V360.21" stroke="#40b040" stroke-width="0.8"/><path d="M300.93 354.78H303.73M302.33 353.38V356.18" stroke="#40b040" stroke-width="0.8"/><path d="M300.99 350.76H303.79M302.39 349.36V352.16" stroke="#40b040" stroke-width="0.8"/><path d="M301.14 346.75H303.94M302.54 345.35V348.15" stroke="#40b040" stroke-width="0.8"/><path d="M301.32 342.75H304.12M302.72 341.35V344.15" stroke="#40b040" stroke-width="0.8"/><path d="M301.5 338.75H304.29M302.89 337.35V340.15" stroke="#40b040" stroke-width="0.8"/><path d="M301.67 334.75H304.47M303.07 333.35V336.15" stroke="#40b040" stroke-width="0.8"/><path d="M301.85 330.75H304.65M303.25 329.35V332.15" stroke="#40b040" stroke-width="0.8"/><path d="M302.02 326.75H304.82M303.42 325.35V328.15" stroke="#40b040" stroke-width="0.8"/><path d="M302.37 322.73H305.17M303.77 321.33V324.13" stroke="#40b040" stroke-width="0.8"/><path d="M302.85 318.68H305.65M304.25 317.28V320.08" stroke="#40b040" stroke-width="0.8"/><path d="M303.32 314.64H306.12M304.72 313.24V316.04" stroke="#40b040" stroke-width="0.8"/><path d="M303.8 310.6H306.6M305.2 309.2V312" stroke="#40b040" stroke-width="0.8"/><path d="M306.68 300.92H309.48M308.08 299.52V302.32" stroke="#40b040" stroke-width="0.8"/><path d="M312.86 293.08H315.66M314.26 291.68V294.48" stroke="#40b040" stroke-width="0.8"/><path d="M320.53 286.45H323.33M321.93 285.05V287.85" stroke="#40b040" stroke-width="0.8"/><path d="M329.02 280.97H331.82M330.42 279.57V282.37" stroke="#40b040" stroke-width="0.8"/><path d="M338.5 277.62H341.3M339.9 276.22V279.02" stroke="#40b040" stroke-width="0.8"/><path d="M348.45 275.45H351.25M349.85 274.05V276.85" stroke="#40b040" stroke-width="0.8"/><path d="M358 272.23H360.8M359.4 270.83V273.63" stroke="#40b040" stroke-width="0.8"/><path d="M368 270.58H370.8M369.4 269.18V271.98" stroke="#40b040" stroke-width="0.8"/><path d="M378.08 269.34H380.88M379.48 267.94V270.74" stroke="#40b040" stroke-width="0.8"/><path d="M388.1 268.25H390.9M389.5 266.85V269.65" stroke="#40b040" stroke-width="0.8"/><path d="M398.06 268.58H400.86M399.46 267.18V269.98" stroke="#40b040" stroke-width="0.8"/><path d="M404.45 275.43H407.25M405.85 274.03V276.83" stroke="#40b040" stroke-width="0.8"/><path d="M408.34 284.78H411.14M409.74 283.38V286.18" stroke="#40b040" stroke-width="0.8"/><path d="M412.77 293.91H415.57M414.17 292.51V295.31" stroke="#40b040" stroke-width="0.8"/><path d="M421.2 298.41H424M422.6 297.01V299.81" stroke="#40b040" stroke-width="0.8"/><path d="M431.01 300.3H433.81M432.41 298.9V301.7" stroke="#40b040" stroke-width="0.8"/><path d="M440.65 303.08H443.45M442.05 301.68V304.48" stroke="#40b040" stroke-width="0.8"/><path d="M450.37 306.05H453.17M451.77 304.65V307.45" stroke="#40b040" stroke-width="0.8"/><path d="M460 309.07H462.8M461.4 307.67V310.47" stroke="#40b040" stroke-width="0.8"/><path d="M469.63 312.38H472.43M471.03 310.98V313.78" stroke="#40b040" stroke-width="0.8"/><path d="M478.85 316.49H481.65M480.25 315.09V317.89" stroke="#40b040" stroke-width="0.8"/><path d="M486.5 321.6H489.3M487.9 320.2V323" stroke="#40b040" stroke-width="0.8"/>
<path d="M300.7 370.9H303.5M302.1 369.5V372.3" stroke="#40b040" stroke-width="0.8"/><path d="M301.02 366.88H303.82M302.42 365.48V368.28" stroke="#40b040" stroke-width="0.8"/><path d="M301.34 362.85H304.14M302.74 361.45V364.25" stroke="#40b040" stroke-width="0.8"/><path d="M301.66 358.83H304.46M303.06 357.43V360.23" stroke="#40b040" stroke-width="0.8"/><path d="M301.98 354.81H304.78M303.38 353.41V356.21" stroke="#40b040" stroke-width="0.8"/><path d="M302.42 350.81H305.22M303.82 349.41V352.21" stroke="#40b040" stroke-width="0.8"/><path d="M302.93 346.83H305.73M304.33 345.43V348.23" stroke="#40b040" stroke-width="0.8"/><path d="M303.44 342.84H306.24M304.84 341.44V344.24" stroke="#40b040" stroke-width="0.8"/><path d="M304.07 338.83H306.87M305.47 337.43V340.23" stroke="#40b040" stroke-width="0.8"/><path d="M304.76 334.81H307.56M306.16 333.41V336.21" stroke="#40b040" stroke-width="0.8"/><path d="M305.4 330.79H308.2M306.8 329.39V332.19" stroke="#40b040" stroke-width="0.8"/><path d="M306.01 326.76H308.81M307.41 325.36V328.16" stroke="#40b040" stroke-width="0.8"/><path d="M310 318.85H312.8M311.4 317.45V320.25" stroke="#40b040" stroke-width="0.8"/><path d="M317.72 325.49H320.52M319.12 324.09V326.89" stroke="#40b040" stroke-width="0.8"/><path d="M324.98 332.51H327.78M326.38 331.11V333.91" stroke="#40b040" stroke-width="0.8"/>
<path d="M486.5 322.3H489.3M487.9 320.9V323.7" stroke="#40b040" stroke-width="0.8"/><path d="M478.65 324.53H481.45M480.05 323.13V325.93" stroke="#40b040" stroke-width="0.8"/><path d="M470.73 325.91H473.53M472.13 324.51V327.31" stroke="#40b040" stroke-width="0.8"/><path d="M462.67 327.37H465.47M464.07 325.97V328.77" stroke="#40b040" stroke-width="0.8"/><path d="M455.5 331H458.3M456.9 329.6V332.4" stroke="#40b040" stroke-width="0.8"/><path d="M452.8 334.4H455.6M454.2 333V335.8" stroke="#40b040" stroke-width="0.8"/>
<path d="M299.7 398.7H302.5M301.1 397.3V400.1" stroke="#40b040" stroke-width="0.8"/><path d="M303.51 389.46H306.31M304.91 388.06V390.86" stroke="#40b040" stroke-width="0.8"/><path d="M310.27 381.93H313.07M311.67 380.53V383.33" stroke="#40b040" stroke-width="0.8"/><path d="M318.5 376.2H321.3M319.9 374.8V377.6" stroke="#40b040" stroke-width="0.8"/><path d="M327.64 371.91H330.44M329.04 370.51V373.31" stroke="#40b040" stroke-width="0.8"/><path d="M337.31 369.04H340.11M338.71 367.64V370.44" stroke="#40b040" stroke-width="0.8"/><path d="M347.1 366.56H349.9M348.5 365.16V367.96" stroke="#40b040" stroke-width="0.8"/><path d="M357.05 365.06H359.85M358.45 363.66V366.46" stroke="#40b040" stroke-width="0.8"/><path d="M367.1 364.33H369.9M368.5 362.93V365.73" stroke="#40b040" stroke-width="0.8"/><path d="M377.15 364.1H379.95M378.55 362.7V365.5" stroke="#40b040" stroke-width="0.8"/><path d="M387.24 364.32H390.04M388.64 362.92V365.72" stroke="#40b040" stroke-width="0.8"/><path d="M397.32 365.54H400.12M398.72 364.14V366.94" stroke="#40b040" stroke-width="0.8"/><path d="M407.22 367.6H410.02M408.62 366.2V369" stroke="#40b040" stroke-width="0.8"/><path d="M417.04 370.05H419.84M418.44 368.65V371.45" stroke="#40b040" stroke-width="0.8"/><path d="M426.44 373.54H429.24M427.84 372.14V374.94" stroke="#40b040" stroke-width="0.8"/><path d="M435.75 377.41H438.55M437.15 376.01V378.81" stroke="#40b040" stroke-width="0.8"/><path d="M445.01 381.58H447.81M446.41 380.18V382.98" stroke="#40b040" stroke-width="0.8"/><path d="M454.42 385.43H457.22M455.82 384.03V386.83" stroke="#40b040" stroke-width="0.8"/><path d="M463.56 389.86H466.36M464.96 388.46V391.26" stroke="#40b040" stroke-width="0.8"/><path d="M472.53 394.57H475.33M473.93 393.17V395.97" stroke="#40b040" stroke-width="0.8"/><path d="M481.23 399.71H484.03M482.63 398.31V401.11" stroke="#40b040" stroke-width="0.8"/><path d="M485.9 403.2H488.7M487.3 401.8V404.6" stroke="#40b040" stroke-width="0.8"/>
<path d="M299.7 398.3H302.5M301.1 396.9V399.7" stroke="#40b040" stroke-width="0.8"/><path d="M301.73 405.95H304.52M303.12 404.55V407.35" stroke="#40b040" stroke-width="0.8"/><path d="M307.69 410.95H310.49M309.09 409.55V412.35" stroke="#40b040" stroke-width="0.8"/><path d="M315.67 412.3H318.47M317.07 410.9V413.7" stroke="#40b040" stroke-width="0.8"/><path d="M323.72 411.64H326.52M325.12 410.24V413.04" stroke="#40b040" stroke-width="0.8"/><path d="M327.2 411.2H330M328.6 409.8V412.6" stroke="#40b040" stroke-width="0.8"/>
<path d="M452.1 398.5H454.9M453.5 397.1V399.9" stroke="#40b040" stroke-width="0.8"/><path d="M460.23 399.2H463.03M461.63 397.8V400.6" stroke="#40b040" stroke-width="0.8"/><path d="M468.3 400.1H471.1M469.7 398.7V401.5" stroke="#40b040" stroke-width="0.8"/><path d="M476.32 401.18H479.12M477.72 399.78V402.58" stroke="#40b040" stroke-width="0.8"/><path d="M484.42 402.29H487.22M485.82 400.89V403.69" stroke="#40b040" stroke-width="0.8"/>
<path d="M302.1 370.9L302 350L302.1 325L302.6 312.4L305.5 297L309.3 290.3L314.2 284.5L321.8 280.7L331.5 278.7L343 276.2L354.5 274.5L366.1 273.5L375.7 273.9L381.5 277.8L385.3 282.6L389.2 287.4L390 287.2L394.2 290.4L398.5 289.3L403.8 285.5L410.1 284L416.4 287.2L422.8 291.8L430.2 296.1L438.7 299.9L449.2 303.7L457.7 307.3L465 308.8L473.1 311.8L481.1 315.8L487.9 321.6" fill="none" stroke="#3a34c0" stroke-width="1.5" stroke-linejoin="round" stroke-linecap="round"/>
<path d="M302.1 370.9L303.5 353.3L305 341.6L306.5 332.8L307.6 325.5L310.6 318.2L315 321.8L320.8 327L328.9 335" fill="none" stroke="#3a34c0" stroke-width="1.5" stroke-linejoin="round" stroke-linecap="round"/>
<path d="M487.9 322.3L479.8 324.3L470.4 325.7L462.3 326.3L456.9 328.4L454.2 330.4" fill="none" stroke="#3a34c0" stroke-width="1.5" stroke-linejoin="round" stroke-linecap="round"/>
<path d="M301.1 398.3L302.6 392.5L306.5 386.7L312.2 381L319.9 375.8L329.5 371.3L339.2 368.5L350.7 365.6L362.2 364.2L373.8 363.7L385.3 363.7L393 364.2L402.7 365.8L417.5 369.3L432.3 374.8L445 380.6L457.7 385.8L470.4 392.2L481 398.1L487.3 402.8" fill="none" stroke="#3a34c0" stroke-width="1.5" stroke-linejoin="round" stroke-linecap="round"/>
<path d="M301.1 398.3L301.7 403.1L303.6 406.9L307.4 410.4L313.2 412.3L319.9 412.3L328.6 411.2" fill="none" stroke="#3a34c0" stroke-width="1.5" stroke-linejoin="round" stroke-linecap="round"/>
<path d="M453.5 398.5L466.2 399.6L476.7 401.1L484.1 401.7L487.3 402.8" fill="none" stroke="#3a34c0" stroke-width="1.5" stroke-linejoin="round" stroke-linecap="round"/>
<circle cx="302.1" cy="370.9" r="1.75" fill="#3c3496"/><circle cx="302.08" cy="366.87" r="1.75" fill="#3c3496"/><circle cx="302.06" cy="362.84" r="1.75" fill="#3c3496"/><circle cx="302.04" cy="358.81" r="1.75" fill="#3c3496"/><circle cx="302.02" cy="354.78" r="1.75" fill="#3c3496"/><circle cx="302" cy="350.76" r="1.75" fill="#3c3496"/><circle cx="302.01" cy="346.75" r="1.75" fill="#3c3496"/><circle cx="302.03" cy="342.75" r="1.75" fill="#3c3496"/><circle cx="302.05" cy="338.75" r="1.75" fill="#3c3496"/><circle cx="302.06" cy="334.75" r="1.75" fill="#3c3496"/><circle cx="302.08" cy="330.75" r="1.75" fill="#3c3496"/><circle cx="302.09" cy="326.75" r="1.75" fill="#3c3496"/><circle cx="302.19" cy="322.73" r="1.75" fill="#3c3496"/><circle cx="302.35" cy="318.7" r="1.75" fill="#3c3496"/><circle cx="302.51" cy="314.67" r="1.75" fill="#3c3496"/><circle cx="302.93" cy="310.66" r="1.75" fill="#3c3496"/><circle cx="304.8" cy="300.73" r="1.75" fill="#3c3496"/><circle cx="308.67" cy="291.42" r="1.75" fill="#3c3496"/><circle cx="315.35" cy="283.92" r="1.75" fill="#3c3496"/><circle cx="324.54" cy="280.14" r="1.75" fill="#3c3496"/><circle cx="334.44" cy="278.06" r="1.75" fill="#3c3496"/><circle cx="344.25" cy="276.02" r="1.75" fill="#3c3496"/><circle cx="354.25" cy="274.54" r="1.75" fill="#3c3496"/><circle cx="364.33" cy="273.65" r="1.75" fill="#3c3496"/><circle cx="374.44" cy="273.85" r="1.75" fill="#3c3496"/><circle cx="382.61" cy="279.2" r="1.75" fill="#3c3496"/><circle cx="388.88" cy="287" r="1.75" fill="#3c3496"/><circle cx="397.49" cy="289.56" r="1.75" fill="#3c3496"/><circle cx="406.32" cy="284.9" r="1.75" fill="#3c3496"/><circle cx="415.72" cy="286.86" r="1.75" fill="#3c3496"/><circle cx="424.11" cy="292.56" r="1.75" fill="#3c3496"/><circle cx="432.96" cy="297.33" r="1.75" fill="#3c3496"/><circle cx="442.28" cy="301.2" r="1.75" fill="#3c3496"/><circle cx="451.8" cy="304.8" r="1.75" fill="#3c3496"/><circle cx="461.22" cy="308.02" r="1.75" fill="#3c3496"/><circle cx="470.96" cy="311.01" r="1.75" fill="#3c3496"/><circle cx="480.19" cy="315.34" r="1.75" fill="#3c3496"/><circle cx="487.9" cy="321.6" r="1.75" fill="#3c3496"/>
<circle cx="302.1" cy="370.9" r="1.75" fill="#3c3496"/><circle cx="302.42" cy="366.88" r="1.75" fill="#3c3496"/><circle cx="302.74" cy="362.85" r="1.75" fill="#3c3496"/><circle cx="303.06" cy="358.83" r="1.75" fill="#3c3496"/><circle cx="303.38" cy="354.81" r="1.75" fill="#3c3496"/><circle cx="303.82" cy="350.81" r="1.75" fill="#3c3496"/><circle cx="304.33" cy="346.83" r="1.75" fill="#3c3496"/><circle cx="304.84" cy="342.84" r="1.75" fill="#3c3496"/><circle cx="305.47" cy="338.83" r="1.75" fill="#3c3496"/><circle cx="306.16" cy="334.81" r="1.75" fill="#3c3496"/><circle cx="306.8" cy="330.79" r="1.75" fill="#3c3496"/><circle cx="307.41" cy="326.76" r="1.75" fill="#3c3496"/><circle cx="311.4" cy="318.85" r="1.75" fill="#3c3496"/><circle cx="319.12" cy="325.49" r="1.75" fill="#3c3496"/><circle cx="326.38" cy="332.51" r="1.75" fill="#3c3496"/>
<circle cx="487.9" cy="322.3" r="1.75" fill="#3c3496"/><circle cx="480.05" cy="324.24" r="1.75" fill="#3c3496"/><circle cx="472.13" cy="325.44" r="1.75" fill="#3c3496"/><circle cx="464.07" cy="326.17" r="1.75" fill="#3c3496"/><circle cx="456.48" cy="328.71" r="1.75" fill="#3c3496"/>
<circle cx="301.1" cy="398.3" r="1.75" fill="#3c3496"/><circle cx="304.91" cy="389.06" r="1.75" fill="#3c3496"/><circle cx="311.67" cy="381.53" r="1.75" fill="#3c3496"/><circle cx="319.9" cy="375.8" r="1.75" fill="#3c3496"/><circle cx="329.04" cy="371.51" r="1.75" fill="#3c3496"/><circle cx="338.71" cy="368.64" r="1.75" fill="#3c3496"/><circle cx="348.5" cy="366.16" r="1.75" fill="#3c3496"/><circle cx="358.45" cy="364.66" r="1.75" fill="#3c3496"/><circle cx="368.5" cy="363.93" r="1.75" fill="#3c3496"/><circle cx="378.55" cy="363.7" r="1.75" fill="#3c3496"/><circle cx="388.64" cy="363.92" r="1.75" fill="#3c3496"/><circle cx="398.72" cy="365.14" r="1.75" fill="#3c3496"/><circle cx="408.62" cy="367.2" r="1.75" fill="#3c3496"/><circle cx="418.44" cy="369.65" r="1.75" fill="#3c3496"/><circle cx="427.84" cy="373.14" r="1.75" fill="#3c3496"/><circle cx="437.15" cy="377.01" r="1.75" fill="#3c3496"/><circle cx="446.41" cy="381.18" r="1.75" fill="#3c3496"/><circle cx="455.82" cy="385.03" r="1.75" fill="#3c3496"/><circle cx="464.96" cy="389.46" r="1.75" fill="#3c3496"/><circle cx="473.93" cy="394.17" r="1.75" fill="#3c3496"/><circle cx="482.63" cy="399.31" r="1.75" fill="#3c3496"/><circle cx="487.3" cy="402.8" r="1.75" fill="#3c3496"/>
<circle cx="301.1" cy="398.3" r="1.75" fill="#3c3496"/><circle cx="303.12" cy="405.95" r="1.75" fill="#3c3496"/><circle cx="309.09" cy="410.95" r="1.75" fill="#3c3496"/><circle cx="317.07" cy="412.3" r="1.75" fill="#3c3496"/><circle cx="325.12" cy="411.64" r="1.75" fill="#3c3496"/><circle cx="328.6" cy="411.2" r="1.75" fill="#3c3496"/>
<circle cx="453.5" cy="398.5" r="1.75" fill="#3c3496"/><circle cx="461.63" cy="399.2" r="1.75" fill="#3c3496"/><circle cx="469.7" cy="400.1" r="1.75" fill="#3c3496"/><circle cx="477.72" cy="401.18" r="1.75" fill="#3c3496"/><circle cx="485.82" cy="402.29" r="1.75" fill="#3c3496"/>
<path d="M319.2 402.2H355" stroke="#444444" stroke-width="1.5"/>
<rect x="335.8" y="400.9" width="2.6" height="2.6" fill="#707070" stroke="#2a2a2a" stroke-width="0.75"/>
<text x="361.3" y="405" class="lg">Isolated Nac, Config1, 270°</text>
<path d="M319.2 411.8H355" stroke="#c23e50" stroke-width="1.35"/>
<path d="M335.8 410.89H338.4L337.1 413.1Z" fill="none" stroke="#c23e50" stroke-width="0.7"/>
<text x="361.3" y="414.6" class="lg">Isolated Nac, Config2, 270°</text>
<path d="M319.2 421.4H355" stroke="#40b040" stroke-width="1.25"/>
<path d="M335.7 421.4H338.5M337.1 420V422.8" stroke="#40b040" stroke-width="0.8"/>
<text x="361.3" y="424.2" class="lg">Isolated Nac, Config3, 270°</text>
<path d="M319.2 431H355" stroke="#3a34c0" stroke-width="1.5"/>
<circle cx="337.1" cy="431" r="1.75" fill="#3c3496"/>
<text x="361.3" y="433.8" class="lg">Isolated Nac, Config4, 270°</text>
</svg></body></html>
